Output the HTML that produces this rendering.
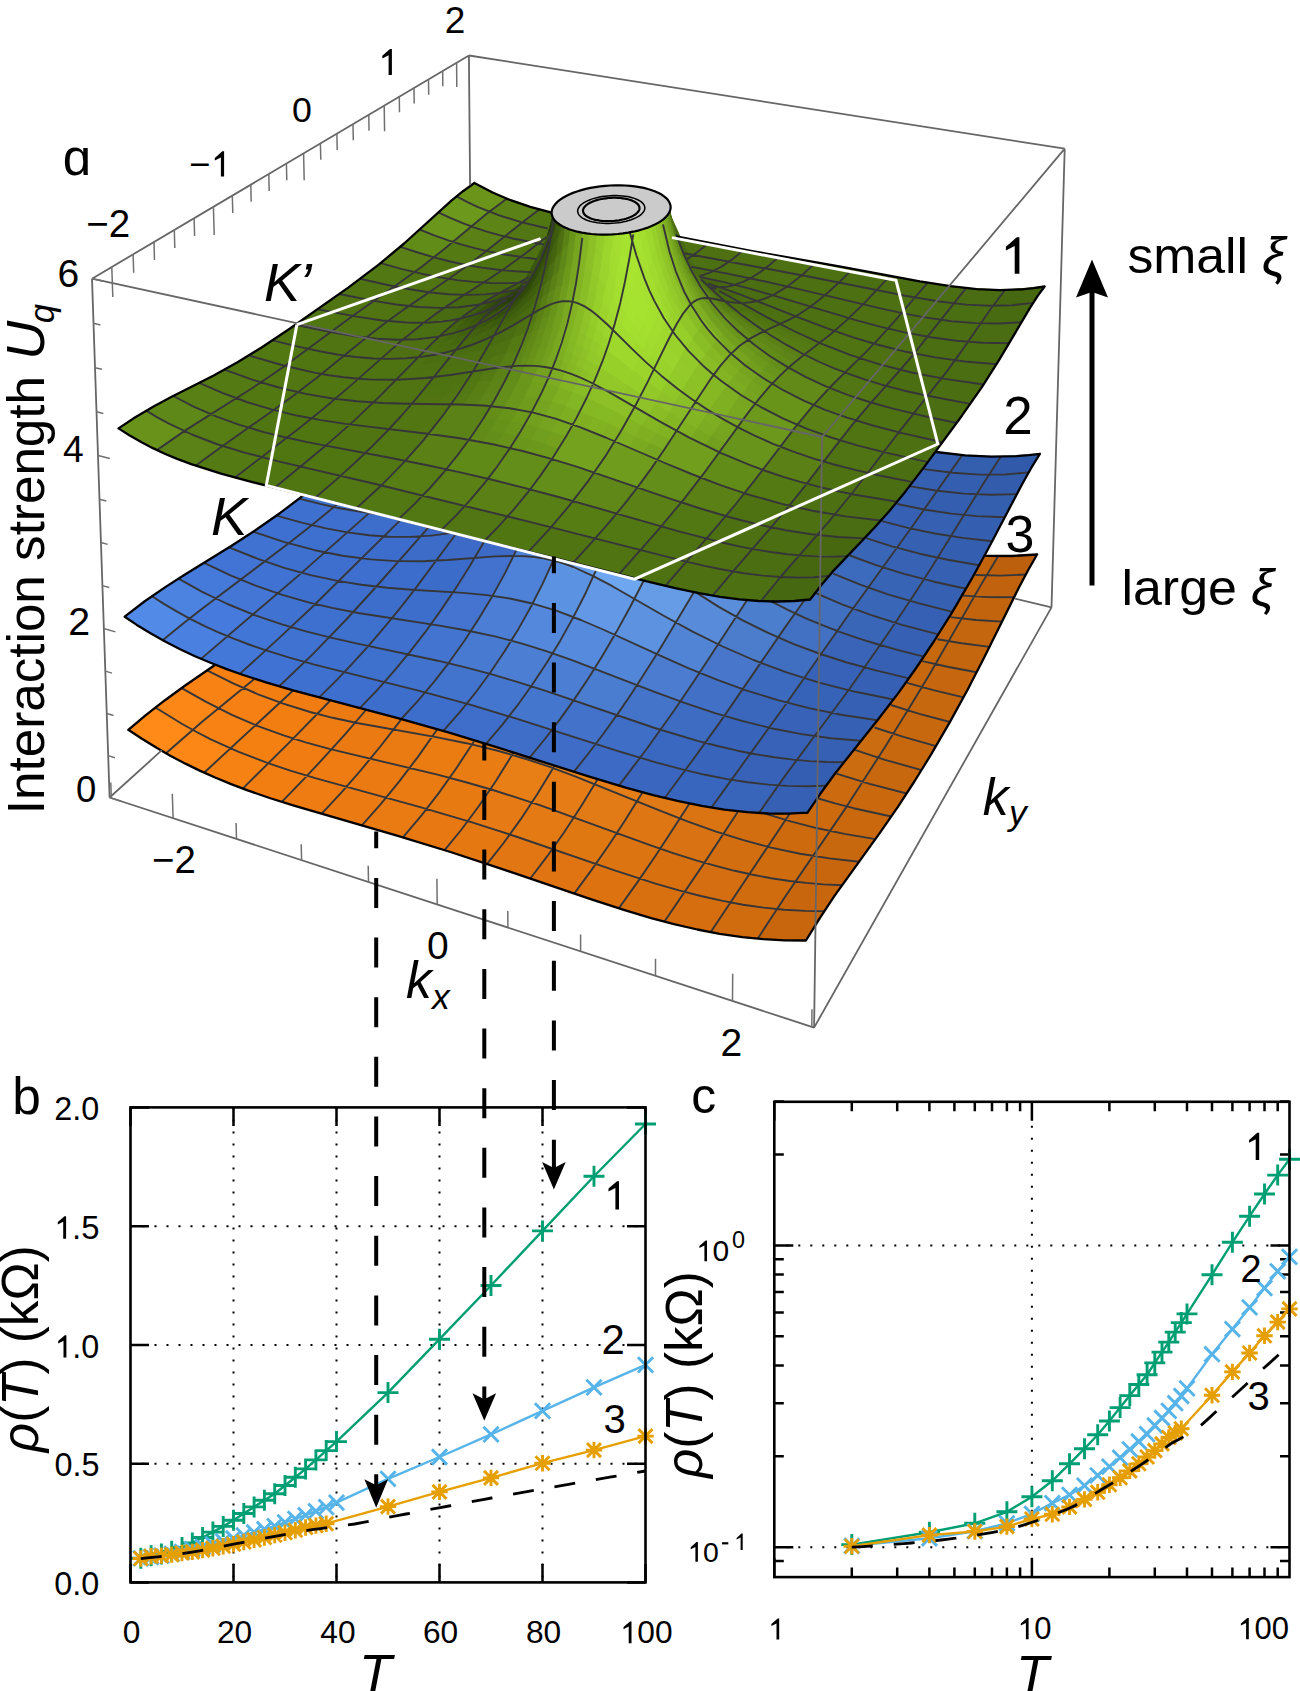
<!DOCTYPE html>
<html><head><meta charset="utf-8"><style>
html,body{margin:0;padding:0;background:#fff;}
svg{display:block;}
text{font-family:"Liberation Sans",sans-serif;}
</style></head><body>
<svg width="1300" height="1691" viewBox="0 0 1300 1691">
<rect width="1300" height="1691" fill="#fff"/>
<g stroke-width=".6"><path d="M128.3 729.8 166 753.3 192.6 729.9 155.4 707.5z" fill="#ff8a18" stroke="#ff8a18"/><path d="M155.4 707.5 192.6 729.9 218.4 708.3 181.6 688.1zM166 753.3 204.1 772.7 230.3 748.3 192.6 729.9z" fill="#fc8616" stroke="#fc8616"/><path d="M181.6 688.1 218.4 708.3 243.4 688 207.1 670.4zM192.6 729.9 230.3 748.3 255.6 725.1 218.4 708.3z" fill="#f88214" stroke="#f88214"/><path d="M207.1 670.4 243.4 688 267.6 668.3 231.7 653.4z" fill="#f68012" stroke="#f68012"/><path d="M218.4 708.3 255.6 725.1 280.1 702.6 243.4 688z" fill="#f68014" stroke="#f68014"/><path d="M243.4 688 280.1 702.6 303.9 680.4 267.6 668.3zM255.6 725.1 293.3 738.5 317.3 713.9 280.1 702.6zM242.7 788.6 281.8 801.9 307 775.8 268.4 763.3z" fill="#f27e12" stroke="#f27e12"/><path d="M204.1 772.7 242.7 788.6 268.4 763.3 230.3 748.3z" fill="#f68214" stroke="#f68214"/><path d="M230.3 748.3 268.4 763.3 293.3 738.5 255.6 725.1z" fill="#f48012" stroke="#f48012"/><path d="M280.1 702.6 317.3 713.9 340.7 689.4 303.9 680.4zM268.4 763.3 307 775.8 331.5 749.4 293.3 738.5z" fill="#f07c12" stroke="#f07c12"/><path d="M293.3 738.5 331.5 749.4 355.1 722.6 317.3 713.9zM281.8 801.9 321.5 813.8 346.3 786.9 307 775.8zM307 775.8 346.3 786.9 370.3 758.8 331.5 749.4z" fill="#ee7c12" stroke="#ee7c12"/><path d="M317.3 713.9 355.1 722.6 378 695.6 340.7 689.4zM331.5 749.4 370.3 758.8 393.4 729.7 355.1 722.6zM321.5 813.8 361.9 825.4 386.2 797.7 346.3 786.9zM346.3 786.9 386.2 797.7 409.7 768 370.3 758.8z" fill="#ec7a12" stroke="#ec7a12"/><path d="M355.1 722.6 393.4 729.7 415.9 699.8 378 695.6zM370.3 758.8 409.7 768 432.4 736.5 393.4 729.7zM361.9 825.4 402.9 837.4 426.7 808.9 386.2 797.7zM386.2 797.7 426.7 808.9 449.7 777.8 409.7 768z" fill="#ea7a12" stroke="#ea7a12"/><path d="M393.4 729.7 432.4 736.5 454.3 703.5 415.9 699.8zM402.9 837.4 444.6 850.2 468 821.1 426.7 808.9z" fill="#e87812" stroke="#e87812"/><path d="M409.7 768 449.7 777.8 472 744.4 432.4 736.5z" fill="#ea7c12" stroke="#ea7c12"/><path d="M432.4 736.5 472 744.4 493.5 708.9 454.3 703.5z" fill="#e87a14" stroke="#e87a14"/><path d="M426.7 808.9 468 821.1 490.5 789.3 449.7 777.8z" fill="#e87a12" stroke="#e87a12"/><path d="M449.7 777.8 490.5 789.3 512.2 754.8 472 744.4z" fill="#ea7c14" stroke="#ea7c14"/><path d="M472 744.4 512.2 754.8 533.3 717.9 493.5 708.9z" fill="#ea7e16" stroke="#ea7e16"/><path d="M444.6 850.2 487.1 863.9 509.9 834.5 468 821.1z" fill="#e67812" stroke="#e67812"/><path d="M468 821.1 509.9 834.5 531.9 802.5 490.5 789.3z" fill="#e67a14" stroke="#e67a14"/><path d="M490.5 789.3 531.9 802.5 553.2 768.2 512.2 754.8z" fill="#e87e16" stroke="#e87e16"/><path d="M512.2 754.8 553.2 768.2 573.7 731.7 533.3 717.9z" fill="#ea8018" stroke="#ea8018"/><path d="M487.1 863.9 530.3 878.5 552.5 849 509.9 834.5z" fill="#e27612" stroke="#e27612"/><path d="M509.9 834.5 552.5 849 574 817.4 531.9 802.5z" fill="#e47a14" stroke="#e47a14"/><path d="M531.9 802.5 574 817.4 594.7 784.1 553.2 768.2z" fill="#e67c16" stroke="#e67c16"/><path d="M553.2 768.2 594.7 784.1 614.8 749.4 573.7 731.7z" fill="#e88018" stroke="#e88018"/><path d="M530.3 878.5 574.2 893.6 595.8 864 552.5 849z" fill="#e07412" stroke="#e07412"/><path d="M552.5 849 595.8 864 616.8 833.2 574 817.4z" fill="#e07812" stroke="#e07812"/><path d="M574 817.4 616.8 833.2 637 801.4 594.7 784.1z" fill="#e27a16" stroke="#e27a16"/><path d="M594.7 784.1 637 801.4 656.5 768.9 614.8 749.4z" fill="#e67e18" stroke="#e67e18"/><path d="M574.2 893.6 618.8 908.4 639.9 878.7 595.8 864z" fill="#dc7210" stroke="#dc7210"/><path d="M595.8 864 639.9 878.7 660.2 848.7 616.8 833.2z" fill="#dc7412" stroke="#dc7412"/><path d="M616.8 833.2 660.2 848.7 679.9 818.5 637 801.4z" fill="#de7614" stroke="#de7614"/><path d="M637 801.4 679.9 818.5 698.9 788.1 656.5 768.9z" fill="#e07a16" stroke="#e07a16"/><path d="M618.8 908.4 664.3 921.7 684.7 891.9 639.9 878.7zM639.9 878.7 684.7 891.9 704.4 862.8 660.2 848.7z" fill="#d87010" stroke="#d87010"/><path d="M660.2 848.7 704.4 862.8 723.5 834 679.9 818.5z" fill="#d87212" stroke="#d87212"/><path d="M679.9 818.5 723.5 834 741.9 805.5 698.9 788.1z" fill="#da7412" stroke="#da7412"/><path d="M664.3 921.7 710.6 932.2 730.4 902.4 684.7 891.9z" fill="#d66e10" stroke="#d66e10"/><path d="M684.7 891.9 730.4 902.4 749.4 874.1 704.4 862.8z" fill="#d46e10" stroke="#d46e10"/><path d="M704.4 862.8 749.4 874.1 767.9 846.7 723.5 834zM723.5 834 767.9 846.7 785.6 820 741.9 805.5zM741.9 805.5 785.6 820 802.8 793.6 759.7 777.4z" fill="#d26e10" stroke="#d26e10"/><path d="M710.6 932.2 757.7 938.7 776.8 909.1 730.4 902.4zM730.4 902.4 776.8 909.1 795.3 881.7 749.4 874.1z" fill="#d06c0e" stroke="#d06c0e"/><path d="M749.4 874.1 795.3 881.7 813 856 767.9 846.7z" fill="#ce6c0e" stroke="#ce6c0e"/><path d="M767.9 846.7 813 856 830.1 831.1 785.6 820zM785.6 820 830.1 831.1 846.7 806.4 802.8 793.6z" fill="#ce6a0e" stroke="#ce6a0e"/><path d="M802.8 793.6 846.7 806.4 862.7 782 819.5 767.8zM851.2 718.9 893.2 733.8 907.8 710.3 866.3 696.2z" fill="#cc6a10" stroke="#cc6a10"/><path d="M819.5 767.8 862.7 782 878.2 757.7 835.6 742.7zM835.6 742.7 878.2 757.7 893.2 733.8 851.2 718.9z" fill="#cc6c10" stroke="#cc6c10"/><path d="M866.3 696.2 907.8 710.3 921.9 687.2 880.9 674.6z" fill="#ca6a10" stroke="#ca6a10"/><path d="M880.9 674.6 921.9 687.2 935.6 664.2 895.1 653.6zM813 856 859 861.7 875.4 839.1 830.1 831.1zM862.7 782 906.7 793.5 921.6 770.1 878.2 757.7zM878.2 757.7 921.6 770.1 936 746.2 893.2 733.8zM893.2 733.8 936 746.2 950 722 907.8 710.3z" fill="#c8680e" stroke="#c8680e"/><path d="M895.1 653.6 935.6 664.2 948.8 641.3 908.8 632.9zM907.8 710.3 950 722 963.5 697.3 921.9 687.2z" fill="#c6680e" stroke="#c6680e"/><path d="M908.8 632.9 948.8 641.3 961.7 618.6 922.2 612.4zM921.9 687.2 963.5 697.3 976.7 672.2 935.6 664.2z" fill="#c6660e" stroke="#c6660e"/><path d="M922.2 612.4 961.7 618.6 974.3 596.4 935.1 592.2zM935.1 592.2 974.3 596.4 986.4 575.4 947.7 572.6zM935.6 664.2 976.7 672.2 989.5 646.9 948.8 641.3zM948.8 641.3 989.5 646.9 1002 621.6 961.7 618.6z" fill="#c4660e" stroke="#c4660e"/><path d="M947.7 572.6 986.4 575.4 998.2 556.1 960 553.8zM961.7 618.6 1002 621.6 1014.1 597.2 974.3 596.4z" fill="#c2640e" stroke="#c2640e"/><path d="M757.7 938.7 805.9 940.5 824.3 911.2 776.8 909.1zM776.8 909.1 824.3 911.2 842 885.3 795.3 881.7zM795.3 881.7 842 885.3 859 861.7 813 856z" fill="#c8660e" stroke="#c8660e"/><path d="M830.1 831.1 875.4 839.1 891.3 816.5 846.7 806.4zM846.7 806.4 891.3 816.5 906.7 793.5 862.7 782z" fill="#ca680e" stroke="#ca680e"/><path d="M974.3 596.4 1014.1 597.2 1025.8 574.5 986.4 575.4z" fill="#c0620e" stroke="#c0620e"/><path d="M986.4 575.4 1025.8 574.5 1037.1 554.5 998.2 556.1z" fill="#bc600e" stroke="#bc600e"/></g>
<g></g>
<g stroke-width=".6"><path d="M124.7 616.7 162.6 640.2 189.5 618.4 152 596.2z" fill="#528ae8" stroke="#528ae8"/><path d="M152 596.2 189.5 618.4 215.5 598.5 178.5 578.6z" fill="#4c82e0" stroke="#4c82e0"/><path d="M178.5 578.6 215.5 598.5 240.7 579.7 204.1 562.8z" fill="#467ada" stroke="#467ada"/><path d="M204.1 562.8 240.7 579.7 265.1 561.5 229 547.4z" fill="#4274d6" stroke="#4274d6"/><path d="M229 547.4 265.1 561.5 288.8 543.3 253.1 531.8zM252.9 614.4 290.9 627.1 315.2 604.1 277.7 593.4zM265.8 650.3 304.7 662 329.3 637.3 290.9 627.1z" fill="#4072d2" stroke="#4072d2"/><path d="M253.1 531.8 288.8 543.3 311.7 525.2 276.4 515.6z" fill="#3e70d2" stroke="#3e70d2"/><path d="M276.4 515.6 311.7 525.2 333.9 507 299.1 498.7zM299.1 498.7 333.9 507 355.5 489 321 481.3zM265.1 561.5 301.6 572.8 324.9 552.4 288.8 543.3zM288.8 543.3 324.9 552.4 347.4 532.4 311.7 525.2zM277.7 593.4 315.2 604.1 338.7 581.1 301.6 572.8zM290.9 627.1 329.3 637.3 353.2 612.1 315.2 604.1zM279.2 686.3 319.2 697.4 344.2 672.3 304.7 662zM304.7 662 344.2 672.3 368.4 646 329.3 637.3z" fill="#3e70d0" stroke="#3e70d0"/><path d="M421.6 386.6 454.5 400.2 472.7 382.9 440.1 367.5z" fill="#5286dc" stroke="#5286dc"/><path d="M162.6 640.2 201 658.9 227.4 636.1 189.5 618.4z" fill="#4a80e0" stroke="#4a80e0"/><path d="M189.5 618.4 227.4 636.1 252.9 614.4 215.5 598.5z" fill="#467adc" stroke="#467adc"/><path d="M215.5 598.5 252.9 614.4 277.7 593.4 240.7 579.7z" fill="#4476d6" stroke="#4476d6"/><path d="M240.7 579.7 277.7 593.4 301.6 572.8 265.1 561.5zM239.8 673.9 279.2 686.3 304.7 662 265.8 650.3z" fill="#4072d4" stroke="#4072d4"/><path d="M311.7 525.2 347.4 532.4 369.2 513 333.9 507zM333.9 507 369.2 513 390.4 494.4 355.5 489zM301.6 572.8 338.7 581.1 361.5 558.4 324.9 552.4zM324.9 552.4 361.5 558.4 383.6 536.4 347.4 532.4zM315.2 604.1 353.2 612.1 376.3 586.6 338.7 581.1zM338.7 581.1 376.3 586.6 398.6 561.1 361.5 558.4zM319.2 697.4 359.8 708.1 384.4 682.1 344.2 672.3z" fill="#3e6ece" stroke="#3e6ece"/><path d="M435.8 417.9 469.4 427 487.8 410.9 454.5 400.2zM453.1 592.2 492.6 595.8 513.5 555.9 474.6 557.9z" fill="#4272ce" stroke="#4272ce"/><path d="M454.5 400.2 487.8 410.9 505.7 394.9 472.7 382.9zM466.8 703.7 509 716.3 531.2 686.2 489.5 673.7z" fill="#4476d0" stroke="#4476d0"/><path d="M201 658.9 239.8 673.9 265.8 650.3 227.4 636.1z" fill="#4478d8" stroke="#4478d8"/><path d="M227.4 636.1 265.8 650.3 290.9 627.1 252.9 614.4z" fill="#4276d6" stroke="#4276d6"/><path d="M347.4 532.4 383.6 536.4 405 515.5 369.2 513zM353.2 612.1 391.8 618.4 414.4 589.9 376.3 586.6zM391.8 618.4 431 624.3 453.1 592.2 414.4 589.9zM359.8 708.1 401.2 719 425.2 692.4 384.4 682.1zM401.2 719 443.3 730.9 466.8 703.7 425.2 692.4z" fill="#3e6ecc" stroke="#3e6ecc"/><path d="M369.2 513 405 515.5 425.9 496.3 390.4 494.4zM383.6 536.4 420.3 536.4 441.3 513.6 405 515.5zM414.4 589.9 453.1 592.2 474.6 557.9 436.3 560.7z" fill="#3c6cca" stroke="#3c6cca"/><path d="M450.5 443.3 484.9 448 503.5 433.4 469.4 427zM398.6 561.1 436.3 560.7 457.5 531.8 420.3 536.4z" fill="#3c6cc8" stroke="#3c6cc8"/><path d="M469.4 427 503.5 433.4 521.5 418.8 487.8 410.9z" fill="#3c6ac8" stroke="#3c6ac8"/><path d="M523.1 379.4 556.2 389.3 572.8 374.5 540.1 364.5z" fill="#406ec8" stroke="#406ec8"/><path d="M361.5 558.4 398.6 561.1 420.3 536.4 383.6 536.4zM376.3 586.6 414.4 589.9 436.3 560.7 398.6 561.1z" fill="#3c6ccc" stroke="#3c6ccc"/><path d="M484.9 448 519.7 449.7 538 437.2 503.5 433.4zM556.2 389.3 589.6 397.1 605.9 382.4 572.8 374.5zM420.3 536.4 457.5 531.8 478.2 505.4 441.3 513.6z" fill="#3a68c4" stroke="#3a68c4"/><path d="M329.3 637.3 368.4 646 391.8 618.4 353.2 612.1zM344.2 672.3 384.4 682.1 408.1 654.2 368.4 646z" fill="#3e70ce" stroke="#3e70ce"/><path d="M501 462.5 536.7 457.5 555.1 448.4 519.7 449.7z" fill="#3660ba" stroke="#3660ba"/><path d="M368.4 646 408.1 654.2 431 624.3 391.8 618.4z" fill="#4070ce" stroke="#4070ce"/><path d="M436.3 560.7 474.6 557.9 495.4 522 457.5 531.8zM474.6 557.9 513.5 555.9 533.9 508.6 495.4 522z" fill="#3c6ac6" stroke="#3c6ac6"/><path d="M384.4 682.1 425.2 692.4 448.5 663.2 408.1 654.2z" fill="#4072ce" stroke="#4072ce"/><path d="M408.1 654.2 448.5 663.2 470.9 631.2 431 624.3z" fill="#4274d0" stroke="#4274d0"/><path d="M431 624.3 470.9 631.2 492.6 595.8 453.1 592.2z" fill="#4474d0" stroke="#4474d0"/><path d="M515.6 487.3 553.6 450.9 572.8 404.2 535.2 461.5z" fill="#2e56aa" stroke="#2e56aa"/><path d="M425.2 692.4 466.8 703.7 489.5 673.7 448.5 663.2z" fill="#4274ce" stroke="#4274ce"/><path d="M448.5 663.2 489.5 673.7 511.4 640.6 470.9 631.2z" fill="#487ad2" stroke="#487ad2"/><path d="M470.9 631.2 511.4 640.6 532.7 603.6 492.6 595.8z" fill="#4c7ed6" stroke="#4c7ed6"/><path d="M492.6 595.8 532.7 603.6 553.2 560.5 513.5 555.9z" fill="#4e82d8" stroke="#4e82d8"/><path d="M513.5 555.9 553.2 560.5 573.1 505.2 533.9 508.6z" fill="#4e80d6" stroke="#4e80d6"/><path d="M533.9 508.6 573.1 505.2 592.4 415.2 553.6 450.9z" fill="#4476cc" stroke="#4476cc"/><path d="M443.3 730.9 486 743.8 509 716.3 466.8 703.7z" fill="#3e6eca" stroke="#3e6eca"/><path d="M489.5 673.7 531.2 686.2 552.7 653.3 511.4 640.6zM531.2 686.2 573.6 700.3 594.6 668.6 552.7 653.3z" fill="#4c7ed4" stroke="#4c7ed4"/><path d="M511.4 640.6 552.7 653.3 573.4 617 532.7 603.6z" fill="#5488dc" stroke="#5488dc"/><path d="M532.7 603.6 573.4 617 593.5 576.1 553.2 560.5z" fill="#5c92e2" stroke="#5c92e2"/><path d="M553.2 560.5 593.5 576.1 613 527.8 573.1 505.2z" fill="#669eec" stroke="#669eec"/><path d="M573.1 505.2 613 527.8 632 469 592.4 415.2z" fill="#72aaf4" stroke="#72aaf4"/><path d="M486 743.8 529.6 757.6 552 729.9 509 716.3z" fill="#3e6ec8" stroke="#3e6ec8"/><path d="M509 716.3 552 729.9 573.6 700.3 531.2 686.2z" fill="#4476ce" stroke="#4476ce"/><path d="M552.7 653.3 594.6 668.6 614.8 634.8 573.4 617z" fill="#568adc" stroke="#568adc"/><path d="M573.4 617 614.8 634.8 634.4 598.8 593.5 576.1z" fill="#6298e6" stroke="#6298e6"/><path d="M593.5 576.1 634.4 598.8 653.5 561.1 613 527.8z" fill="#6ea6f0" stroke="#6ea6f0"/><path d="M529.6 757.6 573.8 771.8 595.7 744.1 552 729.9z" fill="#3e6cc6" stroke="#3e6cc6"/><path d="M552 729.9 595.7 744.1 616.8 715.2 573.6 700.3z" fill="#4272ca" stroke="#4272ca"/><path d="M573.6 700.3 616.8 715.2 637.1 685.2 594.6 668.6z" fill="#4a7cd0" stroke="#4a7cd0"/><path d="M594.6 668.6 637.1 685.2 656.9 654.1 614.8 634.8z" fill="#5286d8" stroke="#5286d8"/><path d="M614.8 634.8 656.9 654.1 675.9 622.5 634.4 598.8z" fill="#5c92e0" stroke="#5c92e0"/><path d="M634.4 598.8 675.9 622.5 694.4 591.4 653.5 561.1z" fill="#669ce6" stroke="#669ce6"/><path d="M573.8 771.8 618.9 785.6 640.1 757.9 595.7 744.1z" fill="#3c6ac4" stroke="#3c6ac4"/><path d="M595.7 744.1 640.1 757.9 660.6 729.8 616.8 715.2z" fill="#3e6ec6" stroke="#3e6ec6"/><path d="M616.8 715.2 660.6 729.8 680.4 701.4 637.1 685.2z" fill="#4474ca" stroke="#4474ca"/><path d="M637.1 685.2 680.4 701.4 699.5 672.8 656.9 654.1z" fill="#4c7cd0" stroke="#4c7cd0"/><path d="M656.9 654.1 699.5 672.8 718.1 644.2 675.9 622.5z" fill="#5284d6" stroke="#5284d6"/><path d="M675.9 622.5 718.1 644.2 736 616.7 694.4 591.4z" fill="#588cda" stroke="#588cda"/><path d="M694.4 591.4 736 616.7 753.4 591.1 712.4 562.8z" fill="#5a8eda" stroke="#5a8eda"/><path d="M618.9 785.6 664.7 798 685.3 770.2 640.1 757.9z" fill="#3a66c0" stroke="#3a66c0"/><path d="M640.1 757.9 685.3 770.2 705.2 742.9 660.6 729.8z" fill="#3a68c0" stroke="#3a68c0"/><path d="M660.6 729.8 705.2 742.9 724.3 715.9 680.4 701.4z" fill="#3e6cc2" stroke="#3e6cc2"/><path d="M680.4 701.4 724.3 715.9 742.9 689.2 699.5 672.8z" fill="#4270c6" stroke="#4270c6"/><path d="M699.5 672.8 742.9 689.2 760.8 662.9 718.1 644.2z" fill="#4876ca" stroke="#4876ca"/><path d="M718.1 644.2 760.8 662.9 778.2 637.4 736 616.7zM753.4 591.1 795 613.3 811.2 591 770.1 568.6z" fill="#4c7ccc" stroke="#4c7ccc"/><path d="M736 616.7 778.2 637.4 795 613.3 753.4 591.1z" fill="#4c7ece" stroke="#4c7ece"/><path d="M664.7 798 711.4 807.6 731.3 779.8 685.3 770.2z" fill="#3866be" stroke="#3866be"/><path d="M685.3 770.2 731.3 779.8 750.5 753.3 705.2 742.9zM705.2 742.9 750.5 753.3 769.1 727.7 724.3 715.9z" fill="#3864bc" stroke="#3864bc"/><path d="M724.3 715.9 769.1 727.7 787 702.7 742.9 689.2z" fill="#3a66bc" stroke="#3a66bc"/><path d="M742.9 689.2 787 702.7 804.3 678.2 760.8 662.9z" fill="#3c6abe" stroke="#3c6abe"/><path d="M760.8 662.9 804.3 678.2 821 654.1 778.2 637.4z" fill="#406ec0" stroke="#406ec0"/><path d="M778.2 637.4 821 654.1 837.2 630.9 795 613.3z" fill="#4270c2" stroke="#4270c2"/><path d="M795 613.3 837.2 630.9 852.9 608.7 811.2 591z" fill="#4270c0" stroke="#4270c0"/><path d="M811.2 591 852.9 608.7 868.1 587.6 826.9 570.8z" fill="#406cbe" stroke="#406cbe"/><path d="M826.9 570.8 868.1 587.6 882.8 567.4 842.1 552.3z" fill="#3c6abc" stroke="#3c6abc"/><path d="M842.1 552.3 882.8 567.4 897 547.8 856.9 534.8zM837.2 630.9 880.2 645 895.3 622.8 852.9 608.7zM852.9 608.7 895.3 622.8 909.9 600.9 868.1 587.6z" fill="#3a66b8" stroke="#3a66b8"/><path d="M856.9 534.8 897 547.8 910.8 528.5 871.1 517.9z" fill="#3862b6" stroke="#3862b6"/><path d="M871.1 517.9 910.8 528.5 924.2 509.5 885 501zM758.9 813 807.5 812.7 826 785.7 778.2 785.4zM796.7 760 843.8 762.2 861 740.8 814.6 736.1zM814.6 736.1 861 740.8 877.5 720.2 831.8 713zM831.8 713 877.5 720.2 893.5 699.5 848.5 690.2zM848.5 690.2 893.5 699.5 908.9 678.3 864.6 667.5zM864.6 667.5 908.9 678.3 923.9 656.6 880.2 645zM880.2 645 923.9 656.6 938.4 634.4 895.3 622.8zM895.3 622.8 938.4 634.4 952.4 611.8 909.9 600.9z" fill="#3660b4" stroke="#3660b4"/><path d="M885 501 924.2 509.5 937.3 490.8 898.5 484zM898.5 484 937.3 490.8 949.9 472.6 911.6 467.1zM911.6 467.1 949.9 472.6 962.2 455.1 924.3 450.2zM897 547.8 937.8 557.7 951.2 536.3 910.8 528.5zM910.8 528.5 951.2 536.3 964.1 515 924.2 509.5zM909.9 600.9 952.4 611.8 966.1 588.7 924.1 579.3zM924.1 579.3 966.1 588.7 979.3 565.2 937.8 557.7z" fill="#3660b2" stroke="#3660b2"/><path d="M711.4 807.6 758.9 813 778.2 785.4 731.3 779.8z" fill="#3864ba" stroke="#3864ba"/><path d="M731.3 779.8 778.2 785.4 796.7 760 750.5 753.3zM750.5 753.3 796.7 760 814.6 736.1 769.1 727.7zM769.1 727.7 814.6 736.1 831.8 713 787 702.7zM804.3 678.2 848.5 690.2 864.6 667.5 821 654.1z" fill="#3862b8" stroke="#3862b8"/><path d="M787 702.7 831.8 713 848.5 690.2 804.3 678.2z" fill="#3662b8" stroke="#3662b8"/><path d="M821 654.1 864.6 667.5 880.2 645 837.2 630.9z" fill="#3a64b8" stroke="#3a64b8"/><path d="M868.1 587.6 909.9 600.9 924.1 579.3 882.8 567.4z" fill="#3864b6" stroke="#3864b6"/><path d="M882.8 567.4 924.1 579.3 937.8 557.7 897 547.8z" fill="#3862b4" stroke="#3862b4"/><path d="M924.2 509.5 964.1 515 976.7 494.3 937.3 490.8zM937.3 490.8 976.7 494.3 988.9 474.7 949.9 472.6zM937.8 557.7 979.3 565.2 992.2 541.2 951.2 536.3zM951.2 536.3 992.2 541.2 1004.7 517.3 964.1 515z" fill="#345eb0" stroke="#345eb0"/><path d="M949.9 472.6 988.9 474.7 1000.7 456.7 962.2 455.1zM964.1 515 1004.7 517.3 1016.8 494.1 976.7 494.3z" fill="#345eae" stroke="#345eae"/><path d="M778.2 785.4 826 785.7 843.8 762.2 796.7 760z" fill="#345eb2" stroke="#345eb2"/><path d="M976.7 494.3 1016.8 494.1 1028.6 472.5 988.9 474.7z" fill="#345cac" stroke="#345cac"/><path d="M988.9 474.7 1028.6 472.5 1039.9 453.8 1000.7 456.7z" fill="#325aaa" stroke="#325aaa"/></g>
<g></g>
<g stroke-width=".6"><path d="M118.5 428.4 156.9 450.1 184.2 431.1 146.3 410.6z" fill="#68921a" stroke="#68921a"/><path d="M146.3 410.6 184.2 431.1 210.6 414.2 173.2 396z" fill="#5e8818" stroke="#5e8818"/><path d="M173.2 396 210.6 414.2 236.2 398.3 199.2 382.9z" fill="#588014" stroke="#588014"/><path d="M199.2 382.9 236.2 398.3 261 382.4 224.5 369.7zM210.6 414.2 248.4 427.7 273.6 410.1 236.2 398.3zM433.9 257.3 467.9 265.2 486.5 251 452.8 241.9zM195.6 465.7 234.9 477.6 261.3 457.1 222.5 446zM744.5 493.2 789.2 505.7 806.7 483.7 762.7 469.9z" fill="#547a14" stroke="#547a14"/><path d="M224.5 369.7 261 382.4 284.9 365.8 248.9 355.5zM360.2 278.8 394.4 286.4 414.4 272.1 380.6 263.2zM315.2 497.7 356.4 508.3 381.4 485.4 340.7 475.7zM340.7 475.7 381.4 485.4 405.4 460.8 365.2 453.1zM365.2 453.1 405.4 460.8 428.7 433.9 389 429.2zM356.4 508.3 398.3 519.4 422.7 495.7 381.4 485.4zM398.3 519.4 440.9 530.4 464.8 506.1 422.7 495.7zM595.4 538.3 640.4 550.1 661.2 526.4 616.8 513.5zM661.2 526.4 706.4 538.7 725.8 516.1 681.2 502.4zM804.3 354.6 844.8 372.5 859.7 358.2 819.6 342.9z" fill="#527814" stroke="#527814"/><path d="M248.9 355.5 284.9 365.8 308.1 348.9 272.5 340.3zM236.2 398.3 273.6 410.1 297.9 392.2 261 382.4z" fill="#527812" stroke="#527812"/><path d="M272.5 340.3 308.1 348.9 330.7 332 295.4 324.7zM295.4 324.7 330.7 332 352.5 315.9 317.7 309.2zM284.9 365.8 321.4 373.9 344.3 355.5 308.1 348.9zM248.4 427.7 286.8 437.7 311.5 418.5 273.6 410.1zM273.6 410.1 311.5 418.5 335.3 398.9 297.9 392.2zM297.9 392.2 335.3 398.9 358.5 378.8 321.4 373.9zM522.2 222.4 555.5 230 572.3 217.1 539.3 209.5zM234.9 477.6 274.7 487.7 300.7 466.5 261.3 457.1zM261.3 457.1 300.7 466.5 325.7 445.7 286.8 437.7zM286.8 437.7 325.7 445.7 349.9 424.5 311.5 418.5zM274.7 487.7 315.2 497.7 340.7 475.7 300.7 466.5zM300.7 466.5 340.7 475.7 365.2 453.1 325.7 445.7zM484.3 541 528.4 551.6 551.1 527.2 507.6 516.5z" fill="#507612" stroke="#507612"/><path d="M317.7 309.2 352.5 315.9 373.8 300.8 339.2 294zM339.2 294 373.8 300.8 394.4 286.4 360.2 278.8zM308.1 348.9 344.3 355.5 366.4 337.7 330.7 332zM330.7 332 366.4 337.7 387.9 321.1 352.5 315.9zM352.5 315.9 387.9 321.1 408.8 306.1 373.8 300.8zM373.8 300.8 408.8 306.1 429 292.3 394.4 286.4zM394.4 286.4 429 292.3 448.7 278.9 414.4 272.1zM414.4 272.1 448.7 278.9 467.9 265.2 433.9 257.3zM321.4 373.9 358.5 378.8 380.9 358.8 344.3 355.5zM344.3 355.5 380.9 358.8 402.6 339.8 366.4 337.7zM486.5 251 520.5 257.1 538.3 243.6 504.6 236.5zM311.5 418.5 349.9 424.5 373.3 402.5 335.3 398.9zM335.3 398.9 373.3 402.5 396 379.8 358.5 378.8zM325.7 445.7 365.2 453.1 389 429.2 349.9 424.5zM349.9 424.5 389 429.2 411.9 403.9 373.3 402.5zM373.3 402.5 411.9 403.9 434.1 377.1 396 379.8zM528.4 551.6 573.2 562.6 595.4 538.3 551.1 527.2zM573.2 562.6 618.9 574.3 640.4 550.1 595.4 538.3zM819.6 342.9 859.7 358.2 874.1 343.7 834.5 331zM840 440.3 883.6 452.1 898.8 432.2 855.8 420.5z" fill="#507412" stroke="#507412"/><path d="M380.6 263.2 414.4 272.1 433.9 257.3 400.4 246.8zM452.8 241.9 486.5 251 504.6 236.5 471.3 226.4zM405.4 460.8 446.3 469.3 469 439.8 428.7 433.9zM422.7 495.7 464.8 506.1 487.9 478.8 446.3 469.3zM464.8 506.1 507.6 516.5 530.1 489.4 487.9 478.8zM616.8 513.5 661.2 526.4 681.2 502.4 637.4 487.4zM681.2 502.4 725.8 516.1 744.5 493.2 700.6 477.6zM762.7 469.9 806.7 483.7 823.6 461.6 780.2 446.8zM797.2 424.8 840 440.3 855.8 420.5 813.6 405.1z" fill="#5a8016" stroke="#5a8016"/><path d="M400.4 246.8 433.9 257.3 452.8 241.9 419.6 229.5zM700.6 477.6 744.5 493.2 762.7 469.9 719.4 452.2z" fill="#628c18" stroke="#628c18"/><path d="M419.6 229.5 452.8 241.9 471.3 226.4 438.3 212.3z" fill="#6a961c" stroke="#6a961c"/><path d="M438.3 212.3 471.3 226.4 489.2 211.7 456.6 196.3zM737.5 427.1 780.2 446.8 797.2 424.8 755 403.7z" fill="#6c981c" stroke="#6c981c"/><path d="M456.6 196.3 489.2 211.7 506.7 198.7 474.4 183z" fill="#6a941a" stroke="#6a941a"/><path d="M156.9 450.1 195.6 465.7 222.5 446 184.2 431.1zM489.2 211.7 522.2 222.4 539.3 209.5 506.7 198.7zM428.7 433.9 469 439.8 491 406.1 451.1 404.3z" fill="#5a8216" stroke="#5a8216"/><path d="M184.2 431.1 222.5 446 248.4 427.7 210.6 414.2zM381.4 485.4 422.7 495.7 446.3 469.3 405.4 460.8z" fill="#567e14" stroke="#567e14"/><path d="M261 382.4 297.9 392.2 321.4 373.9 284.9 365.8zM222.5 446 261.3 457.1 286.8 437.7 248.4 427.7zM389 429.2 428.7 433.9 451.1 404.3 411.9 403.9z" fill="#527612" stroke="#527612"/><path d="M471.3 226.4 504.6 236.5 522.2 222.4 489.2 211.7z" fill="#5c8416" stroke="#5c8416"/><path d="M366.4 337.7 402.6 339.8 423.7 322.7 387.9 321.1zM467.9 265.2 502.3 270.2 520.5 257.1 486.5 251zM358.5 378.8 396 379.8 418 357.3 380.9 358.8z" fill="#4e7412" stroke="#4e7412"/><path d="M387.9 321.1 423.7 322.7 444.2 307.9 408.8 306.1zM408.8 306.1 444.2 307.9 464.1 294.9 429 292.3zM429 292.3 464.1 294.9 483.5 282.6 448.7 278.9zM448.7 278.9 483.5 282.6 502.3 270.2 467.9 265.2zM502.3 270.2 537.1 272.5 555 261.2 520.5 257.1zM520.5 257.1 555 261.2 572.4 248.9 538.3 243.6zM538.3 243.6 572.4 248.9 589.3 236.1 555.5 230zM658.3 248.3 693.5 255 708.8 242.9 674 236zM780.2 324.2 819.6 342.9 834.5 331 795.6 316.3zM618.9 574.3 665.4 585.9 686.3 561.7 640.4 550.1zM640.4 550.1 686.3 561.7 706.4 538.7 661.2 526.4zM834.5 331 874.1 343.7 888.1 328.6 849 318.2zM725.8 516.1 771.1 527.4 789.2 505.7 744.5 493.2zM844.8 372.5 886 385.9 900.3 369.8 859.7 358.2zM806.7 483.7 851.5 494 867.8 472.9 823.6 461.6zM855.8 420.5 898.8 432.2 913.5 413.6 871.2 402.5z" fill="#4e7212" stroke="#4e7212"/><path d="M504.6 236.5 538.3 243.6 555.5 230 522.2 222.4zM440.9 530.4 484.3 541 507.6 516.5 464.8 506.1zM829.5 387.8 871.2 402.5 886 385.9 844.8 372.5z" fill="#527614" stroke="#527614"/><path d="M380.9 358.8 418 357.3 439.3 336.4 402.6 339.8zM693.5 255 729.1 261.7 744.1 249.6 708.8 242.9zM849 318.2 888.1 328.6 901.7 313 863 304.4zM665.4 585.9 712.7 595.7 732.9 571.4 686.3 561.7zM686.3 561.7 732.9 571.4 752.4 549 706.4 538.7zM859.7 358.2 900.3 369.8 914.2 353.6 874.1 343.7z" fill="#4e7012" stroke="#4e7012"/><path d="M402.6 339.8 439.3 336.4 460 318.6 423.7 322.7zM940.9 319.8 980.7 323.3 993 305.8 953.6 303.4zM955 360.3 996.5 364.2 1009.1 343.2 968.1 341.8z" fill="#4a6e12" stroke="#4a6e12"/><path d="M423.7 322.7 460 318.6 480.2 304.4 444.2 307.9zM464.1 294.9 499.7 293 518.7 282.8 483.5 282.6zM661.5 270.8 698 276.6 713.8 271 677.7 264.5zM980.7 323.3 1021.3 322.3 1033.1 302.9 993 305.8z" fill="#486a10" stroke="#486a10"/><path d="M444.2 307.9 480.2 304.4 499.7 293 464.1 294.9zM761 601.1 810.2 599.5 829 576 780.4 577zM993 305.8 1033.1 302.9 1044.6 286.5 1004.9 290.1z" fill="#466810" stroke="#466810"/><path d="M483.5 282.6 518.7 282.8 537.1 272.5 502.3 270.2zM735 284.9 772.5 295.2 787.4 286.4 750.3 278.3zM839.1 282.5 876.7 290.1 890 275.8 852.8 268.8zM876.7 290.1 914.9 297.5 927.7 282.7 890 275.8zM888.1 328.6 927.7 336.8 940.9 319.8 901.7 313zM901.7 313 940.9 319.8 953.6 303.4 914.9 297.5zM914.9 297.5 953.6 303.4 966 288.1 927.7 282.7zM732.9 571.4 780.4 577 799.2 555.3 752.4 549zM752.4 549 799.2 555.3 817.3 535 771.1 527.4zM886 385.9 927.8 395.9 941.6 378.3 900.3 369.8zM900.3 369.8 941.6 378.3 955 360.3 914.2 353.6zM914.2 353.6 955 360.3 968.1 341.8 927.7 336.8zM927.7 336.8 968.1 341.8 980.7 323.3 940.9 319.8zM834.7 514.7 881 520.5 897.1 501.8 851.5 494zM851.5 494 897.1 501.8 912.8 482.1 867.8 472.9zM867.8 472.9 912.8 482.1 927.9 462.1 883.6 452.1zM898.8 432.2 942.5 442.3 956.6 423 913.5 413.6zM913.5 413.6 956.6 423 970.3 403.9 927.8 395.9zM927.8 395.9 970.3 403.9 983.6 384.5 941.6 378.3zM941.6 378.3 983.6 384.5 996.5 364.2 955 360.3z" fill="#4c6e12" stroke="#4c6e12"/><path d="M518.7 282.8 554.4 279.6 572.5 272.7 537.1 272.5z" fill="#446410" stroke="#446410"/><path d="M642.1 258.8 677.7 264.5 693.5 255 658.3 248.3zM677.7 264.5 713.8 271 729.1 261.7 693.5 255zM713.8 271 750.3 278.3 765.3 268.4 729.1 261.7zM729.1 261.7 765.3 268.4 779.8 256 744.1 249.6zM750.3 278.3 787.4 286.4 801.9 275.2 765.3 268.4zM765.3 268.4 801.9 275.2 816.1 262.3 779.8 256zM757.1 301 795.6 316.3 810.5 306.7 772.5 295.2zM772.5 295.2 810.5 306.7 825 295.2 787.4 286.4zM787.4 286.4 825 295.2 839.1 282.5 801.9 275.2zM801.9 275.2 839.1 282.5 852.8 268.8 816.1 262.3zM795.6 316.3 834.5 331 849 318.2 810.5 306.7zM810.5 306.7 849 318.2 863 304.4 825 295.2zM825 295.2 863 304.4 876.7 290.1 839.1 282.5zM863 304.4 901.7 313 914.9 297.5 876.7 290.1zM706.4 538.7 752.4 549 771.1 527.4 725.8 516.1zM874.1 343.7 914.2 353.6 927.7 336.8 888.1 328.6zM712.7 595.7 761 601.1 780.4 577 732.9 571.4zM771.1 527.4 817.3 535 834.7 514.7 789.2 505.7zM789.2 505.7 834.7 514.7 851.5 494 806.7 483.7zM871.2 402.5 913.5 413.6 927.8 395.9 886 385.9zM883.6 452.1 927.9 462.1 942.5 442.3 898.8 432.2z" fill="#4c7012" stroke="#4c7012"/><path d="M446.3 469.3 487.9 478.8 510.1 447.9 469 439.8z" fill="#608a18" stroke="#608a18"/><path d="M487.9 478.8 530.1 489.4 551.9 459 510.1 447.9zM530.1 489.4 573.1 501 594.3 472.6 551.9 459zM637.4 487.4 681.2 502.4 700.6 477.6 657.4 459.8z" fill="#648e1a" stroke="#648e1a"/><path d="M698 276.6 735 284.9 750.3 278.3 713.8 271zM719.2 287.1 757.1 301 772.5 295.2 735 284.9zM953.6 303.4 993 305.8 1004.9 290.1 966 288.1zM817.3 535 864.3 538.4 881 520.5 834.7 514.7zM968.1 341.8 1009.1 343.2 1021.3 322.3 980.7 323.3z" fill="#4a6c12" stroke="#4a6c12"/><path d="M507.6 516.5 551.1 527.2 573.1 501 530.1 489.4z" fill="#587e16" stroke="#587e16"/><path d="M551.9 459 594.3 472.6 614.8 441.3 572.9 424.5z" fill="#74a21e" stroke="#74a21e"/><path d="M551.1 527.2 595.4 538.3 616.8 513.5 573.1 501zM813.6 405.1 855.8 420.5 871.2 402.5 829.5 387.8z" fill="#567c14" stroke="#567c14"/><path d="M573.1 501 616.8 513.5 637.4 487.4 594.3 472.6z" fill="#608818" stroke="#608818"/><path d="M594.3 472.6 637.4 487.4 657.4 459.8 614.8 441.3z" fill="#709c1e" stroke="#709c1e"/><path d="M657.4 459.8 700.6 477.6 719.4 452.2 676.7 430.8z" fill="#729e1e" stroke="#729e1e"/><path d="M719.4 452.2 762.7 469.9 780.2 446.8 737.5 427.1z" fill="#68941c" stroke="#68941c"/><path d="M755 403.7 797.2 424.8 813.6 405.1 772 383.8z" fill="#68941a" stroke="#68941a"/><path d="M772 383.8 813.6 405.1 829.5 387.8 788.4 367.7z" fill="#628a18" stroke="#628a18"/><path d="M788.4 367.7 829.5 387.8 844.8 372.5 804.3 354.6z" fill="#588016" stroke="#588016"/><path d="M780.2 446.8 823.6 461.6 840 440.3 797.2 424.8z" fill="#5c8216" stroke="#5c8216"/><path d="M823.6 461.6 867.8 472.9 883.6 452.1 840 440.3z" fill="#507414" stroke="#507414"/><path d="M780.4 577 829 576 847 556.3 799.2 555.3z" fill="#466610" stroke="#466610"/><path d="M799.2 555.3 847 556.3 864.3 538.4 817.3 535z" fill="#486810" stroke="#486810"/></g>
<g><path d="M681.7 277.2 719.2 287.1 735 284.9 698 276.6z" fill="#446410"/><path d="M692.6 277.4 704.9 280 710.3 279.1 698 276.6z" fill="#466610" stroke="#466610" stroke-width=".9"/><path d="M704.9 280 717.3 282.9 722.6 281.8 710.3 279.1zM712 283.4 724.5 286.9 729.8 286.2 717.3 282.9z" fill="#466810" stroke="#466810" stroke-width=".9"/><path d="M717.3 282.9 729.8 286.2 735 284.9 722.6 281.8z" fill="#486a10" stroke="#486a10" stroke-width=".9"/><path d="M687.2 277.7 699.6 280.3 704.9 280 692.6 277.4z" fill="#426210" stroke="#426210" stroke-width=".9"/><path d="M699.6 280.3 712 283.4 717.3 282.9 704.9 280zM706.6 283.2 719.2 287.1 724.5 286.9 712 283.4z" fill="#446410" stroke="#446410" stroke-width=".9"/><path d="M694.2 279.9 706.6 283.2 712 283.4 699.6 280.3z" fill="#42600e" stroke="#42600e" stroke-width=".9"/><path d="M499.7 293 535.8 285.6 554.4 279.6 518.7 282.8z" fill="#3a570d"/><path d="M512.4 286.2 524.3 285.1 530.5 282.1 518.7 282.8z" fill="#426210" stroke="#426210" stroke-width=".9"/><path d="M506.1 289.5 518 288.1 524.3 285.1 512.4 286.2z" fill="#40600e" stroke="#40600e" stroke-width=".9"/><path d="M518 288.1 530 286.1 536.3 283.6 524.3 285.1z" fill="#3a580e" stroke="#3a580e" stroke-width=".9"/><path d="M499.7 293 511.7 291.2 518 288.1 506.1 289.5z" fill="#3e5c0e" stroke="#3e5c0e" stroke-width=".9"/><path d="M511.7 291.2 523.7 288.7 530 286.1 518 288.1z" fill="#38540c" stroke="#38540c" stroke-width=".9"/><path d="M665 269.3 702.9 282.6 719.2 287.1 681.7 277.2z" fill="#38540d"/><path d="M701.2 282.2 713.8 286.5 719.2 287.1 706.6 283.2z" fill="#426210" stroke="#426210" stroke-width=".9"/><path d="M695.8 280.2 708.4 285.1 713.8 286.5 701.2 282.2z" fill="#3e5c0e" stroke="#3e5c0e" stroke-width=".9"/><path d="M480.2 304.4 516.6 293.2 535.8 285.6 499.7 293z" fill="#334e0c"/><path d="M493.3 296.6 505.3 294.4 511.7 291.2 499.7 293z" fill="#3e5a0e" stroke="#3e5a0e" stroke-width=".9"/><path d="M505.3 294.4 517.3 291.5 523.7 288.7 511.7 291.2z" fill="#36500c" stroke="#36500c" stroke-width=".9"/><path d="M486.7 300.3 498.8 297.9 505.3 294.4 493.3 296.6zM480.2 304.4 492.2 301.7 498.8 297.9 486.7 300.3z" fill="#3c5a0e" stroke="#3c5a0e" stroke-width=".9"/><path d="M498.8 297.9 510.9 294.6 517.3 291.5 505.3 294.4zM492.2 301.7 504.4 298 510.9 294.6 498.8 297.9z" fill="#344e0c" stroke="#344e0c" stroke-width=".9"/><path d="M510.9 294.6 523.1 290.3 529.5 287.8 517.3 291.5z" fill="#2a400a" stroke="#2a400a" stroke-width=".9"/><path d="M504.4 298 516.6 293.2 523.1 290.3 510.9 294.6z" fill="#283e0a" stroke="#283e0a" stroke-width=".9"/><path d="M702.9 282.6 741.3 303.1 757.1 301 719.2 287.1z" fill="#476810"/><path d="M713.8 286.5 726.5 291.3 731.8 291.4 719.2 287.1z" fill="#466610" stroke="#466610" stroke-width=".9"/><path d="M726.5 291.3 739.2 296.6 744.4 296 731.8 291.4z" fill="#486a10" stroke="#486a10" stroke-width=".9"/><path d="M739.2 296.6 751.9 302.1 757.1 301 744.4 296zM733.8 296.6 746.6 302.8 751.9 302.1 739.2 296.6z" fill="#4a6c12" stroke="#4a6c12" stroke-width=".9"/><path d="M708.4 285.1 721.1 290.6 726.5 291.3 713.8 286.5z" fill="#446410" stroke="#446410" stroke-width=".9"/><path d="M721.1 290.6 733.8 296.6 739.2 296.6 726.5 291.3z" fill="#486810" stroke="#486810" stroke-width=".9"/><path d="M702.9 282.6 715.7 289 721.1 290.6 708.4 285.1z" fill="#426010" stroke="#426010" stroke-width=".9"/><path d="M715.7 289 728.5 295.9 733.8 296.6 721.1 290.6z" fill="#466810" stroke="#466810" stroke-width=".9"/><path d="M728.5 295.9 741.3 303.1 746.6 302.8 733.8 296.6z" fill="#4a6c10" stroke="#4a6c10" stroke-width=".9"/><path d="M741.3 303.1 780.2 324.2 795.6 316.3 757.1 301z" fill="#4c6f12"/><path d="M751.9 302.1 764.7 307.8 769.9 306.1 757.1 301zM746.6 302.8 759.5 309.2 764.7 307.8 751.9 302.1zM741.3 303.1 754.2 310.2 759.5 309.2 746.6 302.8z" fill="#4c6e12" stroke="#4c6e12" stroke-width=".9"/><path d="M764.7 307.8 777.6 313.5 782.7 311.2 769.9 306.1zM777.6 313.5 790.5 319.1 795.6 316.3 782.7 311.2zM759.5 309.2 772.4 315.5 777.6 313.5 764.7 307.8zM772.4 315.5 785.4 321.7 790.5 319.1 777.6 313.5zM754.2 310.2 767.2 317.3 772.4 315.5 759.5 309.2zM767.2 317.3 780.2 324.2 785.4 321.7 772.4 315.5z" fill="#4c7012" stroke="#4c7012" stroke-width=".9"/><path d="M460 318.6 496.9 305.6 516.6 293.2 480.2 304.4z" fill="#344f0c"/><path d="M473.5 308.7 485.6 305.8 492.2 301.7 480.2 304.4z" fill="#3c5a0e" stroke="#3c5a0e" stroke-width=".9"/><path d="M485.6 305.8 497.8 301.8 504.4 298 492.2 301.7z" fill="#344e0c" stroke="#344e0c" stroke-width=".9"/><path d="M466.8 313.5 479 310.4 485.6 305.8 473.5 308.7z" fill="#3e5c0e" stroke="#3e5c0e" stroke-width=".9"/><path d="M497.8 301.8 510.1 296.6 516.6 293.2 504.4 298z" fill="#283e0a" stroke="#283e0a" stroke-width=".9"/><path d="M479 310.4 491.2 306.3 497.8 301.8 485.6 305.8z" fill="#36500c" stroke="#36500c" stroke-width=".9"/><path d="M460 318.6 472.2 315.5 479 310.4 466.8 313.5z" fill="#3e5e0e" stroke="#3e5e0e" stroke-width=".9"/><path d="M491.2 306.3 503.5 300.7 510.1 296.6 497.8 301.8z" fill="#2a400a" stroke="#2a400a" stroke-width=".9"/><path d="M472.2 315.5 484.5 311.3 491.2 306.3 479 310.4z" fill="#38540c" stroke="#38540c" stroke-width=".9"/><path d="M484.5 311.3 496.9 305.6 503.5 300.7 491.2 306.3z" fill="#2e460a" stroke="#2e460a" stroke-width=".9"/><path d="M686.2 264.7 725 301.3 741.3 303.1 702.9 282.6z" fill="#446410"/><path d="M697.4 278.7 710.2 286.5 715.7 289 702.9 282.6z" fill="#405e0e" stroke="#405e0e" stroke-width=".9"/><path d="M710.2 286.5 723 294.6 728.5 295.9 715.7 289zM704.7 282.7 717.6 292.6 723 294.6 710.2 286.5z" fill="#466610" stroke="#466610" stroke-width=".9"/><path d="M723 294.6 735.9 302.9 741.3 303.1 728.5 295.9zM717.6 292.6 730.5 302.3 735.9 302.9 723 294.6zM712 289.7 725 301.3 730.5 302.3 717.6 292.6z" fill="#4a6c10" stroke="#4a6c10" stroke-width=".9"/><path d="M691.8 273 704.7 282.7 710.2 286.5 697.4 278.7z" fill="#3e5c0e" stroke="#3e5c0e" stroke-width=".9"/><path d="M699.1 277.3 712 289.7 717.6 292.6 704.7 282.7z" fill="#446610" stroke="#446610" stroke-width=".9"/><path d="M496.9 305.6 534.2 273.4 553.6 267.8 516.6 293.2z" fill="#283e09"/><path d="M503.5 300.7 515.9 293.4 522.4 289.7 510.1 296.6zM496.9 305.6 509.3 298.2 515.9 293.4 503.5 300.7z" fill="#283e0a" stroke="#283e0a" stroke-width=".9"/><path d="M553.6 267.8 591.3 196.9 609.8 250.2 572.5 271.5z" fill="#283e09"/><path d="M594.3 238.8 600.6 230.5 603.7 238.3 597.4 244.7zM591.2 232 597.6 221.1 600.6 230.5 594.3 238.8zM581.8 236.2 588.1 224.2 591.2 232 584.9 241.5zM588.1 224.2 594.4 210 597.6 221.1 591.2 232zM578.7 230.6 585 215.6 588.1 224.2 581.8 236.2zM585 215.6 591.3 196.9 594.4 210 588.1 224.2z" fill="#283e0a" stroke="#283e0a" stroke-width=".9"/><path d="M603.7 238.3 610 231.8 613 239.9 606.7 244.8zM625.7 231.5 632.1 228.6 635 238.7 628.7 240.6zM610 231.8 616.3 225.4 619.4 235.4 613 239.9zM632.1 228.6 638.4 227.2 641.4 238 635 238.7zM600.6 230.5 607 221.7 610 231.8 603.7 238.3zM616.3 225.4 622.7 219.8 625.7 231.5 619.4 235.4zM638.4 227.2 644.8 227.5 647.7 238.5 641.4 238zM622.7 219.8 629.1 215.4 632.1 228.6 625.7 231.5zM607 221.7 613.3 212.7 616.3 225.4 610 231.8zM629.1 215.4 635.5 212.8 638.4 227.2 632.1 228.6zM597.6 221.1 603.9 209.1 607 221.7 600.6 230.5zM613.3 212.7 619.7 204.3 622.7 219.8 616.3 225.4zM635.5 212.8 641.9 212.7 644.8 227.5 638.4 227.2zM619.7 204.3 626.1 197.4 629.1 215.4 622.7 219.8zM603.9 209.1 610.3 196.2 613.3 212.7 607 221.7zM626.1 197.4 632.5 193.1 635.5 212.8 629.1 215.4zM610.3 196.2 615.2 186.2 617 186.1 619.7 204.3 613.3 212.7zM632.5 193.1 638.9 192.3 641.9 212.7 635.5 212.8zM624.7 186.2 626.1 197.4 619.7 204.3 617 186.1zM600.8 193.3 602.9 186.9 608.9 186.4 610.3 196.2 603.9 209.1zM615.2 186.2 610.3 196.2 608.9 186.4zM631.8 186.9 632.5 193.1 626.1 197.4 624.7 186.2zM602.9 186.9 600.8 193.3 599.8 187.2zM638.5 187.8 638.9 192.3 632.5 193.1 631.8 186.9z" fill="#283e08" stroke="#283e08" stroke-width=".9"/><path d="M594.4 210 600.8 193.3 603.9 209.1 597.6 221.1zM591.3 196.9 593.7 188.2 599.8 187.2 600.8 193.3 594.4 210z" fill="#283e0a" stroke="#283e0a" stroke-width=".9"/><path d="M725 301.3 764.4 331.2 780.2 324.2 741.3 303.1z" fill="#4e7212"/><path d="M735.9 302.9 748.9 311.1 754.2 310.2 741.3 303.1zM730.5 302.3 743.5 311.6 748.9 311.1 735.9 302.9z" fill="#4c6e12" stroke="#4c6e12" stroke-width=".9"/><path d="M748.9 311.1 761.9 318.9 767.2 317.3 754.2 310.2zM725 301.3 738.1 312.1 743.5 311.6 730.5 302.3z" fill="#4c7012" stroke="#4c7012" stroke-width=".9"/><path d="M761.9 318.9 775 326.5 780.2 324.2 767.2 317.3zM743.5 311.6 756.6 320.5 761.9 318.9 748.9 311.1z" fill="#4e7212" stroke="#4e7212" stroke-width=".9"/><path d="M756.6 320.5 769.7 328.8 775 326.5 761.9 318.9z" fill="#507412" stroke="#507412" stroke-width=".9"/><path d="M738.1 312.1 751.2 322 756.6 320.5 743.5 311.6z" fill="#507614" stroke="#507614" stroke-width=".9"/><path d="M751.2 322 764.4 331.2 769.7 328.8 756.6 320.5z" fill="#547814" stroke="#547814" stroke-width=".9"/><path d="M439.3 336.4 476.5 325.1 496.9 305.6 460 318.6z" fill="#3d5b0e"/><path d="M453.2 324.1 465.4 321.1 472.2 315.5 460 318.6z" fill="#40600e" stroke="#40600e" stroke-width=".9"/><path d="M465.4 321.1 477.8 316.9 484.5 311.3 472.2 315.5z" fill="#3a580e" stroke="#3a580e" stroke-width=".9"/><path d="M446.3 330.1 458.6 327.1 465.4 321.1 453.2 324.1z" fill="#446410" stroke="#446410" stroke-width=".9"/><path d="M477.8 316.9 490.1 311.4 496.9 305.6 484.5 311.3z" fill="#324c0c" stroke="#324c0c" stroke-width=".9"/><path d="M458.6 327.1 470.9 323.2 477.8 316.9 465.4 321.1z" fill="#3e5c0e" stroke="#3e5c0e" stroke-width=".9"/><path d="M439.3 336.4 451.7 333.7 458.6 327.1 446.3 330.1z" fill="#466610" stroke="#466610" stroke-width=".9"/><path d="M470.9 323.2 483.4 317.9 490.1 311.4 477.8 316.9z" fill="#38520c" stroke="#38520c" stroke-width=".9"/><path d="M451.7 333.7 464.1 330 470.9 323.2 458.6 327.1z" fill="#426010" stroke="#426010" stroke-width=".9"/><path d="M464.1 330 476.5 325.1 483.4 317.9 470.9 323.2z" fill="#3c5a0e" stroke="#3c5a0e" stroke-width=".9"/><path d="M593.7 188.2 591.3 196.9 589.7 189z" fill="#283e0a" stroke="#283e0a" stroke-width=".9"/><path d="M764.4 331.2 804.3 354.6 819.6 342.9 780.2 324.2z" fill="#547914"/><path d="M775 326.5 788.1 333.7 793.3 330.7 780.2 324.2z" fill="#507412" stroke="#507412" stroke-width=".9"/><path d="M788.1 333.7 801.3 340.4 806.4 337 793.3 330.7z" fill="#527614" stroke="#527614" stroke-width=".9"/><path d="M801.3 340.4 814.6 346.7 819.6 342.9 806.4 337zM769.7 328.8 782.9 336.6 788.1 333.7 775 326.5z" fill="#527814" stroke="#527814" stroke-width=".9"/><path d="M782.9 336.6 796.1 343.9 801.3 340.4 788.1 333.7z" fill="#547814" stroke="#547814" stroke-width=".9"/><path d="M796.1 343.9 809.5 350.6 814.6 346.7 801.3 340.4z" fill="#547a14" stroke="#547a14" stroke-width=".9"/><path d="M764.4 331.2 777.6 339.6 782.9 336.6 769.7 328.8zM777.6 339.6 790.9 347.4 796.1 343.9 782.9 336.6z" fill="#567c14" stroke="#567c14" stroke-width=".9"/><path d="M790.9 347.4 804.3 354.6 809.5 350.6 796.1 343.9z" fill="#567c16" stroke="#567c16" stroke-width=".9"/><path d="M641.9 212.7 648.3 215.2 651.2 229.6 644.8 227.5zM648.3 215.2 654.7 220 657.6 233.4 651.2 229.6zM654.7 220 661.2 226.8 664 238.6 657.6 233.4zM638.9 192.3 645.4 195.4 648.3 215.2 641.9 212.7zM645.4 195.4 651.8 202 654.7 220 648.3 215.2zM651.8 202 658.3 211.3 661.2 226.8 654.7 220zM644.7 189.1 645.4 195.4 638.9 192.3 638.5 187.8zM658.3 211.3 664.7 222.1 667.6 234.9 661.2 226.8zM650.5 190.8 651.8 202 645.4 195.4 644.7 189.1zM655.7 193 658.3 211.3 651.8 202 650.5 190.8zM656.8 193.5 661.8 205.4 664.7 222.1 658.3 211.3 655.7 193zM661.8 205.4 668.3 220.8 671.2 233.5 664.7 222.1zM660.5 195.5 661.8 205.4 656.8 193.5zM663.2 197.6 665.4 204.9 668.3 220.8 661.8 205.4 660.5 195.5z" fill="#283e08" stroke="#283e08" stroke-width=".9"/><path d="M665.4 204.9 671.9 224.1 674.8 235.4 668.3 220.8z" fill="#344e0c" stroke="#344e0c" stroke-width=".9"/><path d="M664.5 198.8 665.4 204.9 663.2 197.6z" fill="#2e460a" stroke="#2e460a" stroke-width=".9"/><path d="M666.6 201.2 669 210.9 671.9 224.1 665.4 204.9 664.5 198.8z" fill="#36520c" stroke="#36520c" stroke-width=".9"/><path d="M569.2 239.2 575.5 224.8 578.7 230.6 572.4 242.7zM575.5 224.8 581.8 206.2 585 215.6 578.7 230.6zM566 236.1 572.3 219.3 575.5 224.8 569.2 239.2zM581.8 206.2 586.1 189.8 589.7 189 591.3 196.9 585 215.6zM572.3 219.3 578.6 196.7 581.8 206.2 575.5 224.8zM562.8 233.7 569.1 214.5 572.3 219.3 566 236.1zM578.6 196.7 579.7 191.6 586.1 189.8 581.8 206.2zM569.1 214.5 574.1 193.5 577.1 192.5 578.6 196.7 572.3 219.3zM559.6 232.4 565.9 211.2 569.1 214.5 562.8 233.7zM579.7 191.6 578.6 196.7 577.1 192.5zM565.9 211.2 569.1 195.6 574.1 193.5 569.1 214.5zM556.4 232.4 562.7 209.8 565.9 211.2 559.6 232.4zM562.7 209.8 564.9 197.9 569.1 195.6 565.9 211.2zM553.1 234.1 559.4 210.9 562.7 209.8 556.4 232.4zM559.4 210.9 561.4 200.2 564.9 197.9 562.7 209.8z" fill="#283e0a" stroke="#283e0a" stroke-width=".9"/><path d="M476.5 325.1 514.3 299.3 534.2 273.4 496.9 305.6z" fill="#2b420a"/><path d="M490.1 311.4 502.6 304 509.3 298.2 496.9 305.6zM502.6 304 515.1 294 521.7 288 509.3 298.2zM495.9 310.9 508.4 301.6 515.1 294 502.6 304zM508.4 301.6 521 288.7 527.7 279.9 515.1 294zM501.7 310.4 514.3 299.3 521 288.7 508.4 301.6z" fill="#283e0a" stroke="#283e0a" stroke-width=".9"/><path d="M483.4 317.9 495.9 310.9 502.6 304 490.1 311.4zM489.1 318.8 501.7 310.4 508.4 301.6 495.9 310.9z" fill="#2e460a" stroke="#2e460a" stroke-width=".9"/><path d="M476.5 325.1 489.1 318.8 495.9 310.9 483.4 317.9z" fill="#36500c" stroke="#36500c" stroke-width=".9"/><path d="M669 210.9 708.2 298 725 301.3 686.2 264.7z" fill="#486911"/><path d="M696.3 274 702.7 281.1 705.5 283.6 699.1 277.3zM693.4 270.2 699.9 278.3 702.7 281.1 696.3 274z" fill="#446410" stroke="#446410" stroke-width=".9"/><path d="M702.7 281.1 709.2 288 712 289.7 705.5 283.6z" fill="#466810" stroke="#466810" stroke-width=".9"/><path d="M709.2 288 715.7 294.5 718.5 295.6 712 289.7zM706.4 286 713 293.3 715.7 294.5 709.2 288z" fill="#4a6c10" stroke="#4a6c10" stroke-width=".9"/><path d="M715.7 294.5 722.3 300.7 725 301.3 718.5 295.6zM703.6 283.9 710.1 292 713 293.3 706.4 286z" fill="#4c6e12" stroke="#4c6e12" stroke-width=".9"/><path d="M699.9 278.3 706.4 286 709.2 288 702.7 281.1z" fill="#486810" stroke="#486810" stroke-width=".9"/><path d="M713 293.3 719.5 300.1 722.3 300.7 715.7 294.5zM682 249.9 688.5 264.7 691.4 268.3 684.9 255.6z" fill="#4e7012" stroke="#4e7012" stroke-width=".9"/><path d="M690.6 265.8 697.1 275.2 699.9 278.3 693.4 270.2z" fill="#446610" stroke="#446610" stroke-width=".9"/><path d="M697.1 275.2 703.6 283.9 706.4 286 699.9 278.3zM684.9 255.6 691.4 268.3 694.3 271.9 687.7 260.9z" fill="#486a10" stroke="#486a10" stroke-width=".9"/><path d="M710.1 292 716.7 299.4 719.5 300.1 713 293.3zM700.8 281.7 707.3 290.7 710.1 292 703.6 283.9z" fill="#507412" stroke="#507412" stroke-width=".9"/><path d="M687.7 260.9 694.3 271.9 697.1 275.2 690.6 265.8zM675.5 232.2 682 249.9 684.9 255.6 678.4 241z" fill="#466610" stroke="#466610" stroke-width=".9"/><path d="M694.3 271.9 700.8 281.7 703.6 283.9 697.1 275.2z" fill="#4a6c12" stroke="#4a6c12" stroke-width=".9"/><path d="M707.3 290.7 713.9 298.8 716.7 299.4 710.1 292zM697.9 279.5 704.5 289.4 707.3 290.7 700.8 281.7zM688.5 264.7 695.1 277.4 697.9 279.5 691.4 268.3z" fill="#547814" stroke="#547814" stroke-width=".9"/><path d="M678.4 241 684.9 255.6 687.7 260.9 681.2 248.8z" fill="#426210" stroke="#426210" stroke-width=".9"/><path d="M691.4 268.3 697.9 279.5 700.8 281.7 694.3 271.9z" fill="#4e7212" stroke="#4e7212" stroke-width=".9"/><path d="M704.5 289.4 711.1 298.3 713.9 298.8 707.3 290.7z" fill="#587e16" stroke="#587e16" stroke-width=".9"/><path d="M695.1 277.4 701.6 288.3 704.5 289.4 697.9 279.5z" fill="#588016" stroke="#588016" stroke-width=".9"/><path d="M701.6 288.3 708.2 298 711.1 298.3 704.5 289.4z" fill="#5c8418" stroke="#5c8418" stroke-width=".9"/><path d="M708.2 298 748 339.8 764.4 331.2 725 301.3z" fill="#5b8216"/><path d="M719.5 300.1 732.6 312.5 738.1 312.1 725 301.3z" fill="#507414" stroke="#507414" stroke-width=".9"/><path d="M732.6 312.5 745.8 323.7 751.2 322 738.1 312.1z" fill="#567a14" stroke="#567a14" stroke-width=".9"/><path d="M745.8 323.7 759 333.7 764.4 331.2 751.2 322z" fill="#587e16" stroke="#587e16" stroke-width=".9"/><path d="M713.9 298.8 727 313.2 732.6 312.5 719.5 300.1z" fill="#567c14" stroke="#567c14" stroke-width=".9"/><path d="M727 313.2 740.3 325.6 745.8 323.7 732.6 312.5z" fill="#5a8216" stroke="#5a8216" stroke-width=".9"/><path d="M740.3 325.6 753.5 336.6 759 333.7 745.8 323.7z" fill="#5e8418" stroke="#5e8418" stroke-width=".9"/><path d="M708.2 298 721.4 314.4 727 313.2 713.9 298.8z" fill="#5e8618" stroke="#5e8618" stroke-width=".9"/><path d="M721.4 314.4 734.7 328.1 740.3 325.6 727 313.2z" fill="#628a18" stroke="#628a18" stroke-width=".9"/><path d="M734.7 328.1 748 339.8 753.5 336.6 740.3 325.6z" fill="#648c1a" stroke="#648c1a" stroke-width=".9"/><path d="M418 357.3 455.6 350 476.5 325.1 439.3 336.4z" fill="#476910"/><path d="M432.3 343.1 444.7 340.6 451.7 333.7 439.3 336.4zM437.6 348 450.1 345.1 457.1 337.3 444.7 340.6zM443 353.1 455.6 350 462.7 341.3 450.1 345.1z" fill="#486a10" stroke="#486a10" stroke-width=".9"/><path d="M444.7 340.6 457.1 337.3 464.1 330 451.7 333.7zM450.1 345.1 462.7 341.3 469.6 333 457.1 337.3z" fill="#446610" stroke="#446610" stroke-width=".9"/><path d="M425.2 350.1 437.6 348 444.7 340.6 432.3 343.1zM430.5 355.6 443 353.1 450.1 345.1 437.6 348z" fill="#4a6c10" stroke="#4a6c10" stroke-width=".9"/><path d="M457.1 337.3 469.6 333 476.5 325.1 464.1 330z" fill="#40600e" stroke="#40600e" stroke-width=".9"/><path d="M418 357.3 430.5 355.6 437.6 348 425.2 350.1z" fill="#4c6e12" stroke="#4c6e12" stroke-width=".9"/><path d="M667.4 202.9 669 210.9 666.6 201.2z" fill="#3c5a0e" stroke="#3c5a0e" stroke-width=".9"/><path d="M748 339.8 788.4 367.7 804.3 354.6 764.4 331.2z" fill="#5e8617"/><path d="M759 333.7 772.3 342.8 777.6 339.6 764.4 331.2zM772.3 342.8 785.6 351.1 790.9 347.4 777.6 339.6zM785.6 351.1 799.1 358.7 804.3 354.6 790.9 347.4z" fill="#5a8016" stroke="#5a8016" stroke-width=".9"/><path d="M753.5 336.6 766.9 346.3 772.3 342.8 759 333.7zM766.9 346.3 780.3 355.1 785.6 351.1 772.3 342.8z" fill="#5e8618" stroke="#5e8618" stroke-width=".9"/><path d="M780.3 355.1 793.8 363 799.1 358.7 785.6 351.1z" fill="#5c8418" stroke="#5c8418" stroke-width=".9"/><path d="M748 339.8 761.4 350.2 766.9 346.3 753.5 336.6z" fill="#648c1a" stroke="#648c1a" stroke-width=".9"/><path d="M761.4 350.2 774.9 359.4 780.3 355.1 766.9 346.3z" fill="#628c18" stroke="#628c18" stroke-width=".9"/><path d="M774.9 359.4 788.4 367.7 793.8 363 780.3 355.1z" fill="#608a18" stroke="#608a18" stroke-width=".9"/><path d="M549.9 237.4 556.2 214.7 559.4 210.9 553.1 234.1zM521 288.7 527.3 280.2 530.7 274.9 524.3 284zM556.2 214.7 558.5 202.7 561.4 200.2 559.4 210.9zM546.6 242.5 552.9 221.1 556.2 214.7 549.9 237.4zM527.3 280.2 533.7 269.7 537 263.5 530.7 274.9zM517.7 293.8 524 286 527.3 280.2 521 288.7zM552.9 221.1 556.2 205.4 558.5 202.7 556.2 214.7zM533.7 269.7 540 256.5 543.3 248.9 537 263.5zM524 286 530.4 276.5 533.7 269.7 527.3 280.2zM514.3 299.3 520.7 292.2 524 286 517.7 293.8zM530.4 276.5 536.7 264.8 540 256.5 533.7 269.7zM540 256.5 546.4 239.3 549.7 229.5 543.3 248.9zM549.7 229.5 554.7 208.2 556.2 205.4 552.9 221.1zM520.7 292.2 527.1 283.7 530.4 276.5 524 286zM536.7 264.8 543.1 250 546.4 239.3 540 256.5zM527.1 283.7 533.4 273.5 536.7 264.8 530.4 276.5zM546.4 239.3 552.8 216.3 554.3 209.7 554.7 208.2 549.7 229.5zM533.4 273.5 539.8 261.1 543.1 250 536.7 264.8zM543.1 250 549.5 231.1 552.8 216.3 546.4 239.3zM539.8 261.1 546.3 245.7 549.5 231.1 543.1 250zM549.5 231.1 553.8 214.2 553.8 211.1 552.8 216.3zM546.3 245.7 552.7 226.5 554.4 215.8 553.8 214.2 549.5 231.1z" fill="#283e0a" stroke="#283e0a" stroke-width=".9"/><path d="M455.6 350 493.9 335.6 514.3 299.3 476.5 325.1z" fill="#3f5d0e"/><path d="M469.6 333 482.2 327.4 489.1 318.8 476.5 325.1zM488 330.6 500.8 323.2 507.6 311 494.9 320.2z" fill="#3c5a0e" stroke="#3c5a0e" stroke-width=".9"/><path d="M482.2 327.4 494.9 320.2 501.7 310.4 489.1 318.8z" fill="#38540c" stroke="#38540c" stroke-width=".9"/><path d="M462.7 341.3 475.3 336.6 482.2 327.4 469.6 333z" fill="#426210" stroke="#426210" stroke-width=".9"/><path d="M494.9 320.2 507.6 311 514.3 299.3 501.7 310.4z" fill="#324c0c" stroke="#324c0c" stroke-width=".9"/><path d="M475.3 336.6 488 330.6 494.9 320.2 482.2 327.4z" fill="#405e0e" stroke="#405e0e" stroke-width=".9"/><path d="M455.6 350 468.3 346.1 475.3 336.6 462.7 341.3z" fill="#466810" stroke="#466810" stroke-width=".9"/><path d="M468.3 346.1 481.1 341.3 488 330.6 475.3 336.6z" fill="#466610" stroke="#466610" stroke-width=".9"/><path d="M481.1 341.3 493.9 335.6 500.8 323.2 488 330.6z" fill="#446410" stroke="#446410" stroke-width=".9"/><path d="M672.6 222.8 679.1 244.1 682 249.9 675.5 232.2z" fill="#4c6e12" stroke="#4c6e12" stroke-width=".9"/><path d="M668.2 204.4 672.6 222.8 675.5 232.2 669 210.9 667.4 202.9z" fill="#426210" stroke="#426210" stroke-width=".9"/><path d="M679.1 244.1 685.6 261.2 688.5 264.7 682 249.9z" fill="#547814" stroke="#547814" stroke-width=".9"/><path d="M685.6 261.2 692.2 275.4 695.1 277.4 688.5 264.7z" fill="#5a8016" stroke="#5a8016" stroke-width=".9"/><path d="M692.2 275.4 698.8 287.5 701.6 288.3 695.1 277.4zM668.1 210.4 673.2 233.7 676.2 238.5 669.6 213.1 668.2 208.9z" fill="#5e8618" stroke="#5e8618" stroke-width=".9"/><path d="M698.8 287.5 705.3 297.9 708.2 298 701.6 288.3z" fill="#628c18" stroke="#628c18" stroke-width=".9"/><path d="M676.2 238.5 682.7 258.1 685.6 261.2 679.1 244.1z" fill="#5c8216" stroke="#5c8216" stroke-width=".9"/><path d="M669.6 213.1 676.2 238.5 679.1 244.1 672.6 222.8z" fill="#547a14" stroke="#547a14" stroke-width=".9"/><path d="M668.6 207.5 669.6 213.1 672.6 222.8 668.2 204.4z" fill="#4e7212" stroke="#4e7212" stroke-width=".9"/><path d="M682.7 258.1 689.3 273.9 692.2 275.4 685.6 261.2z" fill="#608a18" stroke="#608a18" stroke-width=".9"/><path d="M689.3 273.9 695.9 287 698.8 287.5 692.2 275.4zM673.2 233.7 679.8 255.7 682.7 258.1 676.2 238.5z" fill="#648e1a" stroke="#648e1a" stroke-width=".9"/><path d="M695.9 287 702.5 298.1 705.3 297.9 698.8 287.5z" fill="#68921a" stroke="#68921a" stroke-width=".9"/><path d="M668.2 208.9 669.6 213.1 668.6 207.5z" fill="#567c16" stroke="#567c16" stroke-width=".9"/><path d="M679.8 255.7 686.3 273 689.3 273.9 682.7 258.1z" fill="#68941a" stroke="#68941a" stroke-width=".9"/><path d="M686.3 273 692.9 287 695.9 287 689.3 273.9z" fill="#6c981c" stroke="#6c981c" stroke-width=".9"/><path d="M692.9 287 699.6 298.8 702.5 298.1 695.9 287zM670.2 230.3 676.8 254.4 679.8 255.7 673.2 233.7z" fill="#6e9a1c" stroke="#6e9a1c" stroke-width=".9"/><path d="M676.8 254.4 683.4 272.9 686.3 273 679.8 255.7z" fill="#709e1e" stroke="#709e1e" stroke-width=".9"/><path d="M666.9 213.3 670.2 230.3 673.2 233.7 668.1 210.4z" fill="#6a961c" stroke="#6a961c" stroke-width=".9"/><path d="M683.4 272.9 690 287.7 692.9 287 686.3 273z" fill="#72a01e" stroke="#72a01e" stroke-width=".9"/><path d="M690 287.7 696.6 300 699.6 298.8 692.9 287z" fill="#74a21e" stroke="#74a21e" stroke-width=".9"/><path d="M673.8 254.5 680.4 273.8 683.4 272.9 676.8 254.4z" fill="#78a820" stroke="#78a820" stroke-width=".9"/><path d="M667.2 229 673.8 254.5 676.8 254.4 670.2 230.3z" fill="#76a620" stroke="#76a620" stroke-width=".9"/><path d="M680.4 273.8 687.1 289.1 690 287.7 683.4 272.9z" fill="#7aaa20" stroke="#7aaa20" stroke-width=".9"/><path d="M664.9 216 667.2 229 670.2 230.3 666.9 213.3z" fill="#74a420" stroke="#74a420" stroke-width=".9"/><path d="M687.1 289.1 693.7 301.8 696.6 300 690 287.7z" fill="#7aaa22" stroke="#7aaa22" stroke-width=".9"/><path d="M670.8 256.3 677.5 275.9 680.4 273.8 673.8 254.5zM664.2 230.2 670.8 256.3 673.8 254.5 667.2 229z" fill="#80b222" stroke="#80b222" stroke-width=".9"/><path d="M677.5 275.9 684.1 291.4 687.1 289.1 680.4 273.8zM684.1 291.4 690.8 304.2 693.7 301.8 687.1 289.1z" fill="#82b224" stroke="#82b224" stroke-width=".9"/><path d="M662.2 218.5 664.2 230.2 667.2 229 664.9 216z" fill="#80b022" stroke="#80b022" stroke-width=".9"/><path d="M396 379.8 434.1 377.1 455.6 350 418 357.3z" fill="#4d7112"/><path d="M410.7 364.7 423.3 363.4 430.5 355.6 418 357.3zM416 371.3 428.6 369.9 435.9 361.4 423.3 363.4zM428.6 369.9 441.4 368 448.5 358.9 435.9 361.4z" fill="#4c7012" stroke="#4c7012" stroke-width=".9"/><path d="M423.3 363.4 435.9 361.4 443 353.1 430.5 355.6z" fill="#4c6e12" stroke="#4c6e12" stroke-width=".9"/><path d="M403.4 372.2 416 371.3 423.3 363.4 410.7 364.7zM396 379.8 408.6 379.3 416 371.3 403.4 372.2zM408.6 379.3 421.3 378.4 428.6 369.9 416 371.3zM421.3 378.4 434.1 377.1 441.4 368 428.6 369.9z" fill="#4e7212" stroke="#4e7212" stroke-width=".9"/><path d="M435.9 361.4 448.5 358.9 455.6 350 443 353.1z" fill="#4a6e12" stroke="#4a6e12" stroke-width=".9"/><path d="M690.8 304.2 731.1 353.6 748 339.8 708.2 298z" fill="#72a01e"/><path d="M702.5 298.1 715.7 316.4 721.4 314.4 708.2 298z" fill="#68921a" stroke="#68921a" stroke-width=".9"/><path d="M715.7 316.4 729.1 331.2 734.7 328.1 721.4 314.4zM729.1 331.2 742.4 343.7 748 339.8 734.7 328.1z" fill="#6a961c" stroke="#6a961c" stroke-width=".9"/><path d="M696.6 300 710 319.7 715.7 316.4 702.5 298.1zM710 319.7 723.3 335.3 729.1 331.2 715.7 316.4z" fill="#72a01e" stroke="#72a01e" stroke-width=".9"/><path d="M723.3 335.3 736.8 348.2 742.4 343.7 729.1 331.2z" fill="#729e1e" stroke="#729e1e" stroke-width=".9"/><path d="M690.8 304.2 704.1 324.5 710 319.7 696.6 300z" fill="#7eae22" stroke="#7eae22" stroke-width=".9"/><path d="M704.1 324.5 717.6 340.4 723.3 335.3 710 319.7z" fill="#7cac22" stroke="#7cac22" stroke-width=".9"/><path d="M717.6 340.4 731.1 353.6 736.8 348.2 723.3 335.3z" fill="#78a820" stroke="#78a820" stroke-width=".9"/><path d="M493.9 335.6 532.8 313.6 552.7 226.5 514.3 299.3z" fill="#3a570d"/><path d="M511 305 517.3 298.7 520.7 292.2 514.3 299.3z" fill="#2a420a" stroke="#2a420a" stroke-width=".9"/><path d="M517.3 298.7 523.7 291.3 527.1 283.7 520.7 292.2zM523.7 291.3 530.1 282.5 533.4 273.5 527.1 283.7zM530.1 282.5 536.5 272.1 539.8 261.1 533.4 273.5zM536.5 272.1 543 259.8 546.3 245.7 539.8 261.1z" fill="#283e0a" stroke="#283e0a" stroke-width=".9"/><path d="M507.6 311 514 305.4 517.3 298.7 511 305zM533.2 282.9 539.7 273 543 259.8 536.5 272.1z" fill="#324c0c" stroke="#324c0c" stroke-width=".9"/><path d="M514 305.4 520.4 298.9 523.7 291.3 517.3 298.7z" fill="#304a0c" stroke="#304a0c" stroke-width=".9"/><path d="M504.2 317.1 510.6 312.1 514 305.4 507.6 311zM510.6 312.1 517 306.6 520.4 298.9 514 305.4zM517 306.6 523.4 300.3 526.8 291.5 520.4 298.9zM523.4 300.3 529.9 293.2 533.2 282.9 526.8 291.5z" fill="#38540c" stroke="#38540c" stroke-width=".9"/><path d="M520.4 298.9 526.8 291.5 530.1 282.5 523.7 291.3z" fill="#30480a" stroke="#30480a" stroke-width=".9"/><path d="M500.8 323.2 507.2 318.9 510.6 312.1 504.2 317.1zM507.2 318.9 513.6 314.2 517 306.6 510.6 312.1zM513.6 314.2 520.1 308.9 523.4 300.3 517 306.6zM520.1 308.9 526.5 303.1 529.9 293.2 523.4 300.3z" fill="#3e5c0e" stroke="#3e5c0e" stroke-width=".9"/><path d="M526.8 291.5 533.2 282.9 536.5 272.1 530.1 282.5z" fill="#304a0a" stroke="#304a0a" stroke-width=".9"/><path d="M497.3 329.4 503.8 325.7 507.2 318.9 500.8 323.2zM503.8 325.7 510.2 321.6 513.6 314.2 507.2 318.9zM510.2 321.6 516.7 317.2 520.1 308.9 513.6 314.2zM533 296.9 539.5 290.2 542.8 276.8 536.4 285.4z" fill="#426210" stroke="#426210" stroke-width=".9"/><path d="M543 259.8 549.4 245.1 552.7 226.5 546.3 245.7z" fill="#2c420a" stroke="#2c420a" stroke-width=".9"/><path d="M493.9 335.6 500.3 332.4 503.8 325.7 497.3 329.4zM500.3 332.4 506.8 329 510.2 321.6 503.8 325.7z" fill="#466610" stroke="#466610" stroke-width=".9"/><path d="M529.9 293.2 536.4 285.4 539.7 273 533.2 282.9z" fill="#3a560e" stroke="#3a560e" stroke-width=".9"/><path d="M539.7 273 546.1 261.8 549.4 245.1 543 259.8z" fill="#34500c" stroke="#34500c" stroke-width=".9"/><path d="M536.4 285.4 542.8 276.8 546.1 261.8 539.7 273z" fill="#3c5a0e" stroke="#3c5a0e" stroke-width=".9"/><path d="M526.5 303.1 533 296.9 536.4 285.4 529.9 293.2z" fill="#405e0e" stroke="#405e0e" stroke-width=".9"/><path d="M516.7 317.2 523.2 312.5 526.5 303.1 520.1 308.9zM523.2 312.5 529.7 307.5 533 296.9 526.5 303.1z" fill="#446410" stroke="#446410" stroke-width=".9"/><path d="M506.8 329 513.3 325.3 516.7 317.2 510.2 321.6zM513.3 325.3 519.8 321.5 523.2 312.5 516.7 317.2zM529.7 307.5 536.2 302.4 539.5 290.2 533 296.9z" fill="#466810" stroke="#466810" stroke-width=".9"/><path d="M519.8 321.5 526.3 317.5 529.7 307.5 523.2 312.5z" fill="#486a10" stroke="#486a10" stroke-width=".9"/><path d="M526.3 317.5 532.8 313.6 536.2 302.4 529.7 307.5z" fill="#4a6c10" stroke="#4a6c10" stroke-width=".9"/><path d="M552.7 226.5 555.1 217.6 554.4 215.8z" fill="#283e0a" stroke="#283e0a" stroke-width=".9"/><path d="M731.1 353.6 772 383.8 788.4 367.7 748 339.8z" fill="#6c981c"/><path d="M742.4 343.7 755.9 354.5 761.4 350.2 748 339.8z" fill="#6a941c" stroke="#6a941c" stroke-width=".9"/><path d="M755.9 354.5 769.4 364.1 774.9 359.4 761.4 350.2z" fill="#68921a" stroke="#68921a" stroke-width=".9"/><path d="M769.4 364.1 783 372.6 788.4 367.7 774.9 359.4z" fill="#648e1a" stroke="#648e1a" stroke-width=".9"/><path d="M736.8 348.2 750.3 359.4 755.9 354.5 742.4 343.7z" fill="#709c1e" stroke="#709c1e" stroke-width=".9"/><path d="M750.3 359.4 763.9 369.2 769.4 364.1 755.9 354.5zM758.3 374.9 772 383.8 777.6 378 763.9 369.2z" fill="#6c981c" stroke="#6c981c" stroke-width=".9"/><path d="M763.9 369.2 777.6 378 783 372.6 769.4 364.1z" fill="#68941c" stroke="#68941c" stroke-width=".9"/><path d="M731.1 353.6 744.7 365 750.3 359.4 736.8 348.2z" fill="#76a420" stroke="#76a420" stroke-width=".9"/><path d="M744.7 365 758.3 374.9 763.9 369.2 750.3 359.4z" fill="#729e1e" stroke="#729e1e" stroke-width=".9"/><path d="M434.1 377.1 472.9 371.5 493.9 335.6 455.6 350z" fill="#4c6f11"/><path d="M448.5 358.9 461.3 355.8 468.3 346.1 455.6 350zM461.3 355.8 474.1 352.1 481.1 341.3 468.3 346.1z" fill="#4a6c10" stroke="#4a6c10" stroke-width=".9"/><path d="M441.4 368 454.2 365.6 461.3 355.8 448.5 358.9zM454.2 365.6 467 362.9 474.1 352.1 461.3 355.8zM467 362.9 479.9 359.8 487 347.9 474.1 352.1z" fill="#4c7012" stroke="#4c7012" stroke-width=".9"/><path d="M474.1 352.1 487 347.9 493.9 335.6 481.1 341.3z" fill="#486c10" stroke="#486c10" stroke-width=".9"/><path d="M434.1 377.1 447 375.4 454.2 365.6 441.4 368zM447 375.4 459.9 373.5 467 362.9 454.2 365.6zM459.9 373.5 472.9 371.5 479.9 359.8 467 362.9z" fill="#4e7212" stroke="#4e7212" stroke-width=".9"/><path d="M667.8 259.8 674.4 279.2 677.5 275.9 670.8 256.3zM661.2 234.1 667.8 259.8 670.8 256.3 664.2 230.2zM674.4 279.2 681.1 294.6 684.1 291.4 677.5 275.9zM658.8 221 661.2 234.1 664.2 230.2 662.2 218.5z" fill="#88bc26" stroke="#88bc26" stroke-width=".9"/><path d="M681.1 294.6 687.8 307.3 690.8 304.2 684.1 291.4z" fill="#88ba26" stroke="#88ba26" stroke-width=".9"/><path d="M664.8 265 671.4 283.6 674.4 279.2 667.8 259.8z" fill="#90c428" stroke="#90c428" stroke-width=".9"/><path d="M658.1 240.6 664.8 265 667.8 259.8 661.2 234.1z" fill="#90c628" stroke="#90c628" stroke-width=".9"/><path d="M671.4 283.6 678.1 298.6 681.1 294.6 674.4 279.2z" fill="#8ec428" stroke="#8ec428" stroke-width=".9"/><path d="M654.7 223.4 658.1 240.6 661.2 234.1 658.8 221z" fill="#92c628" stroke="#92c628" stroke-width=".9"/><path d="M678.1 298.6 684.8 311.1 687.8 307.3 681.1 294.6z" fill="#8cc228" stroke="#8cc228" stroke-width=".9"/><path d="M655 249.2 661.7 271.6 664.8 265 658.1 240.6z" fill="#98ce2a" stroke="#98ce2a" stroke-width=".9"/><path d="M661.7 271.6 668.4 289.2 671.4 283.6 664.8 265z" fill="#96cc2a" stroke="#96cc2a" stroke-width=".9"/><path d="M649.8 225.6 655 249.2 658.1 240.6 654.7 223.4zM665.3 295.5 672 308.9 675.1 303.4 668.4 289.2z" fill="#98d02a" stroke="#98d02a" stroke-width=".9"/><path d="M668.4 289.2 675.1 303.4 678.1 298.6 671.4 283.6z" fill="#94ca2a" stroke="#94ca2a" stroke-width=".9"/><path d="M675.1 303.4 681.8 315.4 684.8 311.1 678.1 298.6z" fill="#92c828" stroke="#92c828" stroke-width=".9"/><path d="M651.9 259.4 658.6 279.4 661.7 271.6 655 249.2zM662.2 302.6 669 314.9 672 308.9 665.3 295.5zM665.9 321.4 672.6 331.4 675.7 325.7 669 314.9z" fill="#9cd62c" stroke="#9cd62c" stroke-width=".9"/><path d="M658.6 279.4 665.3 295.5 668.4 289.2 661.7 271.6z" fill="#9ad42c" stroke="#9ad42c" stroke-width=".9"/><path d="M645.2 233.5 651.9 259.4 655 249.2 649.8 225.6 646.7 226.7zM655.5 288 662.2 302.6 665.3 295.5 658.6 279.4z" fill="#9ed82c" stroke="#9ed82c" stroke-width=".9"/><path d="M672 308.9 678.8 320.3 681.8 315.4 675.1 303.4z" fill="#96ce2a" stroke="#96ce2a" stroke-width=".9"/><path d="M644.2 227.7 645.2 233.5 646.7 226.7zM652.4 297 659.1 310.1 662.2 302.6 655.5 288z" fill="#a2dc2e" stroke="#a2dc2e" stroke-width=".9"/><path d="M648.8 270.3 655.5 288 658.6 279.4 651.9 259.4z" fill="#a0da2e" stroke="#a0da2e" stroke-width=".9"/><path d="M642.1 248.5 648.8 270.3 651.9 259.4 645.2 233.5z" fill="#a2de2e" stroke="#a2de2e" stroke-width=".9"/><path d="M637.6 229.7 642.1 248.5 645.2 233.5 644.2 227.7zM645.7 281.7 652.4 297 655.5 288 648.8 270.3z" fill="#a4de2e" stroke="#a4de2e" stroke-width=".9"/><path d="M669 314.9 675.7 325.7 678.8 320.3 672 308.9z" fill="#9ad22c" stroke="#9ad22c" stroke-width=".9"/><path d="M639 263.4 645.7 281.7 648.8 270.3 642.1 248.5z" fill="#a6e030" stroke="#a6e030" stroke-width=".9"/><path d="M632.2 241.4 639 263.4 642.1 248.5 637.6 229.7 633.9 230.5z" fill="#a6e230" stroke="#a6e230" stroke-width=".9"/><path d="M659.1 310.1 665.9 321.4 669 314.9 662.2 302.6z" fill="#a0d82e" stroke="#a0d82e" stroke-width=".9"/><path d="M549.4 245.1 555.9 227.9 556.9 220.1 555.1 217.6 552.7 226.5z" fill="#304a0a" stroke="#304a0a" stroke-width=".9"/><path d="M546.1 261.8 552.6 249.3 555.9 227.9 549.4 245.1z" fill="#38560e" stroke="#38560e" stroke-width=".9"/><path d="M555.9 227.9 558.1 221.3 556.9 220.1z" fill="#38540c" stroke="#38540c" stroke-width=".9"/><path d="M542.8 276.8 549.4 267.6 552.6 249.3 546.1 261.8z" fill="#405e0e" stroke="#405e0e" stroke-width=".9"/><path d="M552.6 249.3 559.2 236 560.6 223.5 558.1 221.3 555.9 227.9z" fill="#3e5c0e" stroke="#3e5c0e" stroke-width=".9"/><path d="M539.5 290.2 546.1 283.5 549.4 267.6 542.8 276.8zM549.4 267.6 555.9 258.3 559.2 236 552.6 249.3z" fill="#446410" stroke="#446410" stroke-width=".9"/><path d="M559.2 236 564.3 225.6 560.6 223.5z" fill="#466610" stroke="#466610" stroke-width=".9"/><path d="M546.1 283.5 552.6 276.9 555.9 258.3 549.4 267.6z" fill="#4a6c12" stroke="#4a6c12" stroke-width=".9"/><path d="M536.2 302.4 542.7 297.4 546.1 283.5 539.5 290.2z" fill="#4a6c10" stroke="#4a6c10" stroke-width=".9"/><path d="M555.9 258.3 562.5 249.6 565.3 226.2 564.3 225.6 559.2 236z" fill="#4e7012" stroke="#4e7012" stroke-width=".9"/><path d="M542.7 297.4 549.3 292.7 552.6 276.9 546.1 283.5z" fill="#507414" stroke="#507414" stroke-width=".9"/><path d="M552.6 276.9 559.2 271 562.5 249.6 555.9 258.3z" fill="#547814" stroke="#547814" stroke-width=".9"/><path d="M532.8 313.6 539.4 309.8 542.7 297.4 536.2 302.4z" fill="#4e7212" stroke="#4e7212" stroke-width=".9"/><path d="M562.5 249.6 569.1 242.4 570.5 228.5 565.3 226.2z" fill="#5a8216" stroke="#5a8216" stroke-width=".9"/><path d="M549.3 292.7 555.9 288.6 559.2 271 552.6 276.9z" fill="#5a8016" stroke="#5a8016" stroke-width=".9"/><path d="M559.2 271 565.8 266.4 569.1 242.4 562.5 249.6z" fill="#5e8818" stroke="#5e8818" stroke-width=".9"/><path d="M539.4 309.8 546 306.4 549.3 292.7 542.7 297.4z" fill="#567c14" stroke="#567c14" stroke-width=".9"/><path d="M569.1 242.4 575.7 238 576.4 230.4 570.5 228.5z" fill="#68941a" stroke="#68941a" stroke-width=".9"/><path d="M555.9 288.6 562.5 285.7 565.8 266.4 559.2 271z" fill="#628c1a" stroke="#628c1a" stroke-width=".9"/><path d="M565.8 266.4 572.4 263.9 575.7 238 569.1 242.4z" fill="#6a961c" stroke="#6a961c" stroke-width=".9"/><path d="M546 306.4 552.6 303.6 555.9 288.6 549.3 292.7z" fill="#5e8618" stroke="#5e8618" stroke-width=".9"/><path d="M575.7 238 582.3 237.2 582.8 231.8 576.4 230.4z" fill="#76a420" stroke="#76a420" stroke-width=".9"/><path d="M562.5 285.7 569.2 284.3 572.4 263.9 565.8 266.4z" fill="#6e9a1c" stroke="#6e9a1c" stroke-width=".9"/><path d="M572.4 263.9 579.1 263.8 582.3 237.2 575.7 238z" fill="#76a620" stroke="#76a620" stroke-width=".9"/><path d="M552.6 303.6 559.2 301.8 562.5 285.7 555.9 288.6z" fill="#66901a" stroke="#66901a" stroke-width=".9"/><path d="M569.2 284.3 575.8 284.6 579.1 263.8 572.4 263.9z" fill="#78a620" stroke="#78a620" stroke-width=".9"/><path d="M559.2 301.8 565.9 301 569.2 284.3 562.5 285.7z" fill="#709c1e" stroke="#709c1e" stroke-width=".9"/><path d="M565.9 301 572.5 301.7 575.8 284.6 569.2 284.3z" fill="#78a820" stroke="#78a820" stroke-width=".9"/><path d="M672.6 331.4 713.6 374.8 731.1 353.6 690.8 304.2z" fill="#8abe26"/><path d="M684.8 311.1 698.2 331 704.1 324.5 690.8 304.2z" fill="#88bc26" stroke="#88bc26" stroke-width=".9"/><path d="M698.2 331 711.7 346.7 717.6 340.4 704.1 324.5z" fill="#84b624" stroke="#84b624" stroke-width=".9"/><path d="M711.7 346.7 725.3 359.9 731.1 353.6 717.6 340.4z" fill="#80b022" stroke="#80b022" stroke-width=".9"/><path d="M678.8 320.3 692.3 339 698.2 331 684.8 311.1zM686.2 348.4 699.9 362.6 705.8 354.2 692.3 339z" fill="#90c628" stroke="#90c628" stroke-width=".9"/><path d="M692.3 339 705.8 354.2 711.7 346.7 698.2 331z" fill="#8abe26" stroke="#8abe26" stroke-width=".9"/><path d="M705.8 354.2 719.5 366.9 725.3 359.9 711.7 346.7z" fill="#86b824" stroke="#86b824" stroke-width=".9"/><path d="M672.6 331.4 686.2 348.4 692.3 339 678.8 320.3z" fill="#96ce2a" stroke="#96ce2a" stroke-width=".9"/><path d="M699.9 362.6 713.6 374.8 719.5 366.9 705.8 354.2z" fill="#8abc26" stroke="#8abc26" stroke-width=".9"/><path d="M472.9 371.5 512.3 366.2 532.8 313.6 493.9 335.6z" fill="#4f7312"/><path d="M487 347.9 499.9 343.1 506.8 329 493.9 335.6z" fill="#4a6c10" stroke="#4a6c10" stroke-width=".9"/><path d="M499.9 343.1 512.9 338.1 519.8 321.5 506.8 329z" fill="#4a6c12" stroke="#4a6c12" stroke-width=".9"/><path d="M479.9 359.8 492.9 356.6 499.9 343.1 487 347.9z" fill="#4c7012" stroke="#4c7012" stroke-width=".9"/><path d="M512.9 338.1 526 333.3 532.8 313.6 519.8 321.5zM492.9 356.6 506 353.4 512.9 338.1 499.9 343.1zM472.9 371.5 485.9 369.4 492.9 356.6 479.9 359.8z" fill="#4e7212" stroke="#4e7212" stroke-width=".9"/><path d="M506 353.4 519.2 350.6 526 333.3 512.9 338.1z" fill="#547a14" stroke="#547a14" stroke-width=".9"/><path d="M485.9 369.4 499 367.6 506 353.4 492.9 356.6z" fill="#527614" stroke="#527614" stroke-width=".9"/><path d="M499 367.6 512.3 366.2 519.2 350.6 506 353.4z" fill="#587e16" stroke="#587e16" stroke-width=".9"/><path d="M629.7 231.4 632.2 241.4 633.9 230.5z" fill="#a6e230" stroke="#a6e230" stroke-width=".9"/><path d="M713.6 374.8 755 403.7 772 383.8 731.1 353.6z" fill="#79a820"/><path d="M725.3 359.9 738.9 371.2 744.7 365 731.1 353.6z" fill="#7aaa20" stroke="#7aaa20" stroke-width=".9"/><path d="M738.9 371.2 752.7 381.1 758.3 374.9 744.7 365zM741.1 395.1 755 403.7 760.8 396.7 746.9 387.9z" fill="#76a420" stroke="#76a420" stroke-width=".9"/><path d="M752.7 381.1 766.4 390 772 383.8 758.3 374.9z" fill="#709e1e" stroke="#709e1e" stroke-width=".9"/><path d="M719.5 366.9 733.2 378.1 738.9 371.2 725.3 359.9z" fill="#80b022" stroke="#80b022" stroke-width=".9"/><path d="M733.2 378.1 746.9 387.9 752.7 381.1 738.9 371.2z" fill="#7aa820" stroke="#7aa820" stroke-width=".9"/><path d="M746.9 387.9 760.8 396.7 766.4 390 752.7 381.1z" fill="#74a21e" stroke="#74a21e" stroke-width=".9"/><path d="M713.6 374.8 727.3 385.5 733.2 378.1 719.5 366.9z" fill="#82b424" stroke="#82b424" stroke-width=".9"/><path d="M727.3 385.5 741.1 395.1 746.9 387.9 733.2 378.1z" fill="#7cac22" stroke="#7cac22" stroke-width=".9"/><path d="M411.9 403.9 451.1 404.3 472.9 371.5 434.1 377.1z" fill="#4f7412"/><path d="M426.8 386.1 439.7 385.1 447 375.4 434.1 377.1zM439.7 385.1 452.6 384 459.9 373.5 447 375.4zM452.6 384 465.7 382.8 472.9 371.5 459.9 373.5z" fill="#4e7212" stroke="#4e7212" stroke-width=".9"/><path d="M419.4 395 432.3 394.7 439.7 385.1 426.8 386.1zM432.3 394.7 445.4 394.2 452.6 384 439.7 385.1z" fill="#4e7412" stroke="#4e7412" stroke-width=".9"/><path d="M411.9 403.9 424.9 404 432.3 394.7 419.4 395zM445.4 394.2 458.4 393.7 465.7 382.8 452.6 384zM424.9 404 438 404.1 445.4 394.2 432.3 394.7z" fill="#507412" stroke="#507412" stroke-width=".9"/><path d="M438 404.1 451.1 404.3 458.4 393.7 445.4 394.2z" fill="#527614" stroke="#527614" stroke-width=".9"/><path d="M622.3 240.3 629.1 260.3 632.2 241.4 629.7 231.4 623.3 232.4zM619.1 262.1 625.9 277.3 629.1 260.3 622.3 240.3z" fill="#a6e230" stroke="#a6e230" stroke-width=".9"/><path d="M582.3 237.2 589 240.5 589.7 232.9 582.8 231.8zM579.1 263.8 585.8 266.4 589 240.5 582.3 237.2zM575.8 284.6 582.5 286.9 585.8 266.4 579.1 263.8zM572.5 301.7 579.2 303.7 582.5 286.9 575.8 284.6z" fill="#82b424" stroke="#82b424" stroke-width=".9"/><path d="M620.1 232.8 622.3 240.3 623.3 232.4z" fill="#a6e030" stroke="#a6e030" stroke-width=".9"/><path d="M589 240.5 595.7 247.5 597.2 233.5 589.7 232.9zM585.8 266.4 592.5 271.6 595.7 247.5 589 240.5z" fill="#8cc026" stroke="#8cc026" stroke-width=".9"/><path d="M612.4 246 619.1 262.1 622.3 240.3 620.1 232.8 613.8 233.4zM612.7 296.7 619.5 306.2 622.7 292.5 615.9 280.6z" fill="#a4de2e" stroke="#a4de2e" stroke-width=".9"/><path d="M607.1 233.6 612.4 246 613.8 233.4zM605.9 287.4 612.7 296.7 615.9 280.6 609.2 268.6z" fill="#a0da2e" stroke="#a0da2e" stroke-width=".9"/><path d="M595.7 247.5 602.5 257.3 605.3 233.7 597.2 233.5z" fill="#96cc2a" stroke="#96cc2a" stroke-width=".9"/><path d="M602.5 257.3 609.2 268.6 612.4 246 607.1 233.6 605.3 233.7z" fill="#9cd62c" stroke="#9cd62c" stroke-width=".9"/><path d="M609.2 268.6 615.9 280.6 619.1 262.1 612.4 246zM609.5 310.8 616.2 318.7 619.5 306.2 612.7 296.7z" fill="#a2dc2e" stroke="#a2dc2e" stroke-width=".9"/><path d="M592.5 271.6 599.2 278.8 602.5 257.3 595.7 247.5z" fill="#94ca2a" stroke="#94ca2a" stroke-width=".9"/><path d="M615.9 280.6 622.7 292.5 625.9 277.3 619.1 262.1z" fill="#a4e030" stroke="#a4e030" stroke-width=".9"/><path d="M582.5 286.9 589.2 291 592.5 271.6 585.8 266.4zM579.2 303.7 586 307.1 589.2 291 582.5 286.9z" fill="#8abe26" stroke="#8abe26" stroke-width=".9"/><path d="M599.2 278.8 605.9 287.4 609.2 268.6 602.5 257.3z" fill="#9ad42c" stroke="#9ad42c" stroke-width=".9"/><path d="M589.2 291 596 296.6 599.2 278.8 592.5 271.6z" fill="#92c828" stroke="#92c828" stroke-width=".9"/><path d="M596 296.6 602.7 303.4 605.9 287.4 599.2 278.8z" fill="#98d02a" stroke="#98d02a" stroke-width=".9"/><path d="M586 307.1 592.7 311.7 596 296.6 589.2 291z" fill="#90c628" stroke="#90c628" stroke-width=".9"/><path d="M602.7 303.4 609.5 310.8 612.7 296.7 605.9 287.4z" fill="#9ed82c" stroke="#9ed82c" stroke-width=".9"/><path d="M592.7 311.7 599.4 317.2 602.7 303.4 596 296.6z" fill="#96ce2a" stroke="#96ce2a" stroke-width=".9"/><path d="M599.4 317.2 606.2 323.4 609.5 310.8 602.7 303.4z" fill="#9cd42c" stroke="#9cd42c" stroke-width=".9"/><path d="M606.2 323.4 613 330 616.2 318.7 609.5 310.8z" fill="#a0d82e" stroke="#a0d82e" stroke-width=".9"/><path d="M512.3 366.2 552.4 368.3 572.5 301.7 532.8 313.6z" fill="#69941b"/><path d="M529.4 323.8 536 321 539.4 309.8 532.8 313.6z" fill="#527814" stroke="#527814" stroke-width=".9"/><path d="M536 321 542.6 318.6 546 306.4 539.4 309.8zM522.6 342.2 529.2 340.7 532.6 331.3 526 333.3z" fill="#5a8016" stroke="#5a8016" stroke-width=".9"/><path d="M526 333.3 532.6 331.3 536 321 529.4 323.8z" fill="#567c14" stroke="#567c14" stroke-width=".9"/><path d="M542.6 318.6 549.2 316.7 552.6 303.6 546 306.4z" fill="#608a18" stroke="#608a18" stroke-width=".9"/><path d="M532.6 331.3 539.2 329.5 542.6 318.6 536 321zM519.2 350.6 525.8 349.6 529.2 340.7 522.6 342.2z" fill="#5c8416" stroke="#5c8416" stroke-width=".9"/><path d="M549.2 316.7 555.9 315.5 559.2 301.8 552.6 303.6zM525.6 365.6 532.2 365.7 535.7 357.4 529 357.5z" fill="#68941a" stroke="#68941a" stroke-width=".9"/><path d="M539.2 329.5 545.9 328.3 549.2 316.7 542.6 318.6zM518.9 365.8 525.6 365.6 529 357.5 522.4 357.9z" fill="#648e1a" stroke="#648e1a" stroke-width=".9"/><path d="M529.2 340.7 535.9 339.5 539.2 329.5 532.6 331.3z" fill="#608818" stroke="#608818" stroke-width=".9"/><path d="M555.9 315.5 562.5 315.3 565.9 301 559.2 301.8z" fill="#709e1e" stroke="#709e1e" stroke-width=".9"/><path d="M545.9 328.3 552.5 327.7 555.9 315.5 549.2 316.7z" fill="#6a961c" stroke="#6a961c" stroke-width=".9"/><path d="M535.9 339.5 542.5 338.8 545.9 328.3 539.2 329.5z" fill="#66901a" stroke="#66901a" stroke-width=".9"/><path d="M562.5 315.3 569.2 316.2 572.5 301.7 565.9 301zM559.2 327.8 565.9 328.8 569.2 316.2 562.5 315.3zM555.8 339 562.6 340 565.9 328.8 559.2 327.8z" fill="#7aa820" stroke="#7aa820" stroke-width=".9"/><path d="M552.5 327.7 559.2 327.8 562.5 315.3 555.9 315.5zM549.2 338.6 555.8 339 559.2 327.8 552.5 327.7zM545.8 348.5 552.5 349.1 555.8 339 549.2 338.6zM542.4 357.7 549.1 358.4 552.5 349.1 545.8 348.5zM538.9 366.2 545.7 367.1 549.1 358.4 542.4 357.7z" fill="#72a01e" stroke="#72a01e" stroke-width=".9"/><path d="M525.8 349.6 532.4 348.8 535.9 339.5 529.2 340.7z" fill="#628a18" stroke="#628a18" stroke-width=".9"/><path d="M542.5 338.8 549.2 338.6 552.5 327.7 545.9 328.3zM539.1 348.4 545.8 348.5 549.2 338.6 542.5 338.8z" fill="#6c981c" stroke="#6c981c" stroke-width=".9"/><path d="M515.7 358.6 522.4 357.9 525.8 349.6 519.2 350.6z" fill="#5e8618" stroke="#5e8618" stroke-width=".9"/><path d="M532.4 348.8 539.1 348.4 542.5 338.8 535.9 339.5z" fill="#66921a" stroke="#66921a" stroke-width=".9"/><path d="M522.4 357.9 529 357.5 532.4 348.8 525.8 349.6z" fill="#628c18" stroke="#628c18" stroke-width=".9"/><path d="M512.3 366.2 518.9 365.8 522.4 357.9 515.7 358.6z" fill="#5e8818" stroke="#5e8818" stroke-width=".9"/><path d="M529 357.5 535.7 357.4 539.1 348.4 532.4 348.8z" fill="#68921a" stroke="#68921a" stroke-width=".9"/><path d="M535.7 357.4 542.4 357.7 545.8 348.5 539.1 348.4zM532.2 365.7 538.9 366.2 542.4 357.7 535.7 357.4z" fill="#6e9a1c" stroke="#6e9a1c" stroke-width=".9"/><path d="M552.5 349.1 559.2 350.2 562.6 340 555.8 339zM549.1 358.4 555.8 359.6 559.2 350.2 552.5 349.1z" fill="#78a820" stroke="#78a820" stroke-width=".9"/><path d="M545.7 367.1 552.4 368.3 555.8 359.6 549.1 358.4z" fill="#78a620" stroke="#78a620" stroke-width=".9"/><path d="M613 330 653.9 369.4 672.6 331.4 632.2 241.4z" fill="#a3de2e"/><path d="M629.1 260.3 635.8 277.8 639 263.4 632.2 241.4zM625.9 277.3 632.6 291.3 635.8 277.8 629.1 260.3z" fill="#a8e430" stroke="#a8e430" stroke-width=".9"/><path d="M635.8 277.8 642.5 293 645.7 281.7 639 263.4zM639.4 304 646.1 315.4 649.3 306.2 642.5 293zM622.7 292.5 629.4 303.9 632.6 291.3 625.9 277.3zM629.4 303.9 636.2 314.6 639.4 304 632.6 291.3zM636.2 314.6 643 324.5 646.1 315.4 639.4 304zM626.2 315.7 633 324.7 636.2 314.6 629.4 303.9z" fill="#a6e230" stroke="#a6e230" stroke-width=".9"/><path d="M642.5 293 649.3 306.2 652.4 297 645.7 281.7zM619.5 306.2 626.2 315.7 629.4 303.9 622.7 292.5zM633 324.7 639.8 333.4 643 324.5 636.2 314.6z" fill="#a6e030" stroke="#a6e030" stroke-width=".9"/><path d="M649.3 306.2 656 317.8 659.1 310.1 652.4 297zM616.2 318.7 623 326.6 626.2 315.7 619.5 306.2zM639.8 333.4 646.6 341.5 649.8 333.7 643 324.5zM629.8 334.4 636.6 342 639.8 333.4 633 324.7z" fill="#a4de2e" stroke="#a4de2e" stroke-width=".9"/><path d="M656 317.8 662.8 328.2 665.9 321.4 659.1 310.1zM652.9 325.7 659.7 335.1 662.8 328.2 656 317.8zM649.8 333.7 656.6 342.1 659.7 335.1 652.9 325.7zM646.6 341.5 653.4 349.2 656.6 342.1 649.8 333.7zM613 330 619.8 336.8 623 326.6 616.2 318.7zM619.8 336.8 626.6 343.6 629.8 334.4 623 326.6zM626.6 343.6 633.4 350.3 636.6 342 629.8 334.4z" fill="#a2dc2e" stroke="#a2dc2e" stroke-width=".9"/><path d="M632.6 291.3 639.4 304 642.5 293 635.8 277.8z" fill="#a8e230" stroke="#a8e230" stroke-width=".9"/><path d="M662.8 328.2 669.6 337.4 672.6 331.4 665.9 321.4zM650.3 356.2 657.1 362.9 660.2 356.4 653.4 349.2z" fill="#9ed82c" stroke="#9ed82c" stroke-width=".9"/><path d="M646.1 315.4 652.9 325.7 656 317.8 649.3 306.2zM643 324.5 649.8 333.7 652.9 325.7 646.1 315.4zM623 326.6 629.8 334.4 633 324.7 626.2 315.7z" fill="#a4e02e" stroke="#a4e02e" stroke-width=".9"/><path d="M659.7 335.1 666.5 343.6 669.6 337.4 662.8 328.2zM653.4 349.2 660.2 356.4 663.4 350 656.6 342.1zM640.2 356.9 647.1 363.2 650.3 356.2 643.4 349.3z" fill="#a0d82e" stroke="#a0d82e" stroke-width=".9"/><path d="M656.6 342.1 663.4 350 666.5 343.6 659.7 335.1zM643.4 349.3 650.3 356.2 653.4 349.2 646.6 341.5zM633.4 350.3 640.2 356.9 643.4 349.3 636.6 342z" fill="#a0da2e" stroke="#a0da2e" stroke-width=".9"/><path d="M636.6 342 643.4 349.3 646.6 341.5 639.8 333.4z" fill="#a2de2e" stroke="#a2de2e" stroke-width=".9"/><path d="M647.1 363.2 653.9 369.4 657.1 362.9 650.3 356.2z" fill="#9cd62c" stroke="#9cd62c" stroke-width=".9"/><path d="M653.9 369.4 695.4 401.6 713.6 374.8 672.6 331.4z" fill="#93c929"/><path d="M666.5 343.6 680.1 358.7 686.2 348.4 672.6 331.4zM653.9 369.4 667.7 381 673.9 369.7 660.2 356.4z" fill="#9ad22c" stroke="#9ad22c" stroke-width=".9"/><path d="M680.1 358.7 693.8 371.8 699.9 362.6 686.2 348.4zM667.7 381 681.5 391.7 687.7 381.5 673.9 369.7z" fill="#92ca2a" stroke="#92ca2a" stroke-width=".9"/><path d="M693.8 371.8 707.6 383.3 713.6 374.8 699.9 362.6zM681.5 391.7 695.4 401.6 701.5 392.3 687.7 381.5z" fill="#8cc026" stroke="#8cc026" stroke-width=".9"/><path d="M660.2 356.4 673.9 369.7 680.1 358.7 666.5 343.6z" fill="#9ad42c" stroke="#9ad42c" stroke-width=".9"/><path d="M673.9 369.7 687.7 381.5 693.8 371.8 680.1 358.7z" fill="#94ca2a" stroke="#94ca2a" stroke-width=".9"/><path d="M687.7 381.5 701.5 392.3 707.6 383.3 693.8 371.8z" fill="#8cc226" stroke="#8cc226" stroke-width=".9"/><path d="M451.1 404.3 491 406.1 512.3 366.2 472.9 371.5z" fill="#577e15"/><path d="M465.7 382.8 478.8 381.7 485.9 369.4 472.9 371.5z" fill="#507612" stroke="#507612" stroke-width=".9"/><path d="M478.8 381.7 492 380.8 499 367.6 485.9 369.4zM451.1 404.3 464.3 404.6 471.6 393.4 458.4 393.7z" fill="#547a14" stroke="#547a14" stroke-width=".9"/><path d="M458.4 393.7 471.6 393.4 478.8 381.7 465.7 382.8z" fill="#527814" stroke="#527814" stroke-width=".9"/><path d="M492 380.8 505.3 380.4 512.3 366.2 499 367.6z" fill="#5a8216" stroke="#5a8216" stroke-width=".9"/><path d="M471.6 393.4 484.9 393.3 492 380.8 478.8 381.7z" fill="#587e14" stroke="#587e14" stroke-width=".9"/><path d="M484.9 393.3 498.2 393.6 505.3 380.4 492 380.8z" fill="#5c8416" stroke="#5c8416" stroke-width=".9"/><path d="M464.3 404.6 477.6 405.1 484.9 393.3 471.6 393.4z" fill="#588016" stroke="#588016" stroke-width=".9"/><path d="M477.6 405.1 491 406.1 498.2 393.6 484.9 393.3z" fill="#5e8618" stroke="#5e8618" stroke-width=".9"/><path d="M552.4 368.3 593.2 383.7 613 330 572.5 301.7z" fill="#8cc027"/><path d="M569.2 316.2 575.9 318.1 579.2 303.7 572.5 301.7zM559.2 370 565.9 372 569.3 363.4 562.6 361.3z" fill="#82b224" stroke="#82b224" stroke-width=".9"/><path d="M575.9 318.1 582.7 321 586 307.1 579.2 303.7zM572.7 374.5 579.6 377.2 582.9 369 576.1 366z" fill="#88bc26" stroke="#88bc26" stroke-width=".9"/><path d="M565.9 328.8 572.6 330.6 575.9 318.1 569.2 316.2zM562.6 340 569.3 341.8 572.6 330.6 565.9 328.8z" fill="#80b222" stroke="#80b222" stroke-width=".9"/><path d="M582.7 321 589.4 324.9 592.7 311.7 586 307.1z" fill="#90c428" stroke="#90c428" stroke-width=".9"/><path d="M572.6 330.6 579.4 333.2 582.7 321 575.9 318.1zM569.3 363.4 576.1 366 579.5 357 572.7 354.2z" fill="#88ba26" stroke="#88ba26" stroke-width=".9"/><path d="M589.4 324.9 596.2 329.6 599.4 317.2 592.7 311.7z" fill="#94cc2a" stroke="#94cc2a" stroke-width=".9"/><path d="M579.4 333.2 586.1 336.6 589.4 324.9 582.7 321zM579.5 357 586.3 360.2 589.6 350.8 582.8 347.2z" fill="#8ec228" stroke="#8ec228" stroke-width=".9"/><path d="M596.2 329.6 602.9 334.8 606.2 323.4 599.4 317.2zM599.7 345.2 606.5 350.2 609.7 340.5 602.9 334.8z" fill="#9ad22c" stroke="#9ad22c" stroke-width=".9"/><path d="M569.3 341.8 576 344.2 579.4 333.2 572.6 330.6z" fill="#86ba24" stroke="#86ba24" stroke-width=".9"/><path d="M602.9 334.8 609.7 340.5 613 330 606.2 323.4z" fill="#9cd62c" stroke="#9cd62c" stroke-width=".9"/><path d="M586.1 336.6 592.9 340.7 596.2 329.6 589.4 324.9z" fill="#92ca28" stroke="#92ca28" stroke-width=".9"/><path d="M559.2 350.2 565.9 351.9 569.3 341.8 562.6 340z" fill="#7eb022" stroke="#7eb022" stroke-width=".9"/><path d="M576 344.2 582.8 347.2 586.1 336.6 579.4 333.2zM576.1 366 582.9 369 586.3 360.2 579.5 357zM579.6 377.2 586.4 380.3 589.7 372.3 582.9 369z" fill="#8cc026" stroke="#8cc026" stroke-width=".9"/><path d="M592.9 340.7 599.7 345.2 602.9 334.8 596.2 329.6z" fill="#96ce2a" stroke="#96ce2a" stroke-width=".9"/><path d="M565.9 351.9 572.7 354.2 576 344.2 569.3 341.8z" fill="#84b824" stroke="#84b824" stroke-width=".9"/><path d="M582.8 347.2 589.6 350.8 592.9 340.7 586.1 336.6z" fill="#90c628" stroke="#90c628" stroke-width=".9"/><path d="M555.8 359.6 562.6 361.3 565.9 351.9 559.2 350.2z" fill="#7eae22" stroke="#7eae22" stroke-width=".9"/><path d="M572.7 354.2 579.5 357 582.8 347.2 576 344.2z" fill="#8abe26" stroke="#8abe26" stroke-width=".9"/><path d="M589.6 350.8 596.4 354.9 599.7 345.2 592.9 340.7zM593.1 363.8 599.9 367.8 603.2 359.2 596.4 354.9z" fill="#94ca2a" stroke="#94ca2a" stroke-width=".9"/><path d="M562.6 361.3 569.3 363.4 572.7 354.2 565.9 351.9z" fill="#82b624" stroke="#82b624" stroke-width=".9"/><path d="M596.4 354.9 603.2 359.2 606.5 350.2 599.7 345.2z" fill="#98ce2a" stroke="#98ce2a" stroke-width=".9"/><path d="M552.4 368.3 559.2 370 562.6 361.3 555.8 359.6z" fill="#7cac22" stroke="#7cac22" stroke-width=".9"/><path d="M586.3 360.2 593.1 363.8 596.4 354.9 589.6 350.8z" fill="#92c828" stroke="#92c828" stroke-width=".9"/><path d="M565.9 372 572.7 374.5 576.1 366 569.3 363.4z" fill="#86b824" stroke="#86b824" stroke-width=".9"/><path d="M582.9 369 589.7 372.3 593.1 363.8 586.3 360.2zM586.4 380.3 593.2 383.7 596.6 375.9 589.7 372.3z" fill="#8ec428" stroke="#8ec428" stroke-width=".9"/><path d="M589.7 372.3 596.6 375.9 599.9 367.8 593.1 363.8z" fill="#92c628" stroke="#92c628" stroke-width=".9"/><path d="M695.4 401.6 737.5 427.1 755 403.7 713.6 374.8z" fill="#7eaf22"/><path d="M707.6 383.3 721.4 393.5 727.3 385.5 713.6 374.8z" fill="#84b824" stroke="#84b824" stroke-width=".9"/><path d="M721.4 393.5 735.3 402.8 741.1 395.1 727.3 385.5z" fill="#7eae22" stroke="#7eae22" stroke-width=".9"/><path d="M735.3 402.8 749.3 411.2 755 403.7 741.1 395.1zM723.4 419.3 737.5 427.1 743.4 419 729.4 410.9z" fill="#78a620" stroke="#78a620" stroke-width=".9"/><path d="M701.5 392.3 715.4 402 721.4 393.5 707.6 383.3zM695.4 401.6 709.4 410.8 715.4 402 701.5 392.3z" fill="#86b824" stroke="#86b824" stroke-width=".9"/><path d="M715.4 402 729.4 410.9 735.3 402.8 721.4 393.5zM709.4 410.8 723.4 419.3 729.4 410.9 715.4 402z" fill="#7eb022" stroke="#7eb022" stroke-width=".9"/><path d="M729.4 410.9 743.4 419 749.3 411.2 735.3 402.8z" fill="#78a820" stroke="#78a820" stroke-width=".9"/><path d="M491 406.1 531.6 412.2 552.4 368.3 512.3 366.2z" fill="#6a961b"/><path d="M505.3 380.4 518.6 380.7 525.6 365.6 512.3 366.2z" fill="#628c18" stroke="#628c18" stroke-width=".9"/><path d="M518.6 380.7 532 382 538.9 366.2 525.6 365.6z" fill="#6c961c" stroke="#6c961c" stroke-width=".9"/><path d="M498.2 393.6 511.6 394.6 518.6 380.7 505.3 380.4zM491 406.1 504.5 407.5 511.6 394.6 498.2 393.6z" fill="#648e1a" stroke="#648e1a" stroke-width=".9"/><path d="M532 382 545.5 384.3 552.4 368.3 538.9 366.2z" fill="#74a21e" stroke="#74a21e" stroke-width=".9"/><path d="M511.6 394.6 525.1 396.3 532 382 518.6 380.7zM504.5 407.5 518 409.5 525.1 396.3 511.6 394.6z" fill="#6a961c" stroke="#6a961c" stroke-width=".9"/><path d="M525.1 396.3 538.6 398.8 545.5 384.3 532 382z" fill="#72a01e" stroke="#72a01e" stroke-width=".9"/><path d="M518 409.5 531.6 412.2 538.6 398.8 525.1 396.3z" fill="#709c1e" stroke="#709c1e" stroke-width=".9"/><path d="M593.2 383.7 634.7 406.9 653.9 369.4 613 330z" fill="#98cf2b"/><path d="M606.5 350.2 620.1 360.7 626.6 343.6 613 330zM620.1 360.7 633.8 371.5 640.2 356.9 626.6 343.6z" fill="#9ed82c" stroke="#9ed82c" stroke-width=".9"/><path d="M633.8 371.5 647.6 382.2 653.9 369.4 640.2 356.9z" fill="#9cd42c" stroke="#9cd42c" stroke-width=".9"/><path d="M599.9 367.8 613.6 376.4 620.1 360.7 606.5 350.2zM613.6 376.4 627.3 385.5 633.8 371.5 620.1 360.7z" fill="#98d02a" stroke="#98d02a" stroke-width=".9"/><path d="M627.3 385.5 641.2 394.7 647.6 382.2 633.8 371.5z" fill="#96ce2a" stroke="#96ce2a" stroke-width=".9"/><path d="M593.2 383.7 607 391 613.6 376.4 599.9 367.8zM607 391 620.8 398.8 627.3 385.5 613.6 376.4z" fill="#92c828" stroke="#92c828" stroke-width=".9"/><path d="M620.8 398.8 634.7 406.9 641.2 394.7 627.3 385.5z" fill="#90c628" stroke="#90c628" stroke-width=".9"/><path d="M634.7 406.9 676.7 430.8 695.4 401.6 653.9 369.4z" fill="#8dc227"/><path d="M647.6 382.2 661.4 392.4 667.7 381 653.9 369.4z" fill="#96ce2a" stroke="#96ce2a" stroke-width=".9"/><path d="M661.4 392.4 675.3 402.1 681.5 391.7 667.7 381z" fill="#90c628" stroke="#90c628" stroke-width=".9"/><path d="M675.3 402.1 689.3 411.3 695.4 401.6 681.5 391.7z" fill="#8abe26" stroke="#8abe26" stroke-width=".9"/><path d="M641.2 394.7 655.1 403.8 661.4 392.4 647.6 382.2z" fill="#92c828" stroke="#92c828" stroke-width=".9"/><path d="M655.1 403.8 669 412.6 675.3 402.1 661.4 392.4zM634.7 406.9 648.6 415 655.1 403.8 641.2 394.7z" fill="#8ec228" stroke="#8ec228" stroke-width=".9"/><path d="M669 412.6 683 421 689.3 411.3 675.3 402.1z" fill="#88ba26" stroke="#88ba26" stroke-width=".9"/><path d="M648.6 415 662.6 423 669 412.6 655.1 403.8z" fill="#8abc26" stroke="#8abc26" stroke-width=".9"/><path d="M662.6 423 676.7 430.8 683 421 669 412.6z" fill="#84b624" stroke="#84b624" stroke-width=".9"/><path d="M531.6 412.2 572.9 424.5 593.2 383.7 552.4 368.3z" fill="#7eaf22"/><path d="M545.5 384.3 559.1 387.9 565.9 372 552.4 368.3z" fill="#7cac22" stroke="#7cac22" stroke-width=".9"/><path d="M559.1 387.9 572.8 392.6 579.6 377.2 565.9 372z" fill="#84b624" stroke="#84b624" stroke-width=".9"/><path d="M538.6 398.8 552.2 402.3 559.1 387.9 545.5 384.3z" fill="#78a820" stroke="#78a820" stroke-width=".9"/><path d="M572.8 392.6 586.5 398.2 593.2 383.7 579.6 377.2z" fill="#88bc26" stroke="#88bc26" stroke-width=".9"/><path d="M552.2 402.3 566 406.6 572.8 392.6 559.1 387.9z" fill="#7eb022" stroke="#7eb022" stroke-width=".9"/><path d="M531.6 412.2 545.3 415.7 552.2 402.3 538.6 398.8z" fill="#76a420" stroke="#76a420" stroke-width=".9"/><path d="M566 406.6 579.7 411.7 586.5 398.2 572.8 392.6z" fill="#82b624" stroke="#82b624" stroke-width=".9"/><path d="M545.3 415.7 559 419.8 566 406.6 552.2 402.3z" fill="#7aaa20" stroke="#7aaa20" stroke-width=".9"/><path d="M559 419.8 572.9 424.5 579.7 411.7 566 406.6z" fill="#7eae22" stroke="#7eae22" stroke-width=".9"/><path d="M676.7 430.8 719.4 452.2 737.5 427.1 695.4 401.6z" fill="#7bab21"/><path d="M689.3 411.3 703.3 419.9 709.4 410.8 695.4 401.6z" fill="#84b624" stroke="#84b624" stroke-width=".9"/><path d="M703.3 419.9 717.4 427.9 723.4 419.3 709.4 410.8z" fill="#7eae22" stroke="#7eae22" stroke-width=".9"/><path d="M717.4 427.9 731.5 435.3 737.5 427.1 723.4 419.3z" fill="#76a620" stroke="#76a620" stroke-width=".9"/><path d="M683 421 697.1 429.1 703.3 419.9 689.3 411.3z" fill="#82b424" stroke="#82b424" stroke-width=".9"/><path d="M697.1 429.1 711.2 436.6 717.4 427.9 703.3 419.9z" fill="#7cac22" stroke="#7cac22" stroke-width=".9"/><path d="M711.2 436.6 725.5 443.7 731.5 435.3 717.4 427.9z" fill="#76a420" stroke="#76a420" stroke-width=".9"/><path d="M676.7 430.8 690.9 438.3 697.1 429.1 683 421z" fill="#7eb022" stroke="#7eb022" stroke-width=".9"/><path d="M690.9 438.3 705.1 445.5 711.2 436.6 697.1 429.1z" fill="#78a820" stroke="#78a820" stroke-width=".9"/><path d="M705.1 445.5 719.4 452.2 725.5 443.7 711.2 436.6z" fill="#72a01e" stroke="#72a01e" stroke-width=".9"/><path d="M469 439.8 510.1 447.9 531.6 412.2 491 406.1z" fill="#66911a"/><path d="M483.8 417.9 497.3 419.7 504.5 407.5 491 406.1z" fill="#648e18" stroke="#648e18" stroke-width=".9"/><path d="M497.3 419.7 510.9 422 518 409.5 504.5 407.5z" fill="#68941a" stroke="#68941a" stroke-width=".9"/><path d="M476.4 429.1 490 431.2 497.3 419.7 483.8 417.9z" fill="#628c18" stroke="#628c18" stroke-width=".9"/><path d="M510.9 422 524.5 424.8 531.6 412.2 518 409.5z" fill="#6e9a1c" stroke="#6e9a1c" stroke-width=".9"/><path d="M490 431.2 503.6 433.7 510.9 422 497.3 419.7z" fill="#66921a" stroke="#66921a" stroke-width=".9"/><path d="M469 439.8 482.6 442.2 490 431.2 476.4 429.1z" fill="#628a18" stroke="#628a18" stroke-width=".9"/><path d="M503.6 433.7 517.3 436.7 524.5 424.8 510.9 422z" fill="#6a961c" stroke="#6a961c" stroke-width=".9"/><path d="M482.6 442.2 496.3 444.9 503.6 433.7 490 431.2z" fill="#648e1a" stroke="#648e1a" stroke-width=".9"/><path d="M496.3 444.9 510.1 447.9 517.3 436.7 503.6 433.7z" fill="#68921a" stroke="#68921a" stroke-width=".9"/><path d="M572.9 424.5 614.8 441.3 634.7 406.9 593.2 383.7z" fill="#86b825"/><path d="M586.5 398.2 600.3 404.6 607 391 593.2 383.7zM600.3 404.6 614.2 411.5 620.8 398.8 607 391zM614.2 411.5 628.1 418.7 634.7 406.9 620.8 398.8z" fill="#8cc026" stroke="#8cc026" stroke-width=".9"/><path d="M579.7 411.7 593.6 417.5 600.3 404.6 586.5 398.2zM607.5 423.7 621.5 430.2 628.1 418.7 614.2 411.5z" fill="#86b824" stroke="#86b824" stroke-width=".9"/><path d="M593.6 417.5 607.5 423.7 614.2 411.5 600.3 404.6z" fill="#86ba24" stroke="#86ba24" stroke-width=".9"/><path d="M572.9 424.5 586.8 429.7 593.6 417.5 579.7 411.7zM600.8 435.4 614.8 441.3 621.5 430.2 607.5 423.7z" fill="#80b022" stroke="#80b022" stroke-width=".9"/><path d="M586.8 429.7 600.8 435.4 607.5 423.7 593.6 417.5z" fill="#80b222" stroke="#80b222" stroke-width=".9"/><path d="M614.8 441.3 657.4 459.8 676.7 430.8 634.7 406.9z" fill="#7fb022"/><path d="M628.1 418.7 642.1 426.1 648.6 415 634.7 406.9z" fill="#88bc26" stroke="#88bc26" stroke-width=".9"/><path d="M642.1 426.1 656.2 433.4 662.6 423 648.6 415z" fill="#84b624" stroke="#84b624" stroke-width=".9"/><path d="M656.2 433.4 670.3 440.6 676.7 430.8 662.6 423z" fill="#80b222" stroke="#80b222" stroke-width=".9"/><path d="M621.5 430.2 635.6 436.9 642.1 426.1 628.1 418.7z" fill="#82b424" stroke="#82b424" stroke-width=".9"/><path d="M635.6 436.9 649.7 443.6 656.2 433.4 642.1 426.1z" fill="#80b022" stroke="#80b022" stroke-width=".9"/><path d="M649.7 443.6 663.9 450.3 670.3 440.6 656.2 433.4z" fill="#7cac22" stroke="#7cac22" stroke-width=".9"/><path d="M614.8 441.3 628.9 447.4 635.6 436.9 621.5 430.2z" fill="#7eae22" stroke="#7eae22" stroke-width=".9"/><path d="M628.9 447.4 643.1 453.6 649.7 443.6 635.6 436.9z" fill="#7aaa20" stroke="#7aaa20" stroke-width=".9"/><path d="M643.1 453.6 657.4 459.8 663.9 450.3 649.7 443.6z" fill="#76a420" stroke="#76a420" stroke-width=".9"/><path d="M510.1 447.9 551.9 459 572.9 424.5 531.6 412.2z" fill="#719e1e"/><path d="M524.5 424.8 538.2 428.2 545.3 415.7 531.6 412.2z" fill="#72a01e" stroke="#72a01e" stroke-width=".9"/><path d="M538.2 428.2 552.1 432.1 559 419.8 545.3 415.7z" fill="#76a420" stroke="#76a420" stroke-width=".9"/><path d="M517.3 436.7 531.1 440 538.2 428.2 524.5 424.8zM537.9 455 551.9 459 558.9 448 545 443.8z" fill="#6e9a1c" stroke="#6e9a1c" stroke-width=".9"/><path d="M552.1 432.1 565.9 436.5 572.9 424.5 559 419.8z" fill="#78a820" stroke="#78a820" stroke-width=".9"/><path d="M531.1 440 545 443.8 552.1 432.1 538.2 428.2z" fill="#709e1e" stroke="#709e1e" stroke-width=".9"/><path d="M510.1 447.9 523.9 451.3 531.1 440 517.3 436.7z" fill="#6a961c" stroke="#6a961c" stroke-width=".9"/><path d="M545 443.8 558.9 448 565.9 436.5 552.1 432.1z" fill="#74a01e" stroke="#74a01e" stroke-width=".9"/><path d="M523.9 451.3 537.9 455 545 443.8 531.1 440z" fill="#6c981c" stroke="#6c981c" stroke-width=".9"/></g>
<path d="M166.0 753.3 202.1 721.8 254.3 679.1M155.4 707.5 182.2 724.0 195.7 731.5 210.8 739.3 238.1 751.7 268.7 763.4 290.3 770.7 315.3 778.2 419.3 806.8 472.1 822.4 515.9 836.5 614.6 870.4 655.5 883.6 679.0 890.4 700.8 896.0 722.7 900.9 743.1 904.7 763.6 907.6 784.3 909.7 805.1 910.9 824.3 911.2M204.1 772.7 292.8 690.8M181.6 688.1 206.6 702.2 231.9 714.8 257.3 725.8 284.4 735.7 305.7 742.3 330.3 749.1 437.5 774.7 465.1 782.0 492.9 790.0 516.1 797.3 541.2 805.7 649.3 844.9 673.9 853.3 697.0 860.6 716.7 866.2 734.7 870.8 752.8 874.8 771.1 878.2 789.6 881.0 806.3 882.9 823.1 884.4 842.0 885.3M242.7 788.6 290.4 741.4 329.8 701.0M207.1 670.4 233.2 683.4 258.1 694.3 283.3 703.7 310.1 712.0 332.7 717.8 357.0 723.0 436.1 737.1 466.3 743.2 496.8 750.5 526.1 759.0 549.1 766.7 575.7 776.6 658.7 810.2 688.1 821.6 716.1 831.6 742.6 839.9 771.2 847.6 800.1 853.7 829.4 858.4 859.0 861.7M281.8 801.9 304.1 778.9 324.8 756.7 345.0 734.3 365.5 710.5M764.3 813.4 790.7 821.4 817.5 828.3 844.5 833.9 875.4 839.1M321.5 813.8 341.5 792.3 360.9 770.1 380.7 746.0 400.9 719.9M818.4 798.5 836.0 803.6 853.7 808.2 891.3 816.5M361.9 825.4 380.5 804.4 399.5 781.1 418.1 756.6 437.0 729.7M836.5 773.7 869.6 783.9 906.7 793.5M402.9 837.4 421.1 815.9 438.9 792.9 456.2 768.5 473.9 741.4M854.1 749.6 885.0 759.8 921.6 770.1M444.6 850.2 461.5 829.5 478.9 806.0 495.9 781.0 513.2 753.1M874.5 727.5 903.4 736.9 936.0 746.2M487.1 863.9 503.6 843.0 520.6 819.4 537.2 794.3 554.1 766.5M890.9 705.0 919.4 713.8 950.0 722.0M530.3 878.5 547.3 856.2 563.8 832.7 580.8 806.7 597.3 779.7M906.9 682.9 933.4 690.2 963.5 697.3M574.2 893.6 591.6 869.9 608.6 845.5 625.0 820.4 642.7 792.0M922.4 661.1 948.6 667.0 976.7 672.2M618.8 908.4 636.6 883.4 654.7 857.0 671.4 831.6 689.3 803.7M937.4 639.2 961.7 643.3 989.5 646.9M664.3 921.7 704.5 862.6 737.7 812.1M950.5 617.1 976.1 620.0 1002.0 621.6M710.6 932.2 790.0 813.3M963.1 595.6 988.5 597.1 1014.1 597.2M757.7 938.7 785.1 896.7 846.3 807.1 885.2 746.7 910.4 706.1 930.5 672.8 981.1 584.6 998.2 556.1M975.4 575.0 1000.5 575.6 1025.8 574.5M162.6 640.2 181.0 625.2 201.1 609.4 288.1 543.8 312.0 524.9 337.8 503.8M152.0 596.2 163.9 603.9 177.5 611.9 191.1 619.3 204.7 626.1 218.4 632.3 233.7 638.7 249.1 644.5 266.1 650.4 289.4 657.7 314.5 664.7 419.4 690.9 471.0 704.9 520.3 719.8 618.2 751.2 655.9 762.4 681.3 769.2 705.1 774.8 727.3 779.1 747.9 782.3 768.6 784.6 787.6 785.9 806.7 786.3 826.0 785.7M201.0 658.9 299.0 575.1 369.6 512.6M178.5 578.6 202.2 591.8 227.5 604.0 254.6 615.1 282.0 624.4 305.0 631.1 329.7 637.4 356.3 643.4 437.8 660.7 465.5 667.4 492.0 674.4 518.7 682.3 545.7 690.9 654.8 728.0 697.6 740.8 717.5 746.0 737.5 750.7 755.8 754.3 774.3 757.3 792.9 759.6 809.7 761.1 826.7 762.0 843.8 762.2M239.8 673.9 279.0 638.1 312.5 606.7 400.3 520.1M204.1 562.8 230.5 575.3 255.6 585.6 282.3 594.9 309.4 602.6 332.1 607.9 358.2 613.0 439.5 625.6 468.4 630.7 495.9 636.6 523.8 644.1 546.9 651.3 572.0 660.1 653.9 691.6 685.2 703.1 715.1 713.1 741.9 720.9 772.5 728.5 801.6 734.1 831.1 738.2 861.0 740.8M279.2 686.3 312.8 654.1 345.8 620.0 372.8 590.5 428.3 527.6M229.0 547.4 257.9 558.9 284.2 567.8 310.7 575.1 337.5 580.9 361.5 584.8 387.3 587.7 411.8 589.7 463.2 592.9 486.9 595.1 510.9 598.7 533.5 603.8 556.3 610.7 580.9 620.0 604.2 630.0 661.4 656.2 688.8 668.3 718.1 680.2 746.1 690.3 777.9 700.2 810.0 708.4 842.6 715.0 877.5 720.2M319.2 697.4 335.4 681.4 352.1 663.9 368.5 645.8 384.5 627.2 399.3 609.2 414.6 589.6 455.3 534.8M253.1 531.8 284.5 542.1 314.9 550.2 342.6 555.8 370.6 559.4 396.0 561.1 423.1 561.2 447.5 560.0 495.4 556.4 514.2 555.9 525.3 556.2 534.8 557.1 544.4 558.6 554.0 560.7 563.7 563.5 573.3 567.0 592.8 575.8 612.4 586.2 663.7 615.7 692.2 631.3 722.7 646.5 753.6 660.0 786.6 672.4 819.9 682.8 855.5 691.8 893.5 699.5M359.8 708.1 376.7 690.6 393.1 672.2 409.1 652.9 424.8 632.7 440.1 611.4 455.1 589.2 469.8 565.9 484.1 541.8M276.4 515.6 301.8 522.7 326.0 528.4 347.6 532.4 369.3 535.3 389.7 536.7 410.3 536.9 431.1 535.6 450.5 533.1M695.6 592.1 718.8 606.9 742.3 620.1 767.6 632.7 793.2 643.8 819.1 653.5 846.9 662.5 876.9 670.7 908.9 678.3M401.2 719.0 417.7 701.2 433.8 682.1 449.5 661.8 464.8 640.2 478.9 618.6 492.8 595.4 505.5 572.1 516.3 550.1M299.1 498.7 320.0 503.9 339.6 508.2 358.0 511.4 375.1 513.7M771.2 601.3 787.9 609.9 804.8 617.8 821.7 624.9 840.4 632.1 859.3 638.6 878.4 644.5 899.3 650.3 923.9 656.6M443.3 730.9 459.4 712.7 475.1 693.2 490.5 672.3 504.6 651.3 518.5 628.9 531.2 606.3 542.8 583.4 553.5 559.9M815.9 593.2 842.6 604.7 871.3 615.2 902.0 624.8 938.4 634.4M486.0 743.8 501.8 725.3 517.2 705.7 532.2 684.8 546.9 662.6 560.4 640.4 573.6 616.6 585.8 592.7 596.1 570.2M833.2 573.6 859.6 584.4 887.9 594.3 918.3 603.2 952.4 611.8M529.6 757.6 544.9 739.0 559.9 719.4 574.6 698.9 588.9 677.5 602.9 655.1 616.6 631.6 630.0 607.2 643.9 580.3M849.9 555.5 876.0 565.1 904.0 573.9 934.0 581.7 966.1 588.7M573.8 771.8 588.8 753.0 603.4 733.7 617.7 713.9 631.6 693.5 657.8 652.6 694.0 592.1M866.2 538.1 891.9 546.3 919.6 553.7 947.6 559.7 979.3 565.2M618.9 785.6 646.8 748.8 674.3 710.3 695.9 678.2 746.8 600.6M881.9 521.1 909.0 528.1 934.8 533.5 962.5 537.9 992.2 541.2M664.7 798.0 695.0 756.9 720.7 721.1 784.5 628.1 804.4 600.2M897.2 504.0 924.0 509.5 951.2 513.6 976.9 516.1 1004.7 517.3M711.4 807.6 785.7 704.5 848.2 615.2 910.1 529.5 962.2 455.1M909.0 486.1 937.1 490.7 963.9 493.6 991.0 494.7 1016.8 494.1M758.9 813.0 786.5 773.9 849.4 689.0 888.4 633.0 912.0 597.8 932.2 566.6 983.5 483.3 1000.7 456.7M923.5 469.1 952.8 472.8 979.4 474.6 1004.6 474.5 1028.6 472.5M156.9 450.1 185.3 430.4 252.4 388.0 269.9 376.3 288.1 363.6 351.2 316.9 403.0 280.3 422.1 266.4 443.7 249.5 486.3 214.0 506.7 198.7M146.3 410.6 156.9 417.1 169.0 423.7 191.9 434.5 216.5 444.0 244.4 452.6 277.3 461.1 375.4 484.0 548.7 526.6 682.2 560.7 704.5 565.9 725.1 570.0 744.0 573.2 763.1 575.6 780.3 577.0 797.7 577.5 813.3 577.2 829.0 576.0M195.6 465.7 221.5 446.7 270.8 412.0 293.3 395.7 317.1 377.4 363.3 340.1 383.2 324.6 405.9 308.1 448.5 279.0 466.9 265.9 486.3 251.1 523.5 221.4 539.3 209.5M173.2 396.0 194.1 406.9 216.7 416.7 239.5 424.9 263.9 432.1 284.0 437.0 307.3 442.1 389.8 457.7 427.3 465.2 460.3 472.4 492.1 479.8 524.2 487.9 558.6 497.0 677.0 530.8 720.7 542.2 739.1 546.4 755.8 549.6 772.7 552.3 787.7 554.2 802.9 555.6 818.1 556.4 833.5 556.6 847.0 556.3M234.9 477.6 298.9 428.4 323.2 409.0 348.6 387.4 398.7 343.1 422.5 323.7 434.9 314.4 447.9 305.4 489.3 278.8 505.8 267.8 524.0 254.5 546.6 237.1M199.2 382.9 222.9 393.2 246.7 402.0 272.3 409.7 298.0 415.8 321.0 420.1 345.6 423.9 427.7 433.8 460.0 438.3 492.7 444.2 522.6 451.0 547.7 457.8 576.6 466.7 668.4 498.1 700.4 508.5 730.9 517.5 758.1 524.5 785.6 530.2 811.5 534.3 837.8 537.0 864.3 538.4M274.7 487.7 322.9 448.1 353.9 420.9 380.9 395.1 431.2 344.1 443.0 333.0 453.9 323.6 467.8 312.8 483.0 302.6 497.1 294.4 528.9 277.2M224.5 369.7 252.2 379.6 278.8 387.5 305.6 393.9 332.6 398.5 356.9 401.3 382.9 403.0 407.7 403.8 459.7 404.5 483.7 405.5 509.5 408.2 532.4 412.4 555.5 418.6 580.5 427.3 605.7 437.5 663.7 462.5 691.5 474.0 721.2 485.3 749.5 494.8 781.8 503.9 812.6 510.8 845.6 516.4 881.0 520.5M315.2 497.7 335.7 480.1 353.6 464.0 370.2 448.3 386.3 432.0 402.1 415.0 417.5 397.2 461.9 342.3 475.2 326.6 483.5 317.8 490.8 310.8 498.1 304.7 505.2 299.6M510.0 296.7 511.6 295.8M513.1 294.9 513.9 294.5M248.9 355.5 283.6 365.5 314.3 372.6 329.0 375.2 343.8 377.3 358.7 378.8 372.2 379.6 397.9 379.8 425.4 378.0 450.1 375.0 497.1 367.8 516.2 365.9 525.8 365.6 535.4 365.9 545.1 367.0 553.2 368.5 561.4 370.6 571.2 373.9 581.0 377.9 590.9 382.5 609.1 392.1 660.9 422.1 689.8 437.8 720.7 452.8 750.1 465.2 765.9 471.0 783.4 476.9 799.4 481.6 817.2 486.4 835.2 490.6 855.0 494.7 897.1 501.8M356.4 508.3 380.4 486.3 402.7 463.7 423.3 440.4 442.4 416.2 458.4 393.8 474.0 369.7 488.4 345.4 513.1 301.4 523.5 285.1M525.1 283.0 526.7 281.0M272.5 340.3 298.2 346.6 319.8 351.3 338.6 354.7 356.1 357.0 373.8 358.5 390.0 358.9 406.4 358.3 421.4 356.9 434.9 354.8 447.0 352.2 460.7 348.5 472.9 344.5 486.8 338.9 500.7 332.2 513.1 325.4 538.2 310.4 549.3 304.9 555.7 302.6 562.1 301.3 568.5 301.1 573.3 301.9 578.2 303.3 584.6 306.4 591.1 310.6 597.6 315.7 607.4 324.5 633.6 350.4 646.7 362.9 661.6 375.9 678.2 389.2 691.6 399.0 706.6 409.1 721.8 418.4 737.1 426.8 754.1 435.4 773.0 443.8 792.0 451.2 812.9 458.3 834.0 464.5 857.0 470.4 882.0 476.0 912.8 482.1M398.3 519.4 414.1 504.4 429.5 488.5 443.6 472.5 457.4 455.4 471.0 437.0 483.4 418.5 494.7 399.8 504.9 381.0 514.2 362.0 521.7 344.6 528.2 327.3 534.7 307.3 540.4 286.9 545.2 266.5 549.9 242.6 553.8 219.6M590.2 191.9 595.5 214.0 601.4 232.7M687.2 259.1 697.8 251.8 708.8 242.9M295.4 324.7 329.3 331.8 353.6 336.0 376.7 338.7 397.0 339.8 417.5 339.2 436.7 336.9 454.5 332.9 463.5 330.2 472.5 326.8 480.0 323.5 487.6 319.6 495.1 315.1 501.2 310.8 507.3 305.9 513.4 300.2 519.5 293.6 524.1 287.9 528.7 281.3 533.3 273.8 541.0 258.6 548.7 238.8 554.9 218.8M629.9 232.7 636.4 255.5 644.5 278.6 649.3 290.3 654.2 300.6 663.9 318.2 675.3 335.0 688.4 350.8 703.1 365.7 711.4 373.0 721.3 381.0 741.3 395.2 761.3 407.3 783.3 418.6 807.1 428.9 831.2 437.5 857.2 445.3 887.0 452.9 927.9 462.1M440.9 530.4 456.4 515.1 470.5 499.7 484.3 483.3 497.0 466.8 509.4 449.0 520.7 431.2 531.8 411.9 541.1 393.8 549.4 375.6 555.9 359.3 561.6 343.0 567.3 323.8 572.0 304.0 576.0 283.6 579.1 263.4 582.3 237.9M639.0 192.8 641.8 212.5 644.7 226.8M699.1 276.3 709.9 272.7 721.2 266.9 732.7 259.1 744.1 249.6M317.7 309.2 355.4 316.4 382.4 320.5 406.7 322.5 418.2 322.8 429.8 322.5 441.4 321.6 451.6 320.2 461.9 318.2 472.1 315.5 482.5 312.0 491.4 308.3 500.3 303.8 507.8 299.2M557.5 218.8 560.6 205.8M663.0 224.5 669.4 251.3 675.8 271.3 683.7 290.7 691.8 306.0 701.4 320.8 707.9 329.3 714.3 336.9 728.9 351.7 745.3 365.4 763.4 378.3 783.2 390.2 803.2 400.4 825.1 409.8 847.1 417.7 872.8 425.5 902.2 433.1 942.5 442.3M484.3 541.0 499.3 525.6 514.1 509.1 527.6 492.7 540.8 475.1 553.7 456.2 565.6 437.2 576.4 418.1 586.2 398.8 595.1 379.4 602.3 361.7 608.6 344.0 614.8 323.6 620.3 302.9 624.9 282.0 629.5 257.7 633.3 234.4M710.6 285.8 711.3 285.9M712.6 286.2 719.7 287.1 727.3 286.6 735.5 284.7 743.5 281.7 752.1 277.3 761.1 271.5 770.5 264.2 779.8 256.0M339.2 294.0 372.5 300.6 396.2 304.5 418.8 307.0 438.8 307.9 458.8 307.2 477.6 304.8 495.1 300.9 503.8 298.2 512.7 294.9M579.8 228.1 587.4 208.9 593.5 189.4M676.1 234.1 683.9 254.6 691.8 271.3 701.3 287.8 712.4 303.5 725.1 318.4 737.9 331.0 754.0 344.6 770.1 356.2 788.0 367.4 806.0 377.1 825.8 386.3 847.5 394.8 869.3 402.0 893.0 408.6 920.3 415.2 956.6 423.0M528.4 551.6 549.4 529.1 569.7 505.2 587.7 481.7 605.2 456.4 620.6 431.7 635.7 405.0 647.3 382.6 668.5 339.5 676.7 324.0 683.2 313.3 689.7 305.3 693.2 302.1 696.8 299.9 700.3 298.6 703.8 298.0 710.6 298.3 728.7 302.0 739.2 303.1 745.0 302.9 750.7 302.3 756.3 301.2 762.6 299.3 768.7 297.0 774.8 294.1 787.9 286.1 801.9 275.3 816.1 262.3M360.2 278.8 387.6 285.0 409.7 289.3 430.6 292.5 448.9 294.2 467.2 294.9 484.3 294.4 501.5 292.7 518.8 289.8M701.0 279.2 715.1 292.5 729.1 304.8 741.7 314.9 756.0 325.4 770.2 335.0 786.2 344.7 802.3 353.5 818.4 361.5 833.1 367.9 849.4 374.2 865.9 379.9 884.1 385.4 902.4 390.2 922.6 394.8 970.3 403.9M573.2 562.6 591.9 542.2 609.2 522.4 624.4 504.1 638.4 486.1 651.2 468.6 663.8 450.3 709.6 380.4 720.3 365.9 729.4 355.4 739.6 345.8 750.4 338.4 760.2 333.1 789.3 319.7 799.0 314.3 808.6 308.0 818.5 300.6 828.9 291.8 840.1 281.4 852.8 268.8M380.6 263.2 402.3 269.1 421.4 273.7 439.2 277.3 457.2 280.1 473.9 281.9 490.8 283.0 507.7 283.1 524.7 282.5M711.4 286.8 716.1 289.2M719.1 290.9 767.2 317.3 793.9 331.0 822.4 344.1 851.3 355.3 880.5 364.6 911.6 372.5 944.9 378.9 983.6 384.5M618.9 574.3 658.0 530.1 683.8 499.3 706.1 470.3 749.1 411.4 760.2 397.4 770.3 385.6 781.0 374.6 792.0 364.5 802.2 356.2 829.7 335.0 846.0 320.9 864.1 303.3 890.0 275.8M400.4 246.8 417.8 252.5 434.0 257.3 450.3 261.5 465.3 264.7 481.8 267.6 498.4 269.8 515.1 271.3 531.9 272.3M708.0 283.6 723.1 288.3 741.3 294.9 802.8 319.2 829.4 329.2 853.1 337.3 877.0 344.5 905.9 351.8 935.2 357.4 964.9 361.5 996.5 364.2M665.4 585.9 715.9 527.7 735.0 505.0 755.0 479.9 794.1 428.7 812.6 406.2 831.7 385.5 865.3 352.6 880.2 337.2 894.6 321.2 927.7 282.7M419.6 229.5 434.2 235.4 447.6 240.2 461.0 244.4 475.8 248.4 489.4 251.6 504.3 254.5 537.3 259.3M700.2 277.0 723.9 282.1 747.8 288.2 774.9 295.9 854.8 319.8 879.9 326.6 903.6 332.1 930.8 337.3 956.6 340.8 982.7 342.7 1009.1 343.2M712.7 595.7 732.2 572.3 769.0 529.8 785.8 509.9 803.5 487.8 837.7 443.3 852.4 424.7 869.1 404.9 900.1 370.0 913.5 354.4 966.0 288.1M438.3 212.3 450.2 217.9 462.1 222.9 474.0 227.4 486.0 231.3 499.4 235.2 512.8 238.5 544.0 244.5M691.3 266.8 726.2 273.4 761.5 280.7 798.8 289.1 882.7 308.9 904.5 313.6 924.9 317.4 951.8 321.2 975.8 323.1 998.4 323.5 1021.3 322.3M761.0 601.1 781.3 576.0 828.6 521.9 853.1 492.0 897.9 433.4 946.9 371.4 961.7 350.9 991.0 308.5 1004.9 290.1M456.6 196.3 467.0 201.9 477.5 206.8 498.5 215.2 521.0 222.1 547.7 228.5M684.2 253.2 814.7 277.7 905.4 295.8 939.4 301.5 966.0 304.6 989.7 305.8 1012.1 305.2 1033.1 302.9" fill="none" stroke="#363638" stroke-width="1.9" stroke-linejoin="round"/>
<path d="M128.3 729.8 145.8 715.1 165.0 700.2 184.8 685.8 214.2 665.5M128.3 729.8 141.9 738.8 157.0 748.1 170.7 755.9 185.9 763.9 199.7 770.6 215.1 777.5 230.5 783.9 247.6 790.4 269.6 798.0 294.8 805.9 397.0 835.6 450.5 852.0 500.1 868.3 591.4 899.4 623.8 909.9 651.1 918.1 675.0 924.4 697.3 929.5 719.7 933.8 742.4 937.1 763.4 939.2 784.5 940.3 805.9 940.5M805.9 940.5 820.0 917.8 834.3 896.2 879.5 833.4 897.7 807.1 914.7 781.0 931.1 754.4 949.7 722.4 967.6 689.7 984.3 657.3 1019.2 587.0 1028.5 569.5 1037.1 554.5M985.8 555.8 1012.1 556.0 1037.1 554.5M124.7 616.7 144.4 601.5 164.9 587.4 183.8 575.3 231.2 546.0 257.2 529.0 280.5 512.7 303.0 495.7M124.7 616.7 136.8 624.9 150.5 633.3 164.2 641.1 179.6 649.0 195.0 656.2 210.5 662.8 226.0 668.9 243.2 675.0 266.9 682.7 294.0 690.6 396.9 717.9 449.2 732.6 497.4 747.4 589.4 776.7 625.7 787.6 653.2 795.1 677.4 800.9 701.7 805.9 724.4 809.6 747.3 812.2 768.5 813.5 787.9 813.7 807.5 812.7M807.5 812.7 821.0 792.8 834.7 774.0 879.6 717.5 898.1 693.4 915.8 668.5 933.5 642.0 952.7 611.3 971.2 579.7 988.5 548.2 1022.9 482.7 1031.8 467.0 1039.9 453.8M936.1 452.0 965.1 455.4 991.3 456.7 1016.3 456.2 1028.8 455.1 1039.9 453.8M118.5 428.4 135.3 417.2 154.0 406.2 171.2 397.1 213.7 375.5 237.5 362.3 261.6 347.5 290.4 328.2 348.2 287.6 378.7 264.7 404.1 243.5 451.4 200.6 463.0 191.2 474.4 183.0M118.5 428.4 129.3 435.2 141.6 442.3 152.4 447.9 164.7 453.7 177.1 458.9 191.2 464.2 221.0 473.7 249.5 481.4 333.8 502.4 438.4 529.7 560.0 559.3 650.0 582.2 676.3 588.4 699.1 593.2 720.2 596.9 739.4 599.4 758.9 601.0 776.5 601.5 794.3 601.0 810.2 599.5M810.2 599.5 821.6 584.8 834.1 570.1 873.9 528.3 889.6 510.7 905.5 491.4 923.9 467.4 961.9 415.7 981.9 387.1 999.0 360.2 1030.3 307.4 1037.7 295.9 1044.6 286.5M474.4 183.0 492.5 192.5 510.6 200.2 530.3 206.9 552.7 212.9M677.3 236.7 753.4 251.3 842.0 266.9 919.8 281.4 950.4 286.2 976.7 289.1 1000.1 290.1 1022.2 289.3 1033.4 288.2 1044.6 286.5" fill="none" stroke="#000" stroke-width="2.3" stroke-linejoin="round" stroke-linecap="round"/>
<path d="M663.9 218.9 666.1 216.8 667.9 214.7 669.2 212.6 670.1 210.4 670.6 208.3 670.6 206.1 670.1 204 669.2 202 667.9 200 666.2 198.1 664 196.3 661.5 194.5 658.6 193 655.3 191.5 651.8 190.2 647.9 189 643.8 187.9 639.4 187.1 634.9 186.4 630.2 185.8 625.3 185.5 620.3 185.3 615.3 185.3 610.3 185.5 605.2 185.8 600.2 186.4 595.3 187.1 590.4 187.9 585.8 188.9 581.3 190.1 577 191.5 572.9 192.9 569.2 194.5 565.7 196.2 562.6 198 559.8 199.9 557.4 201.9 555.4 204 553.8 206.1 552.6 208.2 551.9 210.4 551.6 212.5 551.8 214.6 552.5 216.7 553.6 218.8 555.1 220.8 557.1 222.7 559.5 224.5 562.3 226.2 565.6 227.8 569.1 229.3 573.1 230.5 577.3 231.7 581.8 232.6 586.5 233.4 591.5 234 596.6 234.4 601.8 234.6 607.1 234.6 612.4 234.4 617.7 234 623 233.4 628.1 232.6 633.1 231.7 638 230.6 642.6 229.3 647 227.9 651 226.3 654.8 224.6 658.2 222.8 661.2 220.8z" fill="#cbcbcb" stroke="#000" stroke-width="2.2"/><path d="M640.9 214.7 642.1 213.5 643.2 212.3 644 211.1 644.5 209.9 644.8 208.7 644.8 207.5 644.6 206.3 644.1 205.1 643.4 204 642.4 202.9 641.3 201.9 639.8 200.9 638.2 200 636.4 199.2 634.4 198.4 632.2 197.7 629.8 197.1 627.4 196.6 624.8 196.2 622.1 195.9 619.3 195.7 616.5 195.6 613.6 195.6 610.7 195.7 607.8 195.9 605 196.2 602.1 196.6 599.4 197.1 596.7 197.7 594.2 198.4 591.7 199.1 589.5 200 587.3 200.9 585.4 201.9 583.6 202.9 582.1 204 580.7 205.1 579.6 206.3 578.8 207.5 578.1 208.7 577.8 209.9 577.6 211.1 577.8 212.3 578.2 213.5 578.8 214.6 579.7 215.8 580.9 216.8 582.2 217.8 583.8 218.8 585.7 219.7 587.7 220.5 589.9 221.2 592.3 221.8 594.8 222.3 597.4 222.8 600.2 223.1 603.1 223.3 606 223.4 608.9 223.4 611.9 223.3 614.9 223.1 617.8 222.8 620.7 222.4 623.5 221.8 626.2 221.2 628.8 220.5 631.3 219.7 633.6 218.8 635.7 217.9 637.6 216.9 639.4 215.8z" fill="none" stroke="#000" stroke-width="1.5"/><path d="M636.1 213.8 637.2 212.8 638.1 211.9 638.8 210.8 639.2 209.8 639.5 208.8 639.5 207.8 639.3 206.8 638.9 205.8 638.3 204.9 637.5 203.9 636.5 203.1 635.3 202.2 634 201.5 632.4 200.8 630.7 200.1 628.9 199.5 626.9 199 624.8 198.6 622.6 198.3 620.4 198 618 197.8 615.6 197.7 613.2 197.7 610.8 197.8 608.4 198 606 198.3 603.6 198.6 601.3 199 599 199.5 596.9 200.1 594.8 200.7 592.9 201.4 591.1 202.2 589.5 203 588 203.9 586.7 204.8 585.6 205.8 584.7 206.8 583.9 207.8 583.4 208.8 583.1 209.8 583 210.8 583.1 211.8 583.5 212.8 584 213.8 584.8 214.7 585.7 215.6 586.9 216.5 588.3 217.3 589.8 218 591.5 218.7 593.3 219.3 595.3 219.8 597.5 220.2 599.7 220.6 602 220.9 604.4 221.1 606.8 221.1 609.3 221.1 611.8 221.1 614.3 220.9 616.8 220.6 619.2 220.3 621.5 219.8 623.8 219.3 626 218.7 628.1 218 630 217.3 631.8 216.5 633.4 215.6 634.9 214.8z" fill="none" stroke="#000" stroke-width="2.2"/>
<path d="M92.0 278.7 468.9 55.5M468.9 55.5 1064.7 148.7M1064.7 148.7 822.1 437.0M822.1 437.0 92.0 278.7M109.6 797.5 161.9 750.2M1015.1 598.7 1051.5 607.4M1051.5 607.4 814.1 1027.6M814.1 1027.6 109.6 797.5M109.6 797.5 92.0 278.7M470.1 185.3 468.9 55.5M1051.5 607.4 1064.7 148.7M814.1 1027.6 822.1 437.0" fill="none" stroke="#666" stroke-width="1.8"/>
<path d="M233.5 1107.4V1582.4M336.5 1107.4V1582.4M439.5 1107.4V1582.4M542.5 1107.4V1582.4M130.5 1463.7H645.5M130.5 1344.9H645.5M130.5 1226.2H645.5" stroke="#000" stroke-width="2" stroke-dasharray="2 10" fill="none"/>
<path d="M130.5 1582.4v-18.5M130.5 1107.4v18.5M233.5 1582.4v-18.5M233.5 1107.4v18.5M336.5 1582.4v-18.5M336.5 1107.4v18.5M439.5 1582.4v-18.5M439.5 1107.4v18.5M542.5 1582.4v-18.5M542.5 1107.4v18.5M645.5 1582.4v-18.5M645.5 1107.4v18.5M130.5 1582.4h18.5M645.5 1582.4h-18.5M130.5 1463.7h18.5M645.5 1463.7h-18.5M130.5 1344.9h18.5M645.5 1344.9h-18.5M130.5 1226.2h18.5M645.5 1226.2h-18.5M130.5 1107.4h18.5M645.5 1107.4h-18.5" stroke="#000" stroke-width="2.5" fill="none"/>
<path d="M140.8 1558.2 151.1 1555.8 161.4 1553.9 171.7 1551.3 182 1547.5 192.3 1543 202.6 1537.5 212.9 1532.1 223.2 1526.4 233.5 1520.2 243.8 1513.5 254.1 1506.9 264.4 1500.2 274.7 1493.8 285 1485.5 295.3 1477.2 305.6 1468.9 315.9 1459.9 326.2 1450.6 336.5 1441.6 388 1392.6 439.5 1339.2 491 1285.5 542.5 1230.9 594 1176.3 645.5 1124" stroke="#009e73" stroke-width="2.4" fill="none"/>
<path d="M130.3 1558.2h21M140.8 1547.7v21M140.6 1555.8h21M151.1 1545.3v21M150.9 1553.9h21M161.4 1543.4v21M161.2 1551.3h21M171.7 1540.8v21M171.5 1547.5h21M182 1537v21M181.8 1543h21M192.3 1532.5v21M192.1 1537.5h21M202.6 1527v21M202.4 1532.1h21M212.9 1521.6v21M212.7 1526.4h21M223.2 1515.9v21M223 1520.2h21M233.5 1509.7v21M233.3 1513.5h21M243.8 1503v21M243.6 1506.9h21M254.1 1496.4v21M253.9 1500.2h21M264.4 1489.7v21M264.2 1493.8h21M274.7 1483.3v21M274.5 1485.5h21M285 1475v21M284.8 1477.2h21M295.3 1466.7v21M295.1 1468.9h21M305.6 1458.4v21M305.4 1459.9h21M315.9 1449.4v21M315.7 1450.6h21M326.2 1440.1v21M326 1441.6h21M336.5 1431.1v21M377.5 1392.6h21M388 1382.1v21M429 1339.2h21M439.5 1328.7v21M480.5 1285.5h21M491 1275v21M532 1230.9h21M542.5 1220.4v21M583.5 1176.3h21M594 1165.8v21M635 1124h21M645.5 1113.5v21" stroke="#009e73" stroke-width="2.9" fill="none"/>
<path d="M140.8 1558.4 151.1 1557 161.4 1555.6 171.7 1553.9 182 1551.8 192.3 1549.2 202.6 1547 212.9 1544.4 223.2 1541.3 233.5 1538.5 243.8 1535.4 254.1 1532.3 264.4 1529.2 274.7 1526.1 285 1522.3 295.3 1518.8 305.6 1515.2 315.9 1511.2 326.2 1507.1 336.5 1502.6 388 1478.9 439.5 1457 491 1434.4 542.5 1410.9 594 1387.4 645.5 1364.9" stroke="#56b4e9" stroke-width="2.4" fill="none"/>
<path d="M133.2 1550.8l15.2 15.2M133.2 1566l15.2 -15.2M143.5 1549.4l15.2 15.2M143.5 1564.6l15.2 -15.2M153.8 1548l15.2 15.2M153.8 1563.2l15.2 -15.2M164.1 1546.3l15.2 15.2M164.1 1561.5l15.2 -15.2M174.4 1544.2l15.2 15.2M174.4 1559.4l15.2 -15.2M184.7 1541.6l15.2 15.2M184.7 1556.8l15.2 -15.2M195 1539.4l15.2 15.2M195 1554.6l15.2 -15.2M205.3 1536.8l15.2 15.2M205.3 1552l15.2 -15.2M215.6 1533.7l15.2 15.2M215.6 1548.9l15.2 -15.2M225.9 1530.9l15.2 15.2M225.9 1546.1l15.2 -15.2M236.2 1527.8l15.2 15.2M236.2 1543l15.2 -15.2M246.5 1524.7l15.2 15.2M246.5 1539.9l15.2 -15.2M256.8 1521.6l15.2 15.2M256.8 1536.8l15.2 -15.2M267.1 1518.5l15.2 15.2M267.1 1533.7l15.2 -15.2M277.4 1514.7l15.2 15.2M277.4 1529.9l15.2 -15.2M287.7 1511.2l15.2 15.2M287.7 1526.3l15.2 -15.2M298 1507.6l15.2 15.2M298 1522.8l15.2 -15.2M308.3 1503.6l15.2 15.2M308.3 1518.8l15.2 -15.2M318.6 1499.5l15.2 15.2M318.6 1514.7l15.2 -15.2M328.9 1495l15.2 15.2M328.9 1510.2l15.2 -15.2M380.4 1471.3l15.2 15.2M380.4 1486.5l15.2 -15.2M431.9 1449.4l15.2 15.2M431.9 1464.6l15.2 -15.2M483.4 1426.8l15.2 15.2M483.4 1442l15.2 -15.2M534.9 1403.3l15.2 15.2M534.9 1418.5l15.2 -15.2M586.4 1379.8l15.2 15.2M586.4 1395l15.2 -15.2M637.9 1357.3l15.2 15.2M637.9 1372.5l15.2 -15.2" stroke="#56b4e9" stroke-width="2.9" fill="none"/>
<path d="M140.8 1558.5 151.1 1556.3 161.4 1555.6 171.7 1554.6 182 1553 192.3 1551.9 202.6 1550.1 212.9 1548.2 223.2 1546.3 233.5 1544.2 243.8 1542 254.1 1539.9 264.4 1537.5 274.7 1535.1 285 1532.8 295.3 1530.2 305.6 1527.5 315.9 1525.6 326.2 1523.7 388 1506.6 439.5 1491.9 491 1477.9 542.5 1463.2 594 1450.1 645.5 1436.1" stroke="#e69f00" stroke-width="2.4" fill="none"/>
<path d="M132.6 1558.5h16.4M140.8 1550.3v16.4M133.8 1551.5l14 14M133.8 1565.5l14 -14M142.9 1556.3h16.4M151.1 1548.1v16.4M144.1 1549.3l14 14M144.1 1563.3l14 -14M153.2 1555.6h16.4M161.4 1547.4v16.4M154.4 1548.6l14 14M154.4 1562.6l14 -14M163.5 1554.6h16.4M171.7 1546.4v16.4M164.7 1547.6l14 14M164.7 1561.6l14 -14M173.8 1553h16.4M182 1544.8v16.4M175 1546l14 14M175 1560l14 -14M184.1 1551.9h16.4M192.3 1543.7v16.4M185.3 1544.9l14 14M185.3 1558.9l14 -14M194.4 1550.1h16.4M202.6 1541.9v16.4M195.6 1543.1l14 14M195.6 1557.1l14 -14M204.7 1548.2h16.4M212.9 1540v16.4M205.9 1541.2l14 14M205.9 1555.2l14 -14M215 1546.3h16.4M223.2 1538.1v16.4M216.2 1539.3l14 14M216.2 1553.3l14 -14M225.3 1544.2h16.4M233.5 1536v16.4M226.5 1537.2l14 14M226.5 1551.2l14 -14M235.6 1542h16.4M243.8 1533.8v16.4M236.8 1535l14 14M236.8 1549l14 -14M245.9 1539.9h16.4M254.1 1531.7v16.4M247.1 1532.9l14 14M247.1 1546.9l14 -14M256.2 1537.5h16.4M264.4 1529.3v16.4M257.4 1530.5l14 14M257.4 1544.5l14 -14M266.5 1535.1h16.4M274.7 1526.9v16.4M267.7 1528.1l14 14M267.7 1542.1l14 -14M276.8 1532.8h16.4M285 1524.6v16.4M278 1525.8l14 14M278 1539.8l14 -14M287.1 1530.2h16.4M295.3 1522v16.4M288.3 1523.2l14 14M288.3 1537.2l14 -14M297.4 1527.5h16.4M305.6 1519.3v16.4M298.6 1520.5l14 14M298.6 1534.5l14 -14M307.7 1525.6h16.4M315.9 1517.4v16.4M308.9 1518.6l14 14M308.9 1532.6l14 -14M318 1523.7h16.4M326.2 1515.5v16.4M319.2 1516.7l14 14M319.2 1530.7l14 -14M379.8 1506.6h16.4M388 1498.4v16.4M381 1499.6l14 14M381 1513.6l14 -14M431.3 1491.9h16.4M439.5 1483.7v16.4M432.5 1484.9l14 14M432.5 1498.9l14 -14M482.8 1477.9h16.4M491 1469.7v16.4M484 1470.9l14 14M484 1484.9l14 -14M534.3 1463.2h16.4M542.5 1455v16.4M535.5 1456.2l14 14M535.5 1470.2l14 -14M585.8 1450.1h16.4M594 1441.9v16.4M587 1443.1l14 14M587 1457.1l14 -14M637.3 1436.1h16.4M645.5 1427.9v16.4M638.5 1429.1l14 14M638.5 1443.1l14 -14" stroke="#e69f00" stroke-width="2.9" fill="none"/>
<path d="M140.8 1558.7 149.4 1557.7 157.9 1556.8 166.5 1555.8 175 1554.8 183.6 1553.4 192.1 1552.1 200.7 1550.7 209.2 1549.1 217.8 1547.3 226.3 1545.6 234.9 1543.9 243.5 1542.3 252 1540.7 260.6 1539 269.1 1537.4 277.7 1535.8 286.2 1534.3 294.8 1532.7 303.3 1531.1 311.9 1529.7 320.4 1528.6 329 1527.4 337.5 1526.3 346.1 1525.2 354.7 1524 363.2 1522.4 371.8 1520.7 380.3 1519 388.9 1517.3 397.4 1515.6 406 1514 414.5 1512.4 423.1 1510.8 431.6 1509.2 440.2 1507.6 448.8 1506 457.3 1504.4 465.9 1502.8 474.4 1501.2 483 1499.6 491.5 1498 500.1 1496.4 508.6 1494.9 517.2 1493.3 525.7 1491.8 534.3 1490.3 542.8 1488.8 551.4 1487.3 560 1485.8 568.5 1484.4 577.1 1482.9 585.6 1481.4 594.2 1479.9 602.7 1478.4 611.3 1476.9 619.8 1475.5 628.4 1474 636.9 1472.5 645.5 1471" stroke="#000" stroke-width="2.8" stroke-dasharray="21 21" fill="none"/>
<rect x="130.5" y="1107.4" width="515" height="475" fill="none" stroke="#000" stroke-width="2.6"/>
<path d="M1031.9 1101.8V1577.1M774.3 1245.4H1289.5M774.3 1547.2H1289.5" stroke="#000" stroke-width="2" stroke-dasharray="2 10" fill="none"/>
<path d="M774.3 1577.1v-19M774.3 1101.8v19M851.8 1577.1v-9.5M851.8 1101.8v9.5M897.2 1577.1v-9.5M897.2 1101.8v9.5M929.4 1577.1v-9.5M929.4 1101.8v9.5M954.4 1577.1v-9.5M954.4 1101.8v9.5M974.8 1577.1v-9.5M974.8 1101.8v9.5M992 1577.1v-9.5M992 1101.8v9.5M1006.9 1577.1v-9.5M1006.9 1101.8v9.5M1020.1 1577.1v-9.5M1020.1 1101.8v9.5M1031.9 1577.1v-19M1031.9 1101.8v19M1109.4 1577.1v-9.5M1109.4 1101.8v9.5M1154.8 1577.1v-9.5M1154.8 1101.8v9.5M1187 1577.1v-9.5M1187 1101.8v9.5M1212 1577.1v-9.5M1212 1101.8v9.5M1232.4 1577.1v-9.5M1232.4 1101.8v9.5M1249.6 1577.1v-9.5M1249.6 1101.8v9.5M1264.5 1577.1v-9.5M1264.5 1101.8v9.5M1277.7 1577.1v-9.5M1277.7 1101.8v9.5M774.3 1561h9.5M1289.5 1561h-9.5M774.3 1547.2h19M1289.5 1547.2h-19M774.3 1456.3h9.5M1289.5 1456.3h-9.5M774.3 1403.2h9.5M1289.5 1403.2h-9.5M774.3 1365.5h9.5M1289.5 1365.5h-9.5M774.3 1336.3h9.5M1289.5 1336.3h-9.5M774.3 1312.4h9.5M1289.5 1312.4h-9.5M774.3 1292.1h9.5M1289.5 1292.1h-9.5M774.3 1274.6h9.5M1289.5 1274.6h-9.5M774.3 1259.2h9.5M1289.5 1259.2h-9.5M774.3 1245.4h19M1289.5 1245.4h-19M774.3 1154.5h9.5M1289.5 1154.5h-9.5M774.3 1101.4h9.5M1289.5 1101.4h-9.5" stroke="#000" stroke-width="2.5" fill="none"/>
<path d="M851.8 1544.6 929.4 1532.3 974.8 1523.3 1006.9 1511.8 1031.9 1496.7 1052.3 1480.8 1069.5 1463.8 1084.5 1448.7 1097.7 1434.7 1109.4 1421 1120.1 1407.6 1129.8 1395.6 1138.8 1384.5 1147.1 1374.7 1154.8 1362.9 1162 1352.1 1168.8 1342.1 1175.2 1332.1 1181.3 1322.6 1187 1313.9 1212 1274.8 1232.4 1242.3 1249.6 1216.2 1264.5 1194 1277.7 1175.1 1289.5 1159.2" stroke="#009e73" stroke-width="2.4" fill="none"/>
<path d="M841.3 1544.6h21M851.8 1534.1v21M918.9 1532.3h21M929.4 1521.8v21M964.3 1523.3h21M974.8 1512.8v21M996.4 1511.8h21M1006.9 1501.3v21M1021.4 1496.7h21M1031.9 1486.2v21M1041.8 1480.8h21M1052.3 1470.3v21M1059 1463.8h21M1069.5 1453.3v21M1074 1448.7h21M1084.5 1438.2v21M1087.2 1434.7h21M1097.7 1424.2v21M1098.9 1421h21M1109.4 1410.5v21M1109.6 1407.6h21M1120.1 1397.1v21M1119.3 1395.6h21M1129.8 1385.1v21M1128.3 1384.5h21M1138.8 1374v21M1136.6 1374.7h21M1147.1 1364.2v21M1144.3 1362.9h21M1154.8 1352.4v21M1151.5 1352.1h21M1162 1341.6v21M1158.3 1342.1h21M1168.8 1331.6v21M1164.7 1332.1h21M1175.2 1321.6v21M1170.8 1322.6h21M1181.3 1312.1v21M1176.5 1313.9h21M1187 1303.4v21M1201.5 1274.8h21M1212 1264.3v21M1221.9 1242.3h21M1232.4 1231.8v21M1239.1 1216.2h21M1249.6 1205.7v21M1254 1194h21M1264.5 1183.5v21M1267.2 1175.1h21M1277.7 1164.6v21M1279 1159.2h21M1289.5 1148.7v21" stroke="#009e73" stroke-width="2.9" fill="none"/>
<path d="M851.8 1545.9 929.4 1538.3 974.8 1531.2 1006.9 1523.3 1031.9 1513.8 1052.3 1503.1 1069.5 1494.9 1084.5 1485.6 1097.7 1475.4 1109.4 1466.6 1120.1 1457.7 1129.8 1449.3 1138.8 1441.5 1147.1 1434.1 1154.8 1425.5 1162 1418 1168.8 1410.9 1175.2 1403.2 1181.3 1396 1187 1388.4 1212 1354.2 1232.4 1329.1 1249.6 1307.4 1264.5 1288.1 1277.7 1271.3 1289.5 1256.9" stroke="#56b4e9" stroke-width="2.4" fill="none"/>
<path d="M844.2 1538.3l15.2 15.2M844.2 1553.5l15.2 -15.2M921.8 1530.7l15.2 15.2M921.8 1545.9l15.2 -15.2M967.2 1523.6l15.2 15.2M967.2 1538.8l15.2 -15.2M999.3 1515.7l15.2 15.2M999.3 1530.9l15.2 -15.2M1024.3 1506.2l15.2 15.2M1024.3 1521.4l15.2 -15.2M1044.7 1495.5l15.2 15.2M1044.7 1510.7l15.2 -15.2M1061.9 1487.3l15.2 15.2M1061.9 1502.5l15.2 -15.2M1076.9 1478l15.2 15.2M1076.9 1493.2l15.2 -15.2M1090.1 1467.8l15.2 15.2M1090.1 1483l15.2 -15.2M1101.8 1459l15.2 15.2M1101.8 1474.2l15.2 -15.2M1112.5 1450.1l15.2 15.2M1112.5 1465.3l15.2 -15.2M1122.2 1441.7l15.2 15.2M1122.2 1456.9l15.2 -15.2M1131.2 1433.9l15.2 15.2M1131.2 1449.1l15.2 -15.2M1139.5 1426.5l15.2 15.2M1139.5 1441.7l15.2 -15.2M1147.2 1417.9l15.2 15.2M1147.2 1433.1l15.2 -15.2M1154.4 1410.4l15.2 15.2M1154.4 1425.6l15.2 -15.2M1161.2 1403.3l15.2 15.2M1161.2 1418.5l15.2 -15.2M1167.6 1395.6l15.2 15.2M1167.6 1410.8l15.2 -15.2M1173.7 1388.4l15.2 15.2M1173.7 1403.6l15.2 -15.2M1179.4 1380.8l15.2 15.2M1179.4 1396l15.2 -15.2M1204.4 1346.6l15.2 15.2M1204.4 1361.8l15.2 -15.2M1224.8 1321.5l15.2 15.2M1224.8 1336.7l15.2 -15.2M1242 1299.8l15.2 15.2M1242 1315l15.2 -15.2M1256.9 1280.5l15.2 15.2M1256.9 1295.7l15.2 -15.2M1270.1 1263.7l15.2 15.2M1270.1 1278.9l15.2 -15.2M1281.9 1249.3l15.2 15.2M1281.9 1264.5l15.2 -15.2" stroke="#56b4e9" stroke-width="2.9" fill="none"/>
<path d="M851.8 1546.3 929.4 1535.1 974.8 1531.5 1006.9 1526.6 1031.9 1519 1052.3 1514.3 1069.5 1506.9 1084.5 1499.4 1097.7 1492.3 1109.4 1484.8 1120.1 1477.7 1129.8 1470.9 1138.8 1463.8 1147.1 1457 1154.8 1450.6 1162 1443.9 1168.8 1437.5 1175.2 1433 1181.3 1428.7 1212 1395.2 1232.4 1371.9 1249.6 1353 1264.5 1335.7 1277.7 1322.1 1289.5 1308.9" stroke="#e69f00" stroke-width="2.4" fill="none"/>
<path d="M843.6 1546.3h16.4M851.8 1538.1v16.4M844.8 1539.3l14 14M844.8 1553.3l14 -14M921.2 1535.1h16.4M929.4 1526.9v16.4M922.4 1528.1l14 14M922.4 1542.1l14 -14M966.6 1531.5h16.4M974.8 1523.3v16.4M967.8 1524.5l14 14M967.8 1538.5l14 -14M998.7 1526.6h16.4M1006.9 1518.4v16.4M999.9 1519.6l14 14M999.9 1533.6l14 -14M1023.7 1519h16.4M1031.9 1510.8v16.4M1024.9 1512l14 14M1024.9 1526l14 -14M1044.1 1514.3h16.4M1052.3 1506.1v16.4M1045.3 1507.3l14 14M1045.3 1521.3l14 -14M1061.3 1506.9h16.4M1069.5 1498.7v16.4M1062.5 1499.9l14 14M1062.5 1513.9l14 -14M1076.3 1499.4h16.4M1084.5 1491.2v16.4M1077.5 1492.4l14 14M1077.5 1506.4l14 -14M1089.5 1492.3h16.4M1097.7 1484.1v16.4M1090.7 1485.3l14 14M1090.7 1499.3l14 -14M1101.2 1484.8h16.4M1109.4 1476.6v16.4M1102.4 1477.8l14 14M1102.4 1491.8l14 -14M1111.9 1477.7h16.4M1120.1 1469.5v16.4M1113.1 1470.7l14 14M1113.1 1484.7l14 -14M1121.6 1470.9h16.4M1129.8 1462.7v16.4M1122.8 1463.9l14 14M1122.8 1477.9l14 -14M1130.6 1463.8h16.4M1138.8 1455.6v16.4M1131.8 1456.8l14 14M1131.8 1470.8l14 -14M1138.9 1457h16.4M1147.1 1448.8v16.4M1140.1 1450l14 14M1140.1 1464l14 -14M1146.6 1450.6h16.4M1154.8 1442.4v16.4M1147.8 1443.6l14 14M1147.8 1457.6l14 -14M1153.8 1443.9h16.4M1162 1435.7v16.4M1155 1436.9l14 14M1155 1450.9l14 -14M1160.6 1437.5h16.4M1168.8 1429.3v16.4M1161.8 1430.5l14 14M1161.8 1444.5l14 -14M1167 1433h16.4M1175.2 1424.8v16.4M1168.2 1426l14 14M1168.2 1440l14 -14M1173.1 1428.7h16.4M1181.3 1420.5v16.4M1174.3 1421.7l14 14M1174.3 1435.7l14 -14M1203.8 1395.2h16.4M1212 1387v16.4M1205 1388.2l14 14M1205 1402.2l14 -14M1224.2 1371.9h16.4M1232.4 1363.7v16.4M1225.4 1364.9l14 14M1225.4 1378.9l14 -14M1241.4 1353h16.4M1249.6 1344.8v16.4M1242.6 1346l14 14M1242.6 1360l14 -14M1256.3 1335.7h16.4M1264.5 1327.5v16.4M1257.5 1328.7l14 14M1257.5 1342.7l14 -14M1269.5 1322.1h16.4M1277.7 1313.9v16.4M1270.7 1315.1l14 14M1270.7 1329.1l14 -14M1281.3 1308.9h16.4M1289.5 1300.7v16.4M1282.5 1301.9l14 14M1282.5 1315.9l14 -14" stroke="#e69f00" stroke-width="2.9" fill="none"/>
<path d="M851.8 1547.2 859.3 1546.8 866.7 1546.3 874.1 1545.9 881.5 1545.4 888.9 1544.8 896.4 1544.2 903.8 1543.6 911.2 1543 918.6 1542.3 926 1541.6 933.4 1540.8 940.9 1540 948.3 1539.1 955.7 1538.2 963.1 1537.1 970.5 1536 977.9 1534.8 985.4 1533.6 992.8 1532.3 1000.2 1530.9 1007.6 1529.4 1015 1527.7 1022.5 1525.4 1029.9 1523 1037.3 1520.5 1044.7 1517.9 1052.1 1515.1 1059.5 1512.2 1067 1509.2 1074.4 1505.9 1081.8 1501.6 1089.2 1497.2 1096.6 1492.6 1104.1 1488 1111.5 1483.6 1118.9 1479.1 1126.3 1474.4 1133.7 1469.5 1141.1 1464.6 1148.6 1459.5 1156 1454.4 1163.4 1449.1 1170.8 1443.8 1178.2 1439.8 1185.6 1435.6 1193.1 1431.3 1200.5 1425.8 1207.9 1419.1 1215.3 1412.3 1222.7 1405.7 1230.2 1399.1 1237.6 1392.3 1245 1385.5 1252.4 1378.6 1259.8 1371.7 1267.2 1365.1 1274.7 1358.4 1282.1 1351.6 1289.5 1344.6" stroke="#000" stroke-width="2.8" stroke-dasharray="21 21" fill="none"/>
<rect x="774.3" y="1101.8" width="515.2" height="475.3" fill="none" stroke="#000" stroke-width="2.6"/>
<g fill="#000"><text x="12.3" y="1113.5" font-size="51.43" >b</text><text x="54.3" y="1120.1" font-size="32.39" >2.0</text><text x="53.8" y="1238.8" font-size="32.86" > .5</text><path d="M66.1 1216.2 66.1 1238.8 63.2 1238.8 63.2 1221.7 57.8 1224.4 57.8 1222.1 64.5 1216.2z"/><text x="54.3" y="1357.6" font-size="32.39" > .0</text><path d="M66.4 1335.3 66.4 1357.6 63.5 1357.6 63.5 1340.7 58.2 1343.4 58.2 1341.1 64.8 1335.3z"/><text x="54.5" y="1476.3" font-size="32.39" >0.5</text><text x="54.3" y="1595.1" font-size="32.39" >0.0</text><text x="122.8" y="1643.2" font-size="31.69" >0</text><text x="216.9" y="1643.2" font-size="31.69" >20</text><text x="320.3" y="1643.2" font-size="31.69" >40</text><text x="422.9" y="1643.2" font-size="31.69" >60</text><text x="526.0" y="1643.2" font-size="31.69" >80</text><text x="619.7" y="1643.2" font-size="31.69" > 00</text><path d="M631.5 1621.4 631.5 1643.2 628.7 1643.2 628.7 1626.6 623.5 1629.3 623.5 1627.1 630.0 1621.4z"/><text x="358.9" y="1691.5" font-size="53.62" font-style="italic" >T</text><path d="M619.0 1181.2 619.0 1209.6 615.4 1209.6 615.4 1188.0 608.5 1191.5 608.5 1188.6 617.0 1181.2z"/><text x="601.4" y="1354.4" font-size="41.86" >2</text><text x="603.5" y="1432.9" font-size="40.14" >3</text><text x="691.3" y="1113.4" font-size="49.82" >c</text><text x="695.9" y="1261.2" font-size="30.00" > 0</text><path d="M707.0 1240.6 707.0 1261.2 704.4 1261.2 704.4 1245.5 699.4 1248.1 699.4 1245.9 705.6 1240.6z"/><text x="732.1" y="1248.4" font-size="23.38" >0</text><text x="687.3" y="1561.7" font-size="28.45" > 0</text><path d="M697.9 1542.1 697.9 1561.7 695.4 1561.7 695.4 1546.9 690.7 1549.3 690.7 1547.3 696.5 1542.1z"/><path d="M742.7 1533.6 742.7 1550.1 740.6 1550.1 740.6 1537.6 736.6 1539.6 736.6 1537.9 741.5 1533.6z"/><path d="M722 1542.2h6.3v2.2h-6.3z"/><path d="M779.2 1618.4 779.2 1639.5 776.5 1639.5 776.5 1623.5 771.4 1626.1 771.4 1623.9 777.7 1618.4z"/><text x="1017.1" y="1639.2" font-size="30.99" > 0</text><path d="M1028.6 1617.9 1028.6 1639.2 1025.9 1639.2 1025.9 1623.0 1020.8 1625.6 1020.8 1623.4 1027.1 1617.9z"/><text x="1237.2" y="1639.2" font-size="30.99" > 00</text><path d="M1248.8 1617.9 1248.8 1639.2 1246.1 1639.2 1246.1 1623.0 1240.9 1625.6 1240.9 1623.4 1247.3 1617.9z"/><text x="1016.1" y="1693.0" font-size="53.62" font-style="italic" >T</text><path d="M1259.2 1132.7 1259.2 1160.1 1255.7 1160.1 1255.7 1139.3 1249.1 1142.7 1249.1 1139.9 1257.3 1132.7z"/><text x="1240.6" y="1282.1" font-size="37.86" >2</text><text x="1247.5" y="1410.3" font-size="40.00" >3</text></g>
<text transform="rotate(-90)" x="-814.2" y="43.9" font-size="51.2">Interaction strength</text>
<text transform="rotate(-90)" x="-359.8" y="44.4" font-size="54" font-style="italic">U</text>
<text transform="rotate(-90)" x="-323.3" y="54.2" font-size="34.7" font-style="italic">q</text>
<text transform="rotate(-90)" x="-1452.2" y="37.7" font-size="51.5" textLength="207" lengthAdjust="spacingAndGlyphs"><tspan font-style="italic">ρ</tspan>(<tspan font-style="italic">T</tspan>) (kΩ)</text>
<text transform="rotate(-90)" x="-1478.1" y="702.4" font-size="51.5" textLength="207" lengthAdjust="spacingAndGlyphs"><tspan font-style="italic">ρ</tspan>(<tspan font-style="italic">T</tspan>) (kΩ)</text><path d="M296.9 324.6 540.6 238.6M672 237.6 896 280.4 937.8 444 634.6 579.2 266.3 485.5 296.9 324.6" fill="none" stroke="#fff" stroke-width="3" stroke-linejoin="miter"/>
<path d="M111.3 798.1L110.8 782.6M173.1 818.2L172.3 793.7M236.5 838.9L236.1 823.1M301.6 860.2L301.2 844.2M368.5 882L368.2 865.8M437.2 904.5L436.9 878.7M507.9 927.6L507.8 910.9M580.6 951.3L580.6 934.5M655.5 975.8L655.5 958.7M732.5 1000.9L732.7 973.8M811.8 1026.8L812 1009.3M111.8 267L112.8 297M133.1 254.3L133.7 272.7M154 242L154.5 260.1M174.3 230L174.8 247.9M194.1 218.2L194.6 235.9M213.4 206.8L214.2 235.1M232.3 195.6L232.8 212.9M250.8 184.7L251.2 201.8M268.8 174L269.2 190.9M286.4 163.6L286.8 180.3M303.6 153.4L304.2 180.2M320.4 143.4L320.8 159.8M336.9 133.7L337.2 149.9M353 124.1L353.3 140.2M368.8 114.8L369 130.7M384.2 105.7L384.6 131.2M399.3 96.7L399.5 112.3M414 88L414.2 103.4M428.5 79.4L428.7 94.7M442.7 71L442.8 86.2M456.6 62.8L456.8 87.1M109.6 797.5L121.2 801.3M108.1 755.6L114.9 757.7M106.7 713.5L113.5 715.5M105.3 671.1L112 673.1M103.8 628.5L115.5 631.9M102.4 585.6L109.2 587.5M100.9 542.5L107.7 544.4M99.4 499.2L106.3 501M98 455.6L109.8 458.6M96.5 411.8L103.3 413.4M95 367.7L101.9 369.3M93.5 323.3L100.4 324.9M92 278.7L103.9 281.3" stroke="#707070" stroke-width="1.5" fill="none"/>
<path d="M376.2 831.5V848.3M376.2 877.9V907.9M376.2 937.5V967.5M376.2 997.2V1027.2M376.2 1056.8V1086.8M376.2 1116.5V1146.5M376.2 1176.1V1206.1M376.2 1235.7V1265.7M376.2 1295.4V1325.4M376.2 1355V1385M376.2 1414.7V1444.7M376.2 1474.3V1486M484.3 743.7V760.4M484.3 790V820M484.3 849.6V879.6M484.3 909.3V939.3M484.3 968.9V998.9M484.3 1028.6V1058.6M484.3 1088.2V1118.2M484.3 1147.8V1177.8M484.3 1207.5V1237.5M484.3 1267.1V1297.1M484.3 1326.8V1356.8M484.3 1386.4V1399M553.9 556.6V573.3M553.9 602.9V632.9M553.9 662.5V692.5M553.9 722.2V752.2M553.9 781.8V811.8M553.9 841.5V871.5M553.9 901.1V931.1M553.9 960.7V990.7M553.9 1020.4V1050.4M553.9 1080V1110M553.9 1139.7V1168" stroke="#000" stroke-width="4" fill="none"/>
<path d="M364.4 1479.2L376.2 1485.3L388 1479.2L376.2 1507.8zM472.5 1393.2L484.3 1399.3L496.1 1393.2L484.3 1420.8zM542.1 1162L553.9 1168.1L565.7 1162L553.9 1189.5z" fill="#000"/>
<g fill="#000"><text x="62.8" y="174.9" font-size="51.09" >ɑ</text><text x="86.3" y="237.0" font-size="38.57" >−2</text><text x="189.0" y="176.5" font-size="36.67" >− </text><path d="M224.1 151.3 224.1 176.5 220.9 176.5 220.9 157.4 214.8 160.5 214.8 157.9 222.3 151.3z"/><text x="292.0" y="121.9" font-size="35.77" >0</text><path d="M391.9 48.9 391.9 75.0 388.6 75.0 388.6 55.2 382.3 58.4 382.3 55.7 390.0 48.9z"/><text x="444.7" y="32.8" font-size="37.00" >2</text><text x="57.5" y="286.5" font-size="39.01" >6</text><text x="62.9" y="461.7" font-size="37.25" >4</text><text x="68.2" y="634.8" font-size="39.29" >2</text><text x="75.9" y="801.5" font-size="36.48" >0</text><text x="152.1" y="873.1" font-size="38.43" >−2</text><text x="427.0" y="959.0" font-size="39.01" >0</text><text x="720.4" y="1055.5" font-size="39.00" >2</text><text x="406.1" y="998.2" font-size="51.45" font-style="italic" >k</text><text x="431.9" y="1008.6" font-size="35.47" font-style="italic" >x</text><text x="982.8" y="814.6" font-size="51.72" font-style="italic" >k</text><text x="1009.0" y="824.8" font-size="35.41" font-style="italic" >y</text><text x="264.1" y="300.8" font-size="54.06" font-style="italic" >K</text><text x="298.8" y="303.7" font-size="57.78" font-style="italic" >’</text><text x="211.0" y="534.5" font-size="54.49" font-style="italic" >K</text><path d="M1019.4 237.2 1019.4 273.7 1014.7 273.7 1014.7 246.0 1005.9 250.5 1005.9 246.7 1016.8 237.2z"/><text x="1003.2" y="434.2" font-size="52.86" >2</text><text x="1005.5" y="551.8" font-size="51.97" >3</text><text x="1127.4" y="273.2" font-size="49.66"  textLength="120.6" lengthAdjust="spacingAndGlyphs">small</text><text x="1261.9" y="275.0" font-size="52.82" font-style="italic" >ξ</text><text x="1121.4" y="604.7" font-size="50.16"  textLength="115.6" lengthAdjust="spacingAndGlyphs">large</text><text x="1251.1" y="605.8" font-size="51.71" font-style="italic" >ξ</text></g>
<path d="M1092 585.5V292" stroke="#000" stroke-width="5"/><path d="M1076 297.5L1092 259.4L1108 297.5L1092 292z" fill="#000"/>
</svg></body></html>
